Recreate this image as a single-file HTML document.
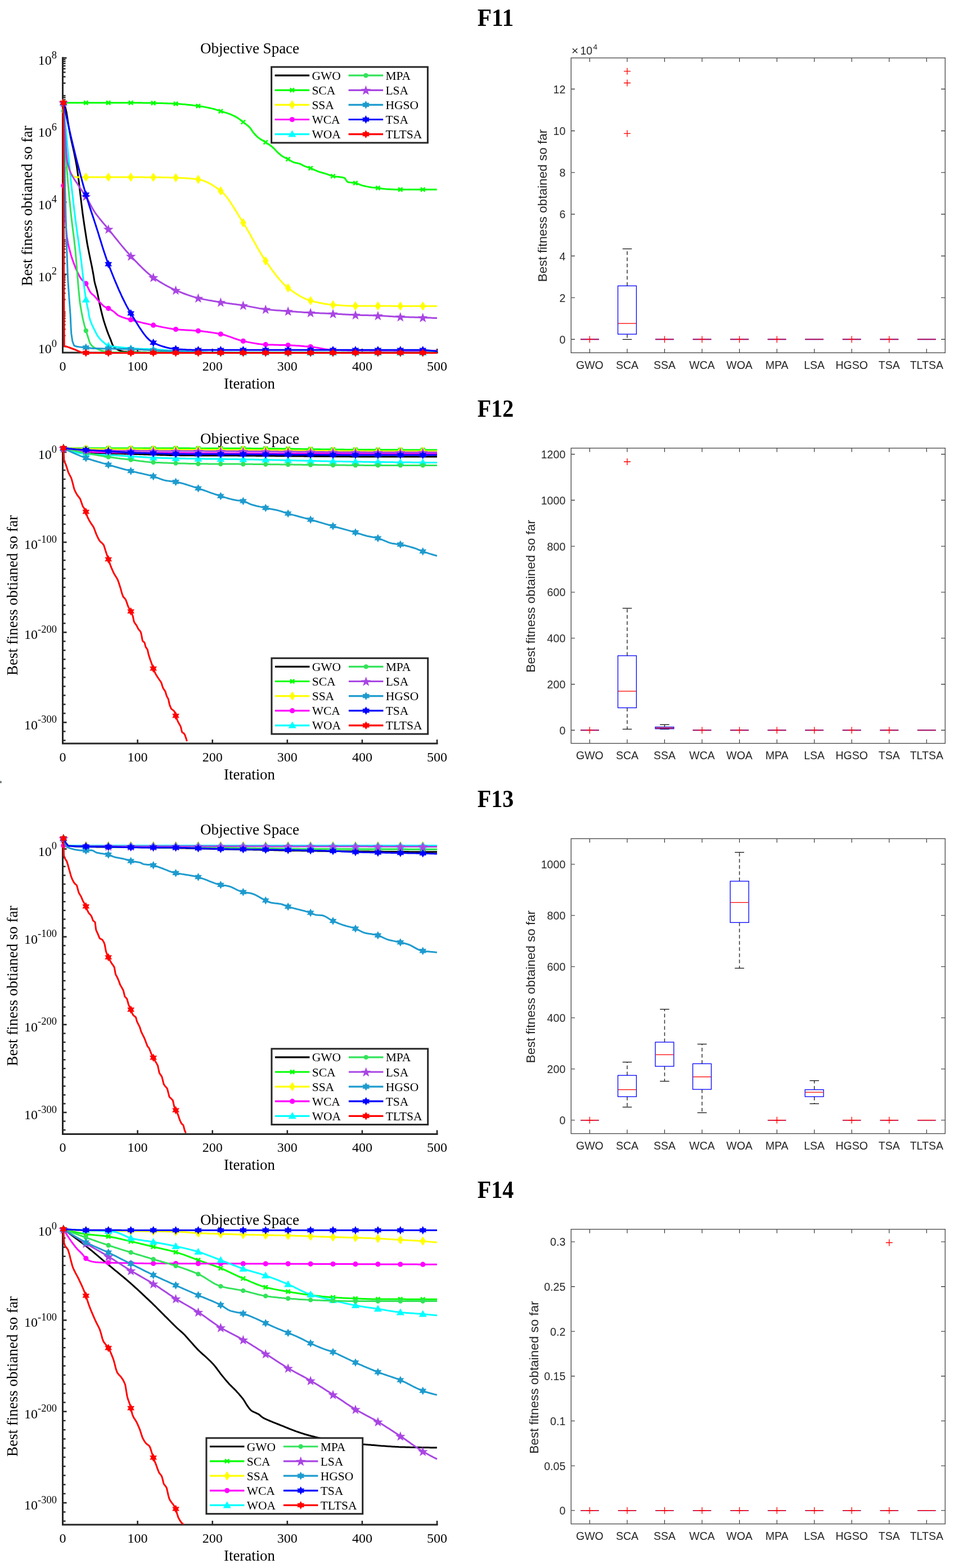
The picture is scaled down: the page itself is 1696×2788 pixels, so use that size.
<!DOCTYPE html>
<html><head><meta charset="utf-8"><title>Convergence curves and boxplots F11-F14</title>
<style>html,body{margin:0;padding:0;background:#fff;}svg{display:block;}</style></head>
<body>
<svg width="1696" height="2788" viewBox="0 0 1696 2788">
<rect width="1696" height="2788" fill="#fff"/>
<text x="881" y="46" font-family="'Liberation Serif', 'Times New Roman', serif" font-size="43.5" font-weight="bold" text-anchor="middle" fill="#000" textLength="64.5" lengthAdjust="spacingAndGlyphs">F11</text>
<path d="M111.5,101.5V627H778.5" fill="none" stroke="#262626" stroke-width="3"/>
<path d="M111.5,627v-7" stroke="#262626" stroke-width="2.6"/>
<text x="111.5" y="659" font-family="'Liberation Serif', 'Times New Roman', serif" font-size="24" text-anchor="middle" fill="#000">0</text>
<path d="M244.6,627v-7" stroke="#262626" stroke-width="2.6"/>
<text x="244.6" y="659" font-family="'Liberation Serif', 'Times New Roman', serif" font-size="24" text-anchor="middle" fill="#000">100</text>
<path d="M377.7,627v-7" stroke="#262626" stroke-width="2.6"/>
<text x="377.7" y="659" font-family="'Liberation Serif', 'Times New Roman', serif" font-size="24" text-anchor="middle" fill="#000">200</text>
<path d="M510.8,627v-7" stroke="#262626" stroke-width="2.6"/>
<text x="510.8" y="659" font-family="'Liberation Serif', 'Times New Roman', serif" font-size="24" text-anchor="middle" fill="#000">300</text>
<path d="M643.9,627v-7" stroke="#262626" stroke-width="2.6"/>
<text x="643.9" y="659" font-family="'Liberation Serif', 'Times New Roman', serif" font-size="24" text-anchor="middle" fill="#000">400</text>
<path d="M777,627v-7" stroke="#262626" stroke-width="2.6"/>
<text x="777" y="659" font-family="'Liberation Serif', 'Times New Roman', serif" font-size="24" text-anchor="middle" fill="#000">500</text>
<path d="M111.5,103h7" stroke="#262626" stroke-width="2.6"/>
<text x="101" y="115" font-family="'Liberation Serif', 'Times New Roman', serif" font-size="24" text-anchor="end" fill="#000">10<tspan dy="-11.5" font-size="18.5">8</tspan></text>
<path d="M111.5,231.2h7" stroke="#262626" stroke-width="2.6"/>
<text x="101" y="243.2" font-family="'Liberation Serif', 'Times New Roman', serif" font-size="24" text-anchor="end" fill="#000">10<tspan dy="-11.5" font-size="18.5">6</tspan></text>
<path d="M111.5,359.5h7" stroke="#262626" stroke-width="2.6"/>
<text x="101" y="371.5" font-family="'Liberation Serif', 'Times New Roman', serif" font-size="24" text-anchor="end" fill="#000">10<tspan dy="-11.5" font-size="18.5">4</tspan></text>
<path d="M111.5,487.8h7" stroke="#262626" stroke-width="2.6"/>
<text x="101" y="499.8" font-family="'Liberation Serif', 'Times New Roman', serif" font-size="24" text-anchor="end" fill="#000">10<tspan dy="-11.5" font-size="18.5">2</tspan></text>
<path d="M111.5,616h7" stroke="#262626" stroke-width="2.6"/>
<text x="101" y="628" font-family="'Liberation Serif', 'Times New Roman', serif" font-size="24" text-anchor="end" fill="#000">10<tspan dy="-11.5" font-size="18.5">0</tspan></text>
<path d="M111.5,596.7h5" stroke="#262626" stroke-width="2.4"/>
<path d="M111.5,585.4h5" stroke="#262626" stroke-width="2.4"/>
<path d="M111.5,577.4h5" stroke="#262626" stroke-width="2.4"/>
<path d="M111.5,571.2h5" stroke="#262626" stroke-width="2.4"/>
<path d="M111.5,566.1h5" stroke="#262626" stroke-width="2.4"/>
<path d="M111.5,561.8h5" stroke="#262626" stroke-width="2.4"/>
<path d="M111.5,558.1h5" stroke="#262626" stroke-width="2.4"/>
<path d="M111.5,554.8h5" stroke="#262626" stroke-width="2.4"/>
<path d="M111.5,532.6h5" stroke="#262626" stroke-width="2.4"/>
<path d="M111.5,521.3h5" stroke="#262626" stroke-width="2.4"/>
<path d="M111.5,513.3h5" stroke="#262626" stroke-width="2.4"/>
<path d="M111.5,507.1h5" stroke="#262626" stroke-width="2.4"/>
<path d="M111.5,502h5" stroke="#262626" stroke-width="2.4"/>
<path d="M111.5,497.7h5" stroke="#262626" stroke-width="2.4"/>
<path d="M111.5,494h5" stroke="#262626" stroke-width="2.4"/>
<path d="M111.5,490.7h5" stroke="#262626" stroke-width="2.4"/>
<path d="M111.5,468.4h5" stroke="#262626" stroke-width="2.4"/>
<path d="M111.5,457.2h5" stroke="#262626" stroke-width="2.4"/>
<path d="M111.5,449.1h5" stroke="#262626" stroke-width="2.4"/>
<path d="M111.5,442.9h5" stroke="#262626" stroke-width="2.4"/>
<path d="M111.5,437.9h5" stroke="#262626" stroke-width="2.4"/>
<path d="M111.5,433.6h5" stroke="#262626" stroke-width="2.4"/>
<path d="M111.5,429.8h5" stroke="#262626" stroke-width="2.4"/>
<path d="M111.5,426.6h5" stroke="#262626" stroke-width="2.4"/>
<path d="M111.5,404.3h5" stroke="#262626" stroke-width="2.4"/>
<path d="M111.5,393h5" stroke="#262626" stroke-width="2.4"/>
<path d="M111.5,385h5" stroke="#262626" stroke-width="2.4"/>
<path d="M111.5,378.8h5" stroke="#262626" stroke-width="2.4"/>
<path d="M111.5,373.7h5" stroke="#262626" stroke-width="2.4"/>
<path d="M111.5,369.4h5" stroke="#262626" stroke-width="2.4"/>
<path d="M111.5,365.7h5" stroke="#262626" stroke-width="2.4"/>
<path d="M111.5,362.4h5" stroke="#262626" stroke-width="2.4"/>
<path d="M111.5,340.2h5" stroke="#262626" stroke-width="2.4"/>
<path d="M111.5,328.9h5" stroke="#262626" stroke-width="2.4"/>
<path d="M111.5,320.9h5" stroke="#262626" stroke-width="2.4"/>
<path d="M111.5,314.7h5" stroke="#262626" stroke-width="2.4"/>
<path d="M111.5,309.6h5" stroke="#262626" stroke-width="2.4"/>
<path d="M111.5,305.3h5" stroke="#262626" stroke-width="2.4"/>
<path d="M111.5,301.6h5" stroke="#262626" stroke-width="2.4"/>
<path d="M111.5,298.3h5" stroke="#262626" stroke-width="2.4"/>
<path d="M111.5,276.1h5" stroke="#262626" stroke-width="2.4"/>
<path d="M111.5,264.8h5" stroke="#262626" stroke-width="2.4"/>
<path d="M111.5,256.8h5" stroke="#262626" stroke-width="2.4"/>
<path d="M111.5,250.6h5" stroke="#262626" stroke-width="2.4"/>
<path d="M111.5,245.5h5" stroke="#262626" stroke-width="2.4"/>
<path d="M111.5,241.2h5" stroke="#262626" stroke-width="2.4"/>
<path d="M111.5,237.5h5" stroke="#262626" stroke-width="2.4"/>
<path d="M111.5,234.2h5" stroke="#262626" stroke-width="2.4"/>
<path d="M111.5,211.9h5" stroke="#262626" stroke-width="2.4"/>
<path d="M111.5,200.7h5" stroke="#262626" stroke-width="2.4"/>
<path d="M111.5,192.6h5" stroke="#262626" stroke-width="2.4"/>
<path d="M111.5,186.4h5" stroke="#262626" stroke-width="2.4"/>
<path d="M111.5,181.4h5" stroke="#262626" stroke-width="2.4"/>
<path d="M111.5,177.1h5" stroke="#262626" stroke-width="2.4"/>
<path d="M111.5,173.3h5" stroke="#262626" stroke-width="2.4"/>
<path d="M111.5,170.1h5" stroke="#262626" stroke-width="2.4"/>
<path d="M111.5,147.8h5" stroke="#262626" stroke-width="2.4"/>
<path d="M111.5,136.5h5" stroke="#262626" stroke-width="2.4"/>
<path d="M111.5,128.5h5" stroke="#262626" stroke-width="2.4"/>
<path d="M111.5,122.3h5" stroke="#262626" stroke-width="2.4"/>
<path d="M111.5,117.2h5" stroke="#262626" stroke-width="2.4"/>
<path d="M111.5,112.9h5" stroke="#262626" stroke-width="2.4"/>
<path d="M111.5,109.2h5" stroke="#262626" stroke-width="2.4"/>
<path d="M111.5,105.9h5" stroke="#262626" stroke-width="2.4"/>
<polyline points="112.8,183 115.5,189.1 116.7,193 118.2,199.6 120.8,216.3 123.5,233 126.1,246.4 128.8,258.5 131.5,270.4 134.1,283.3 136.7,297.5 136.8,298.3 139.5,317.4 142.1,339.7 144.8,362.4 147,380 147.4,382.9 150.1,401.5 152.8,419 155,432.7 155.4,435 158.1,448.8 160.7,461.5 163.4,474.3 165.5,485.5 166.1,488.7 167.9,500 168.7,503.6 171.4,513.4 172.7,518.7 174.1,525.2 176.5,537.4 176.7,538.6 179.4,550.3 179.6,551.4 182,561.1 184.4,570 184.7,570.9 187.4,579.4 189,584.1 190,587.1 192.7,594.3 193.4,596 195.4,600.8 196.7,604 198,607.8 200,613 200.7,614.3 203.3,618 206,620 208.7,621.5 211.3,622.7 213.5,623.4 214,623.6 216.6,624.4 219.3,624.9 220,625 222,625.2 224.6,625.3 227.3,625.5 230,625.6 232.6,625.7 235.3,625.8 237.9,625.8 240.6,625.9 243.3,626 244.6,626 245.9,626 248.6,626.1 251.3,626.2 253.9,626.2 256.6,626.3 259.2,626.3 261.9,626.4 264.6,626.4 267.2,626.5 269.9,626.6 272.6,626.6 275.2,626.7 277.9,626.7 280.5,626.7 283.2,626.8 285.9,626.8 288.5,626.9 291.2,626.9 293.8,626.9 296.5,626.9 299.2,627 301.8,627 304.5,627 307.2,627 309.8,627 311.1,627 312.5,627 315.1,627 317.8,627 320.5,627 323.1,627 325.8,627 328.5,627 331.1,627 333.8,627 336.4,627 339.1,627 341.8,627 344.4,627 347.1,627 349.7,627 352.4,627 355.1,627 357.7,627 360.4,627 363.1,627 365.7,627 368.4,627 371,627 373.7,627 376.4,627 379,627 381.7,627 384.4,627 387,627 389.7,627 392.3,627 395,627 397.7,627 400.3,627 403,627 405.7,627 408.3,627 411,627 413.6,627 416.3,627 419,627 421.6,627 424.3,627 426.9,627 429.6,627 432.3,627 434.9,627 437.6,627 440.3,627 442.9,627 445.6,627 448.2,627 450.9,627 453.6,627 456.2,627 458.9,627 461.6,627 464.2,627 466.9,627 469.5,627 472.2,627 474.9,627 477.5,627 480.2,627 482.8,627 485.5,627 488.2,627 490.8,627 493.5,627 496.2,627 498.8,627 501.5,627 504.1,627 506.8,627 509.5,627 512.1,627 514.8,627 517.5,627 520.1,627 522.8,627 525.4,627 528.1,627 530.8,627 533.4,627 536.1,627 538.8,627 541.4,627 544.1,627 546.7,627 549.4,627 552.1,627 554.7,627 557.4,627 560,627 562.7,627 565.4,627 568,627 570.7,627 573.4,627 576,627 578.7,627 581.3,627 584,627 586.7,627 589.3,627 592,627 594.7,627 597.3,627 600,627 602.6,627 605.3,627 608,627 610.6,627 613.3,627 615.9,627 618.6,627 621.3,627 623.9,627 626.6,627 629.3,627 631.9,627 634.6,627 637.2,627 639.9,627 642.6,627 645.2,627 647.9,627 650.6,627 653.2,627 655.9,627 658.5,627 661.2,627 663.9,627 666.5,627 669.2,627 671.9,627 674.5,627 677.2,627 679.8,627 682.5,627 685.2,627 687.8,627 690.5,627 693.1,627 695.8,627 698.5,627 701.1,627 703.8,627 706.5,627 709.1,627 711.8,627 714.4,627 717.1,627 719.8,627 722.4,627 725.1,627 727.8,627 730.4,627 733.1,627 735.7,627 738.4,627 741.1,627 743.7,627 746.4,627 749,627 751.7,627 754.4,627 757,627 759.7,627 762.4,627 765,627 767.7,627 770.3,627 773,627 775.7,627 777,627" fill="none" stroke="#000000" stroke-width="3.0" stroke-linejoin="round"/>

















<polyline points="112.8,182.7 115.5,182.7 118.2,182.7 120.8,182.7 123.5,182.7 126.1,182.7 128.8,182.7 131.5,182.7 134.1,182.7 136.8,182.7 139.5,182.7 142.1,182.7 144.8,182.7 147.4,182.7 150.1,182.7 152.8,182.7 155.4,182.7 158.1,182.7 160.7,182.7 163.4,182.7 166.1,182.7 168.7,182.7 171.4,182.7 174.1,182.7 176.7,182.7 179.4,182.7 182,182.7 184.7,182.7 187.4,182.7 190,182.7 192.7,182.7 195.4,182.7 198,182.7 200.7,182.7 203.3,182.7 206,182.7 208.7,182.7 211.3,182.7 214,182.7 216.6,182.7 219.3,182.7 222,182.7 224.6,182.7 227.3,182.7 230,182.7 232.6,182.7 235.3,182.7 237.9,182.7 240.6,182.7 243.3,182.8 245.9,182.8 248.6,182.8 251.3,182.8 253.9,182.9 256.6,182.9 259.2,183 261.9,183 264.6,183.1 267.2,183.1 269.9,183.2 272.6,183.2 275.2,183.3 277.9,183.3 280.5,183.4 283.2,183.4 285.9,183.5 288.5,183.6 291.2,183.7 293.8,183.7 296.5,183.8 299.2,183.9 301.8,184 304.5,184.1 307.2,184.3 309.8,184.4 312.5,184.5 315.1,184.6 317.8,184.8 320.5,185 323.1,185.2 325.8,185.4 328.5,185.6 331.1,185.9 333.8,186.2 336.4,186.5 339.1,186.8 341.8,187.1 344.4,187.4 347.1,187.7 349.7,188.1 352.4,188.4 355.1,188.8 357.7,189.2 360.4,189.6 363.1,190.1 365.7,190.6 368.4,191.1 371,191.7 373.7,192.2 376.4,192.9 379,193.5 381.7,194.2 384.4,195.1 387,195.9 389.7,196.8 392.3,197.7 392.3,197.7 395,198.5 397.7,199.3 400.3,200.1 403,200.9 405.7,201.8 407.4,202.4 408.3,202.7 411,203.8 413.6,205 416.3,206.2 419,207.6 421,208.7 421.6,209.1 424.3,210.9 426.9,212.9 429.6,215 432,216.9 432.3,217.1 434.9,219.1 437.6,221.1 440.3,223.2 442.9,225.6 444.3,227 445.6,228.6 448.2,232.6 450.9,236.4 451.1,236.6 453.6,239.4 456.2,242.1 458.9,244.5 459.3,244.8 461.6,246.4 464.2,248.1 466.9,249.6 469.5,251.2 471.6,252.5 472.2,252.9 474.9,254.7 477.5,256.4 480.2,258.3 482.8,260.3 483.9,261.2 485.5,262.6 488.2,265.3 490.8,268.1 493.5,270.8 494.9,272.1 496.2,273.2 498.8,275.5 501.5,277.5 501.7,277.6 504.1,279 506.8,280.3 509.5,281.6 511.3,282.5 512.1,283 514.8,284.6 517.5,286.2 520.1,287.7 522.2,288.6 522.8,288.8 525.4,289.5 528.1,290 530.8,290.6 533.2,291.3 533.4,291.4 536.1,292.6 538.8,294.1 541.4,295.4 541.4,295.4 544.1,296.4 546.7,297.3 549.4,298.2 551.8,299 552.1,299.1 554.7,300.2 557.4,301.4 560,302.6 562.7,303.7 565.4,304.8 566,305 568,305.7 570.7,306.5 573.4,307.3 576,308 578.7,308.8 579.7,309.1 581.3,309.6 584,310.6 586.7,311.6 589.3,312.5 592,313.2 592,313.2 594.7,313.7 597.3,314.1 600,314.3 602.6,314.6 605.3,314.9 608,315.3 610.6,315.9 612.5,316.5 613.3,317.1 615.9,321.3 618,323.6 618.6,323.8 621.3,324.3 623.9,324.6 626.6,324.9 629.3,325.1 631.6,325.5 631.9,325.6 634.6,326.3 637.2,327.2 639.9,328.3 642.6,329.3 645.2,330.1 645.3,330.1 647.9,330.7 650.6,331.4 653.2,331.9 655.9,332.4 658.5,332.8 659,332.9 661.2,333.2 663.9,333.5 666.5,333.7 669.2,334 671.3,334.2 671.9,334.3 674.5,334.6 677.2,335 679.8,335.4 682.5,335.8 685.2,336.1 687.8,336.3 689.1,336.4 690.5,336.5 693.1,336.6 695.8,336.7 698.5,336.8 701.1,336.9 703.8,336.9 706.5,337 709.1,337 711,337 711.8,337 714.4,337 717.1,337 719.8,337 722.4,337 725.1,337 727.8,337 730.4,337 733.1,337 735.7,337 738.4,337 741.1,337 743.7,337 746.4,337 749,337 751.7,337 754.4,337 757,337 759.7,337 762.4,337 765,337 767.7,337 770.3,337 773,337 775.7,337 776.6,337" fill="none" stroke="#00ff00" stroke-width="3.0" stroke-linejoin="round"/>
<path d="M109.2,179.1L116.4,186.3M109.2,186.3L116.4,179.1" stroke="#00ff00" stroke-width="2.6" fill="none"/>
<path d="M149.2,179.1L156.4,186.3M149.2,186.3L156.4,179.1" stroke="#00ff00" stroke-width="2.6" fill="none"/>
<path d="M189.1,179.1L196.3,186.3M189.1,186.3L196.3,179.1" stroke="#00ff00" stroke-width="2.6" fill="none"/>
<path d="M229,179.1L236.2,186.3M229,186.3L236.2,179.1" stroke="#00ff00" stroke-width="2.6" fill="none"/>
<path d="M269,179.6L276.2,186.8M269,186.8L276.2,179.6" stroke="#00ff00" stroke-width="2.6" fill="none"/>
<path d="M308.9,180.9L316.1,188.1M308.9,188.1L316.1,180.9" stroke="#00ff00" stroke-width="2.6" fill="none"/>
<path d="M348.8,184.8L356,192M348.8,192L356,184.8" stroke="#00ff00" stroke-width="2.6" fill="none"/>
<path d="M388.7,194.1L395.9,201.3M388.7,201.3L395.9,194.1" stroke="#00ff00" stroke-width="2.6" fill="none"/>
<path d="M428.7,213.5L435.9,220.7M428.7,220.7L435.9,213.5" stroke="#00ff00" stroke-width="2.6" fill="none"/>
<path d="M468.6,249.3L475.8,256.5M468.6,256.5L475.8,249.3" stroke="#00ff00" stroke-width="2.6" fill="none"/>
<path d="M508.5,279.4L515.7,286.6M508.5,286.6L515.7,279.4" stroke="#00ff00" stroke-width="2.6" fill="none"/>
<path d="M548.5,295.5L555.7,302.7M548.5,302.7L555.7,295.5" stroke="#00ff00" stroke-width="2.6" fill="none"/>
<path d="M588.4,309.6L595.6,316.8M588.4,316.8L595.6,309.6" stroke="#00ff00" stroke-width="2.6" fill="none"/>
<path d="M628.3,322L635.5,329.2M628.3,329.2L635.5,322" stroke="#00ff00" stroke-width="2.6" fill="none"/>
<path d="M668.3,330.7L675.5,337.9M668.3,337.9L675.5,330.7" stroke="#00ff00" stroke-width="2.6" fill="none"/>
<path d="M708.2,333.4L715.4,340.6M708.2,340.6L715.4,333.4" stroke="#00ff00" stroke-width="2.6" fill="none"/>
<path d="M748.1,333.4L755.3,340.6M748.1,340.6L755.3,333.4" stroke="#00ff00" stroke-width="2.6" fill="none"/>
<polyline points="112.8,182.7 115.5,250 118.2,281.2 119.5,290 120.8,295.7 123.5,303.6 124.8,306 126.1,308 128.8,311.4 131.5,313.8 134.1,314.8 136.8,314.9 139.5,314.9 142.1,314.9 144.8,315 147.4,315 150.1,315 152.8,315 155.4,315 158.1,315 160.7,315 163.4,315 166.1,315 168.7,315 171.4,315.1 174.1,315.1 176.7,315.1 179.4,315.1 182,315.1 184.7,315.1 187.4,315.1 190,315.1 192.7,315.1 195.4,315.1 198,315.1 200.7,315.1 203.3,315.1 206,315.1 208.7,315.1 211.3,315.1 214,315.1 216.6,315.1 219.3,315.1 222,315.1 224.6,315.1 227.3,315.1 230,315.1 232.6,315.1 235.3,315.1 237.9,315.1 240.6,315.1 243.3,315.1 245.9,315.1 248.6,315.1 251.3,315.1 253.9,315.1 256.6,315.2 259.2,315.2 261.9,315.2 264.6,315.2 267.2,315.2 269.9,315.2 272.6,315.2 275.2,315.2 277.9,315.2 280.5,315.3 283.2,315.3 285.9,315.3 288.5,315.4 291.2,315.4 293.8,315.5 296.5,315.6 299.2,315.6 301.8,315.7 304.5,315.8 307.2,315.8 309.8,315.9 312.5,316 315.1,316.1 317.8,316.2 320.5,316.3 323.1,316.4 325.8,316.6 328.5,316.7 331.1,316.9 333.8,317.1 336.4,317.3 339.1,317.5 341.8,317.8 344.4,318.1 347.1,318.3 349.7,318.7 352.4,319 355.1,319.4 357.7,320.1 360.4,320.8 363.1,321.8 365.7,322.8 368.4,324.1 371,325.4 373.7,326.8 376.4,328.4 379,330.1 381.7,331.8 384.4,333.6 387,335.5 389.7,337.4 392.3,339.4 395,341.6 397.7,344.2 400.3,347.1 403,350.4 405.7,353.9 408.3,357.7 411,361.7 413.6,365.8 416.3,370.1 419,374.4 421.6,378.8 424.3,383.2 426.9,387.5 429.6,391.8 432.3,396 434.9,400.2 437.6,404.6 440.3,409.2 442.9,413.8 445.6,418.6 448.2,423.4 450.9,428.2 453.6,433 456.2,437.8 458.9,442.5 461.6,447.1 464.2,451.6 466.9,455.9 469.5,460 472.2,463.9 474.9,467.7 477.5,471.4 480.2,475.1 482.8,478.8 485.5,482.4 488.2,486 490.8,489.5 493.5,492.8 496.2,496 498.8,499.1 501.5,502.1 504.1,504.9 506.8,507.5 509.5,509.8 512.1,512 514.8,514 517.5,516 520.1,517.9 522.8,519.8 525.4,521.6 528.1,523.3 530.8,525 533.4,526.5 536.1,528 538.8,529.4 541.4,530.6 544.1,531.8 546.7,532.9 549.4,533.8 552.1,534.6 554.7,535.3 557.4,536 560,536.7 562.7,537.3 565.4,537.9 568,538.5 570.7,539 573.4,539.5 576,540 578.7,540.4 581.3,540.8 584,541.2 586.7,541.5 589.3,541.8 592,542 594.7,542.2 597.3,542.4 600,542.6 602.6,542.8 605.3,543 608,543.1 610.6,543.3 613.3,543.4 615.9,543.6 618.6,543.7 621.3,543.8 623.9,543.9 626.6,543.9 629.3,544 631.9,544 634.6,544 637.2,544 639.9,544 642.6,544 645.2,544 647.9,544 650.6,544.1 653.2,544.1 655.9,544.1 658.5,544.1 661.2,544.1 663.9,544.1 666.5,544.1 669.2,544.1 671.9,544.1 674.5,544.1 677.2,544.1 679.8,544.1 682.5,544.1 685.2,544.1 687.8,544.1 690.5,544.1 693.1,544.1 695.8,544.1 698.5,544.2 701.1,544.2 703.8,544.2 706.5,544.2 709.1,544.2 711.8,544.2 714.4,544.2 717.1,544.2 719.8,544.2 722.4,544.2 725.1,544.2 727.8,544.2 730.4,544.2 733.1,544.2 735.7,544.2 738.4,544.2 741.1,544.2 743.7,544.2 746.4,544.2 749,544.2 751.7,544.2 754.4,544.2 757,544.2 759.7,544.2 762.4,544.2 765,544.2 767.7,544.2 770.3,544.2 773,544.2 775.7,544.2 777,544.2" fill="none" stroke="#ffff00" stroke-width="3.0" stroke-linejoin="round"/>
<path d="M112.8,175.2L117.6,182.7L112.8,190.2L108,182.7Z" fill="#ffff00" stroke="#ffff00" stroke-width="1"/>
<path d="M152.8,307.5L157.6,315L152.8,322.5L148,315Z" fill="#ffff00" stroke="#ffff00" stroke-width="1"/>
<path d="M192.7,307.6L197.5,315.1L192.7,322.6L187.9,315.1Z" fill="#ffff00" stroke="#ffff00" stroke-width="1"/>
<path d="M232.6,307.6L237.4,315.1L232.6,322.6L227.8,315.1Z" fill="#ffff00" stroke="#ffff00" stroke-width="1"/>
<path d="M272.6,307.7L277.4,315.2L272.6,322.7L267.8,315.2Z" fill="#ffff00" stroke="#ffff00" stroke-width="1"/>
<path d="M312.5,308.5L317.3,316L312.5,323.5L307.7,316Z" fill="#ffff00" stroke="#ffff00" stroke-width="1"/>
<path d="M352.4,311.5L357.2,319L352.4,326.5L347.6,319Z" fill="#ffff00" stroke="#ffff00" stroke-width="1"/>
<path d="M392.3,331.9L397.1,339.4L392.3,346.9L387.5,339.4Z" fill="#ffff00" stroke="#ffff00" stroke-width="1"/>
<path d="M432.3,388.5L437.1,396L432.3,403.5L427.5,396Z" fill="#ffff00" stroke="#ffff00" stroke-width="1"/>
<path d="M472.2,456.4L477,463.9L472.2,471.4L467.4,463.9Z" fill="#ffff00" stroke="#ffff00" stroke-width="1"/>
<path d="M512.1,504.5L516.9,512L512.1,519.5L507.3,512Z" fill="#ffff00" stroke="#ffff00" stroke-width="1"/>
<path d="M552.1,527.1L556.9,534.6L552.1,542.1L547.3,534.6Z" fill="#ffff00" stroke="#ffff00" stroke-width="1"/>
<path d="M592,534.5L596.8,542L592,549.5L587.2,542Z" fill="#ffff00" stroke="#ffff00" stroke-width="1"/>
<path d="M631.9,536.5L636.7,544L631.9,551.5L627.1,544Z" fill="#ffff00" stroke="#ffff00" stroke-width="1"/>
<path d="M671.9,536.6L676.7,544.1L671.9,551.6L667.1,544.1Z" fill="#ffff00" stroke="#ffff00" stroke-width="1"/>
<path d="M711.8,536.7L716.6,544.2L711.8,551.7L707,544.2Z" fill="#ffff00" stroke="#ffff00" stroke-width="1"/>
<path d="M751.7,536.7L756.5,544.2L751.7,551.7L746.9,544.2Z" fill="#ffff00" stroke="#ffff00" stroke-width="1"/>
<polyline points="112.8,330 115.5,379.2 118.2,414.1 119.1,422 120.8,432.3 123.3,443 123.5,443.5 126.1,453.1 128.8,461.5 131.5,469 133.9,475 134.1,475.6 136.8,481.9 139.5,487.6 142.1,492.6 144.4,496 144.8,496.5 147.4,499.2 150.1,501.4 152.8,504.2 155.4,509.1 158.1,515.1 160.6,519.6 160.7,519.8 163.4,522.6 166.1,524.8 167.9,526.6 168.7,527.5 171.4,530.5 174.1,533.7 176.7,536.7 177.4,537.4 179.4,539.4 182,542.1 184.7,544.5 186.7,545.8 187.4,546.1 190,547.2 192.7,548.3 195.4,549.7 198,551.3 200.7,553 202.9,554.6 203.3,554.9 206,557.4 208.7,559.8 210,560.7 211.3,561.4 214,562.6 216.6,563.7 219.3,564.6 222,565.5 224.6,566.3 227.3,567 230,567.7 232.6,568.5 235.3,569.3 237.9,570 240.6,570.7 243.3,571.4 245.9,572.1 248.6,572.8 251.3,573.4 253.9,574.1 256.6,574.7 259.2,575.3 261.9,575.9 264.6,576.5 267.2,577.1 269.9,577.6 272.6,578.2 275.2,578.8 277.9,579.3 280.5,579.9 283.2,580.5 285.9,581 288.5,581.6 291.2,582.1 293.8,582.6 296.5,583.1 299.2,583.6 301.8,584.1 304.5,584.5 307.2,584.9 309.8,585.2 312.5,585.5 315.1,585.8 317.8,586 320.5,586.2 323.1,586.4 325.8,586.5 328.5,586.7 331.1,586.9 333.8,587 336.4,587.2 339.1,587.3 341.8,587.5 344.4,587.7 347.1,587.9 349.7,588.1 352.4,588.3 355.1,588.6 357.7,588.8 360.4,589.1 363.1,589.4 365.7,589.8 368.4,590.1 371,590.5 373.7,590.8 376.4,591.2 379,591.6 381.7,592.1 384.4,592.5 387,593 389.7,593.5 392.3,594 395,594.6 397.7,595.3 400.3,596 403,596.9 405.7,597.8 408.3,598.7 411,599.6 413.6,600.6 416.3,601.6 419,602.5 421.6,603.4 424.3,604.3 426.9,605.1 429.6,605.8 432.3,606.4 434.9,607 437.6,607.5 440.3,608.1 442.9,608.6 445.6,609.1 448.2,609.6 450.9,610.1 453.6,610.6 456.2,611 458.9,611.4 461.6,611.8 464.2,612.1 466.9,612.3 469.5,612.5 472.2,612.7 474.9,612.8 477.5,612.9 480.2,613 482.8,613.1 485.5,613.1 488.2,613.2 490.8,613.3 493.5,613.3 496.2,613.4 498.8,613.4 501.5,613.5 504.1,613.5 506.8,613.6 509.5,613.7 512.1,613.8 514.8,613.9 517.5,614 520.1,614.2 522.8,614.3 525.4,614.5 528.1,614.7 530.8,614.8 533.4,615 536.1,615.2 538.8,615.4 541.4,615.7 544.1,615.9 546.7,616.1 549.4,616.4 552.1,616.6 554.7,616.9 557.4,617.2 560,617.6 562.7,618.1 565.4,618.5 568,619 570.7,619.5 573.4,620 576,620.5 578.7,620.9 581.3,621.3 584,621.7 586.7,622 589.3,622.2 592,622.3 594.7,622.4 597.3,622.5 600,622.5 602.6,622.6 605.3,622.6 608,622.7 610.6,622.7 613.3,622.8 615.9,622.8 618.6,622.9 621.3,622.9 623.9,622.9 626.6,623 629.3,623 631.9,623 634.6,623 637.2,623 639.9,623.1 642.6,623.1 645.2,623.1 647.9,623.1 650.6,623.1 653.2,623.1 655.9,623.1 658.5,623.2 661.2,623.2 663.9,623.2 666.5,623.2 669.2,623.2 671.9,623.2 674.5,623.2 677.2,623.3 679.8,623.3 682.5,623.3 685.2,623.3 687.8,623.3 690.5,623.3 693.1,623.3 695.8,623.3 698.5,623.3 701.1,623.4 703.8,623.4 706.5,623.4 709.1,623.4 711.8,623.4 714.4,623.4 717.1,623.4 719.8,623.4 722.4,623.4 725.1,623.4 727.8,623.4 730.4,623.4 733.1,623.5 735.7,623.5 738.4,623.5 741.1,623.5 743.7,623.5 746.4,623.5 749,623.5 751.7,623.5 754.4,623.5 757,623.5 759.7,623.5 762.4,623.5 765,623.5 767.7,623.5 770.3,623.5 773,623.5 775.7,623.5 777,623.5" fill="none" stroke="#ff00ff" stroke-width="3.0" stroke-linejoin="round"/>
<circle cx="112.8" cy="330" r="4.6" fill="#ff00ff"/>
<circle cx="152.8" cy="504.2" r="4.6" fill="#ff00ff"/>
<circle cx="192.7" cy="548.3" r="4.6" fill="#ff00ff"/>
<circle cx="232.6" cy="568.5" r="4.6" fill="#ff00ff"/>
<circle cx="272.6" cy="578.2" r="4.6" fill="#ff00ff"/>
<circle cx="312.5" cy="585.5" r="4.6" fill="#ff00ff"/>
<circle cx="352.4" cy="588.3" r="4.6" fill="#ff00ff"/>
<circle cx="392.3" cy="594" r="4.6" fill="#ff00ff"/>
<circle cx="432.3" cy="606.4" r="4.6" fill="#ff00ff"/>
<circle cx="472.2" cy="612.7" r="4.6" fill="#ff00ff"/>
<circle cx="512.1" cy="613.8" r="4.6" fill="#ff00ff"/>
<circle cx="552.1" cy="616.6" r="4.6" fill="#ff00ff"/>
<circle cx="592" cy="622.3" r="4.6" fill="#ff00ff"/>
<circle cx="631.9" cy="623" r="4.6" fill="#ff00ff"/>
<circle cx="671.9" cy="623.2" r="4.6" fill="#ff00ff"/>
<circle cx="711.8" cy="623.4" r="4.6" fill="#ff00ff"/>
<circle cx="751.7" cy="623.5" r="4.6" fill="#ff00ff"/>
<polyline points="112.8,183 115.5,213.1 118.2,242 120.8,269.7 123.5,296.2 126.1,321.6 128.8,345.8 131.5,368.9 132.8,380 134.1,390.6 136.8,410.3 139.5,428.7 142.1,447.3 144.4,464 144.8,467.1 147.4,490.2 150.1,513.6 152.8,532.7 155.4,545 156.8,551.4 158.1,560.2 158.6,563.1 160.7,570.4 163.4,577.1 166.1,582.8 167.9,586.4 168.7,588 171.4,593.4 172.7,595.8 174.1,597.9 176.7,601.4 179.4,604.3 182,606.8 183.4,608 184.7,609.1 187.4,611.5 190,613.5 192.7,614.7 195.4,615.3 198,615.7 200,616 200.7,616.1 203.3,616.4 206,616.7 208.7,616.9 211.3,617.2 214,617.4 216.6,617.7 219.3,617.9 220,618 222,618.2 224.6,618.6 227.3,619 230,619.3 232.6,619.5 235.3,619.7 237.9,619.8 240.6,619.9 243.3,620 245.9,620.1 248.6,620.2 251.3,620.3 253.9,620.4 256.6,620.4 259.2,620.5 261.9,620.6 264.6,620.7 267.2,620.8 269.9,620.9 272.6,621 275.2,621.1 277.9,621.3 280.5,621.5 283.2,621.7 285.9,621.9 288.5,622.1 291.2,622.4 293.8,622.6 296.5,622.8 299.2,623.1 301.8,623.3 304.5,623.5 307.2,623.7 309.8,623.8 312.5,624 315.1,624.1 317.8,624.3 320.5,624.4 323.1,624.6 325.8,624.7 328.5,624.8 331.1,625 333.8,625.1 336.4,625.2 339.1,625.4 341.8,625.5 344.4,625.6 347.1,625.7 349.7,625.8 352.4,625.9 355.1,626 357.7,626.1 360.4,626.2 363.1,626.3 365.7,626.3 368.4,626.4 371,626.4 373.7,626.5 376.4,626.5 377.7,626.5 379,626.5 381.7,626.5 384.4,626.5 387,626.5 389.7,626.5 392.3,626.5 395,626.6 397.7,626.6 400.3,626.6 403,626.6 405.7,626.6 408.3,626.6 411,626.6 413.6,626.6 416.3,626.6 419,626.6 421.6,626.6 424.3,626.6 426.9,626.6 429.6,626.6 432.3,626.7 434.9,626.7 437.6,626.7 440.3,626.7 442.9,626.7 445.6,626.7 448.2,626.7 450.9,626.7 453.6,626.7 456.2,626.7 458.9,626.7 461.6,626.7 464.2,626.7 466.9,626.7 469.5,626.7 472.2,626.7 474.9,626.7 477.5,626.8 480.2,626.8 482.8,626.8 485.5,626.8 488.2,626.8 490.8,626.8 493.5,626.8 496.2,626.8 498.8,626.8 501.5,626.8 504.1,626.8 506.8,626.8 509.5,626.8 512.1,626.8 514.8,626.8 517.5,626.8 520.1,626.8 522.8,626.8 525.4,626.8 528.1,626.8 530.8,626.8 533.4,626.9 536.1,626.9 538.8,626.9 541.4,626.9 544.1,626.9 546.7,626.9 549.4,626.9 552.1,626.9 554.7,626.9 557.4,626.9 560,626.9 562.7,626.9 565.4,626.9 568,626.9 570.7,626.9 573.4,626.9 576,626.9 578.7,626.9 581.3,626.9 584,626.9 586.7,626.9 589.3,626.9 592,626.9 594.7,626.9 597.3,626.9 600,626.9 602.6,626.9 605.3,626.9 608,626.9 610.6,626.9 613.3,626.9 615.9,626.9 618.6,626.9 621.3,626.9 623.9,626.9 626.6,627 629.3,627 631.9,627 634.6,627 637.2,627 639.9,627 642.6,627 645.2,627 647.9,627 650.6,627 653.2,627 655.9,627 658.5,627 661.2,627 663.9,627 666.5,627 669.2,627 671.9,627 674.5,627 677.2,627 679.8,627 682.5,627 685.2,627 687.8,627 690.5,627 693.1,627 695.8,627 698.5,627 701.1,627 703.8,627 706.5,627 709.1,627 711.8,627 714.4,627 717.1,627 719.8,627 722.4,627 725.1,627 727.8,627 730.4,627 733.1,627 735.7,627 738.4,627 741.1,627 743.7,627 746.4,627 749,627 751.7,627 754.4,627 757,627 759.7,627 762.4,627 765,627 767.7,627 770.3,627 773,627 775.7,627 777,627" fill="none" stroke="#00ffff" stroke-width="3.0" stroke-linejoin="round"/>
<path d="M112.8,176L119.8,188L105.8,188Z" fill="#00ffff"/>
<path d="M152.8,525.7L159.8,537.7L145.8,537.7Z" fill="#00ffff"/>
<path d="M192.7,607.7L199.7,619.7L185.7,619.7Z" fill="#00ffff"/>
<path d="M232.6,612.5L239.6,624.5L225.6,624.5Z" fill="#00ffff"/>
<path d="M272.6,614L279.6,626L265.6,626Z" fill="#00ffff"/>
<path d="M312.5,617L319.5,629L305.5,629Z" fill="#00ffff"/>
<path d="M352.4,618.9L359.4,630.9L345.4,630.9Z" fill="#00ffff"/>
<path d="M392.3,619.5L399.3,631.5L385.3,631.5Z" fill="#00ffff"/>
<path d="M432.3,619.7L439.3,631.7L425.3,631.7Z" fill="#00ffff"/>
<path d="M472.2,619.7L479.2,631.7L465.2,631.7Z" fill="#00ffff"/>
<path d="M512.1,619.8L519.1,631.8L505.1,631.8Z" fill="#00ffff"/>
<path d="M552.1,619.9L559.1,631.9L545.1,631.9Z" fill="#00ffff"/>
<path d="M592,619.9L599,631.9L585,631.9Z" fill="#00ffff"/>
<path d="M631.9,620L638.9,632L624.9,632Z" fill="#00ffff"/>
<path d="M671.9,620L678.9,632L664.9,632Z" fill="#00ffff"/>
<path d="M711.8,620L718.8,632L704.8,632Z" fill="#00ffff"/>
<path d="M751.7,620L758.7,632L744.7,632Z" fill="#00ffff"/>
<polyline points="112.8,197.4 115.5,250.9 116.8,273 118.2,291.8 120.8,325 123.5,353.8 126.1,380 128.8,402.8 131.5,423.4 133.7,443 134.1,447 136.8,478.7 139.5,512.5 142.1,538 144.8,554.2 147.4,567.4 150.1,578.4 152.8,588 155,594.7 155.4,596 157.7,603.4 158.1,604.7 160.2,610.7 160.7,611.5 163.4,614.8 166.1,617 166.7,617.4 168.7,618.6 171.4,619.9 174.1,621 176.7,622 179.4,623 182,623.8 184.7,624.6 186.7,625 187.4,625.1 190,625.6 192.7,626.1 195.4,626.4 198,626.5 200.7,626.5 203.3,626.5 206,626.5 208.7,626.5 211.3,626.5 214,626.5 216.6,626.5 219.3,626.6 222,626.6 224.6,626.6 227.3,626.6 230,626.6 232.6,626.6 235.3,626.6 237.9,626.6 240.6,626.6 243.3,626.6 245.9,626.6 248.6,626.6 251.3,626.6 253.9,626.6 256.6,626.6 259.2,626.6 261.9,626.6 264.6,626.6 267.2,626.7 269.9,626.7 272.6,626.7 275.2,626.7 277.9,626.7 280.5,626.7 283.2,626.7 285.9,626.7 288.5,626.7 291.2,626.7 293.8,626.7 296.5,626.7 299.2,626.7 301.8,626.7 304.5,626.7 307.2,626.7 309.8,626.7 312.5,626.7 315.1,626.7 317.8,626.7 320.5,626.7 323.1,626.8 325.8,626.8 328.5,626.8 331.1,626.8 333.8,626.8 336.4,626.8 339.1,626.8 341.8,626.8 344.4,626.8 347.1,626.8 349.7,626.8 352.4,626.8 355.1,626.8 357.7,626.8 360.4,626.8 363.1,626.8 365.7,626.8 368.4,626.8 371,626.8 373.7,626.8 376.4,626.8 379,626.8 381.7,626.8 384.4,626.8 387,626.8 389.7,626.8 392.3,626.8 395,626.8 397.7,626.9 400.3,626.9 403,626.9 405.7,626.9 408.3,626.9 411,626.9 413.6,626.9 416.3,626.9 419,626.9 421.6,626.9 424.3,626.9 426.9,626.9 429.6,626.9 432.3,626.9 434.9,626.9 437.6,626.9 440.3,626.9 442.9,626.9 445.6,626.9 448.2,626.9 450.9,626.9 453.6,626.9 456.2,626.9 458.9,626.9 461.6,626.9 464.2,626.9 466.9,626.9 469.5,626.9 472.2,626.9 474.9,626.9 477.5,626.9 480.2,626.9 482.8,626.9 485.5,626.9 488.2,626.9 490.8,626.9 493.5,626.9 496.2,626.9 498.8,626.9 501.5,626.9 504.1,626.9 506.8,626.9 509.5,626.9 512.1,626.9 514.8,626.9 517.5,626.9 520.1,627 522.8,627 525.4,627 528.1,627 530.8,627 533.4,627 536.1,627 538.8,627 541.4,627 544.1,627 546.7,627 549.4,627 552.1,627 554.7,627 557.4,627 560,627 562.7,627 565.4,627 568,627 570.7,627 573.4,627 576,627 578.7,627 581.3,627 584,627 586.7,627 589.3,627 592,627 594.7,627 597.3,627 600,627 602.6,627 605.3,627 608,627 610.6,627 613.3,627 615.9,627 618.6,627 621.3,627 623.9,627 626.6,627 629.3,627 631.9,627 634.6,627 637.2,627 639.9,627 642.6,627 645.2,627 647.9,627 650.6,627 653.2,627 655.9,627 658.5,627 661.2,627 663.9,627 666.5,627 669.2,627 671.9,627 674.5,627 677.2,627 679.8,627 682.5,627 685.2,627 687.8,627 690.5,627 693.1,627 695.8,627 698.5,627 701.1,627 703.8,627 706.5,627 709.1,627 711.8,627 714.4,627 717.1,627 719.8,627 722.4,627 725.1,627 727.8,627 730.4,627 733.1,627 735.7,627 738.4,627 741.1,627 743.7,627 746.4,627 749,627 751.7,627 754.4,627 757,627 759.7,627 762.4,627 765,627 767.7,627 770.3,627 773,627 775.7,627 777,627" fill="none" stroke="#33e35a" stroke-width="3.0" stroke-linejoin="round"/>
<circle cx="112.8" cy="197.4" r="4.2" fill="#33e35a"/>
<circle cx="152.8" cy="588" r="4.2" fill="#33e35a"/>
<circle cx="192.7" cy="626.1" r="4.2" fill="#33e35a"/>
<circle cx="232.6" cy="626.6" r="4.2" fill="#33e35a"/>
<circle cx="272.6" cy="626.7" r="4.2" fill="#33e35a"/>
<circle cx="312.5" cy="626.7" r="4.2" fill="#33e35a"/>
<circle cx="352.4" cy="626.8" r="4.2" fill="#33e35a"/>
<circle cx="392.3" cy="626.8" r="4.2" fill="#33e35a"/>
<circle cx="432.3" cy="626.9" r="4.2" fill="#33e35a"/>
<circle cx="472.2" cy="626.9" r="4.2" fill="#33e35a"/>
<circle cx="512.1" cy="626.9" r="4.2" fill="#33e35a"/>
<circle cx="552.1" cy="627" r="4.2" fill="#33e35a"/>
<circle cx="592" cy="627" r="4.2" fill="#33e35a"/>
<circle cx="631.9" cy="627" r="4.2" fill="#33e35a"/>
<circle cx="671.9" cy="627" r="4.2" fill="#33e35a"/>
<circle cx="711.8" cy="627" r="4.2" fill="#33e35a"/>
<circle cx="751.7" cy="627" r="4.2" fill="#33e35a"/>
<polyline points="112.8,182.7 115.5,235 118.2,276.5 119.5,287 120.8,292.4 123.5,301.4 126.1,308.3 128.8,313.5 131.5,317.8 134.1,321.7 136.8,325.6 138.1,327.8 139.5,330 142.1,334 144.8,337.7 147.4,341.3 150.1,345 152.8,349 155.4,353.6 158.1,358.6 160.7,363.7 163.4,368.7 166.1,373.4 167.4,375.5 168.7,377.5 171.4,381.3 174.1,384.8 176.7,388.2 179.4,391.5 182,394.7 184.7,397.9 187.4,401 190,404.2 192.7,407.4 195.4,410.7 198,414 200.7,417.3 203.3,420.7 206,424 208.7,427.3 211.3,430.6 214,433.9 216.6,437.1 219.3,440.3 222,443.5 224.6,446.6 227.3,449.6 230,452.5 232.6,455.4 235.3,458.2 237.9,461 240.6,463.9 243.3,466.6 245.9,469.4 248.6,472.1 251.3,474.8 253.9,477.4 256.6,479.9 259.2,482.4 261.9,484.8 264.6,487.1 267.2,489.3 269.9,491.3 272.6,493.3 275.2,495.2 277.9,497 280.5,498.7 283.2,500.5 285.9,502.1 288.5,503.7 291.2,505.3 293.8,506.8 296.5,508.2 299.2,509.7 301.8,511 304.5,512.3 307.2,513.6 309.8,514.8 312.5,516 315.1,517.1 317.8,518.3 320.5,519.4 323.1,520.4 325.8,521.5 328.5,522.5 331.1,523.5 333.8,524.4 336.4,525.3 339.1,526.2 341.8,527.1 344.4,527.9 347.1,528.6 349.7,529.3 352.4,530 355.1,530.6 357.7,531.2 360.4,531.8 363.1,532.4 365.7,532.9 368.4,533.4 371,533.9 373.7,534.3 376.4,534.8 379,535.3 381.7,535.7 384.4,536.1 387,536.6 389.7,537 392.3,537.4 395,537.8 397.7,538.2 400.3,538.6 403,539 405.7,539.3 408.3,539.7 411,540 413.6,540.4 416.3,540.8 419,541.1 421.6,541.5 424.3,541.8 426.9,542.2 429.6,542.6 432.3,543 434.9,543.4 437.6,543.9 440.3,544.4 442.9,544.9 445.6,545.4 448.2,545.9 450.9,546.4 453.6,546.9 456.2,547.4 458.9,547.9 461.6,548.4 464.2,548.8 466.9,549.2 469.5,549.6 472.2,549.9 474.9,550.2 477.5,550.5 480.2,550.7 482.8,551 485.5,551.2 488.2,551.5 490.8,551.7 493.5,551.9 496.2,552.1 498.8,552.3 501.5,552.5 504.1,552.7 506.8,552.9 509.5,553.1 512.1,553.3 514.8,553.5 517.5,553.7 520.1,553.9 522.8,554.1 525.4,554.3 528.1,554.5 530.8,554.7 533.4,554.8 536.1,555 538.8,555.2 541.4,555.4 544.1,555.5 546.7,555.7 549.4,555.9 552.1,556 554.7,556.1 557.4,556.3 560,556.4 562.7,556.5 565.4,556.6 568,556.8 570.7,556.9 573.4,557 576,557.1 578.7,557.2 581.3,557.3 584,557.4 586.7,557.5 589.3,557.7 592,557.8 594.7,557.9 597.3,558.1 600,558.2 602.6,558.4 605.3,558.5 608,558.7 610.6,558.9 613.3,559 615.9,559.2 618.6,559.3 621.3,559.5 623.9,559.6 626.6,559.8 629.3,559.9 631.9,560 634.6,560.1 637.2,560.2 639.9,560.3 642.6,560.4 645.2,560.4 647.9,560.5 650.6,560.6 653.2,560.6 655.9,560.7 658.5,560.8 661.2,560.8 663.9,560.9 666.5,561 669.2,561.1 671.9,561.2 674.5,561.3 677.2,561.4 679.8,561.6 682.5,561.7 685.2,561.9 687.8,562 690.5,562.2 693.1,562.4 695.8,562.6 698.5,562.7 701.1,562.9 703.8,563 706.5,563.2 709.1,563.3 711.8,563.4 714.4,563.5 717.1,563.6 719.8,563.7 722.4,563.8 725.1,563.8 727.8,563.9 730.4,564 733.1,564 735.7,564.1 738.4,564.2 741.1,564.3 743.7,564.3 746.4,564.4 749,564.5 751.7,564.6 754.4,564.7 757,564.8 759.7,564.9 762.4,565 765,565.1 767.7,565.3 770.3,565.4 773,565.5 775.7,565.6 777,565.7" fill="none" stroke="#a946e3" stroke-width="3.0" stroke-linejoin="round"/>
<path d="M112.8,174.2L115.1,180.4L121.7,180.6L116.4,184.7L118.3,191L112.8,187.3L107.4,191L109.2,184.7L104,180.6L110.6,180.4Z" fill="#a946e3"/>
<path d="M152.8,340.5L155,346.7L161.6,346.9L156.4,351L158.2,357.3L152.8,353.6L147.3,357.3L149.1,351L143.9,346.9L150.5,346.7Z" fill="#a946e3"/>
<path d="M192.7,398.9L194.9,405.1L201.5,405.3L196.3,409.4L198.2,415.7L192.7,412L187.2,415.7L189.1,409.4L183.8,405.3L190.5,405.1Z" fill="#a946e3"/>
<path d="M232.6,446.9L234.9,453.1L241.5,453.3L236.2,457.4L238.1,463.7L232.6,460L227.2,463.7L229,457.4L223.8,453.3L230.4,453.1Z" fill="#a946e3"/>
<path d="M272.6,484.8L274.8,491L281.4,491.2L276.2,495.3L278,501.6L272.6,497.9L267.1,501.6L268.9,495.3L263.7,491.2L270.3,491Z" fill="#a946e3"/>
<path d="M312.5,507.5L314.7,513.7L321.3,513.9L316.1,518L317.9,524.3L312.5,520.6L307,524.3L308.9,518L303.6,513.9L310.2,513.7Z" fill="#a946e3"/>
<path d="M352.4,521.5L354.6,527.7L361.3,527.9L356,532L357.9,538.3L352.4,534.6L346.9,538.3L348.8,532L343.6,527.9L350.2,527.7Z" fill="#a946e3"/>
<path d="M392.3,528.9L394.6,535.1L401.2,535.3L396,539.4L397.8,545.7L392.3,542L386.9,545.7L388.7,539.4L383.5,535.3L390.1,535.1Z" fill="#a946e3"/>
<path d="M432.3,534.5L434.5,540.7L441.1,540.9L435.9,545L437.7,551.3L432.3,547.6L426.8,551.3L428.7,545L423.4,540.9L430,540.7Z" fill="#a946e3"/>
<path d="M472.2,541.4L474.4,547.6L481,547.8L475.8,551.9L477.7,558.2L472.2,554.5L466.7,558.2L468.6,551.9L463.4,547.8L470,547.6Z" fill="#a946e3"/>
<path d="M512.1,544.8L514.4,551L521,551.2L515.7,555.3L517.6,561.6L512.1,557.9L506.7,561.6L508.5,555.3L503.3,551.2L509.9,551Z" fill="#a946e3"/>
<path d="M552.1,547.5L554.3,553.7L560.9,553.9L555.7,558L557.5,564.3L552.1,560.6L546.6,564.3L548.4,558L543.2,553.9L549.8,553.7Z" fill="#a946e3"/>
<path d="M592,549.3L594.2,555.5L600.8,555.7L595.6,559.8L597.5,566.1L592,562.4L586.5,566.1L588.4,559.8L583.1,555.7L589.8,555.5Z" fill="#a946e3"/>
<path d="M631.9,551.5L634.2,557.7L640.8,557.9L635.5,562L637.4,568.3L631.9,564.6L626.5,568.3L628.3,562L623.1,557.9L629.7,557.7Z" fill="#a946e3"/>
<path d="M671.9,552.7L674.1,558.9L680.7,559.1L675.5,563.2L677.3,569.5L671.9,565.8L666.4,569.5L668.2,563.2L663,559.1L669.6,558.9Z" fill="#a946e3"/>
<path d="M711.8,554.9L714,561.1L720.6,561.3L715.4,565.4L717.2,571.7L711.8,568L706.3,571.7L708.2,565.4L702.9,561.3L709.5,561.1Z" fill="#a946e3"/>
<path d="M751.7,556.1L753.9,562.3L760.6,562.5L755.3,566.6L757.2,572.9L751.7,569.2L746.2,572.9L748.1,566.6L742.9,562.5L749.5,562.3Z" fill="#a946e3"/>
<polyline points="112.8,183 114.2,260 115.5,324.7 116.8,380 118.2,428.1 120.2,485 120.8,498 123.5,538 125.1,560 126.1,582.4 126.8,593.4 128.8,606.7 131.5,614 132.1,614.7 134.1,615.5 136.8,616.2 139.5,616.6 140,616.7 142.1,617 144.8,617.3 147.4,617.5 150.1,617.8 152.8,618 155.4,618.3 158.1,618.6 160.7,618.9 163.4,619.2 166.1,619.4 166.7,619.4 168.7,619.5 171.4,619.6 174.1,619.6 176.7,619.7 179.4,619.8 182,619.8 184.7,619.9 187.4,619.9 190,619.9 192.7,620 195.4,620.1 198,620.1 200.7,620.1 203.3,620.2 206,620.2 208.7,620.3 211.3,620.3 214,620.3 216.6,620.4 219.3,620.4 222,620.5 224.6,620.5 227.3,620.6 230,620.6 232.6,620.7 235.3,620.8 237.9,620.9 240.6,621 243.3,621.1 245.9,621.3 248.6,621.5 251.3,621.6 253.9,621.8 256.6,622 259.2,622.1 261.9,622.3 264.6,622.5 267.2,622.6 269.9,622.8 272.6,622.9 275.2,623 277.9,623.1 280.5,623.2 283.2,623.3 285.9,623.4 288.5,623.6 291.2,623.7 293.8,623.7 296.5,623.8 299.2,623.9 301.8,624 304.5,624.1 307.2,624.2 309.8,624.3 312.5,624.4 315.1,624.5 317.8,624.6 320.5,624.7 323.1,624.8 325.8,624.9 328.5,625 331.1,625.1 333.8,625.2 336.4,625.3 339.1,625.4 341.8,625.5 344.4,625.6 347.1,625.7 349.7,625.8 352.4,625.9 355.1,626 357.7,626.1 360.4,626.1 363.1,626.2 365.7,626.3 368.4,626.3 371,626.4 373.7,626.4 376.4,626.5 377.7,626.5 379,626.5 381.7,626.5 384.4,626.6 387,626.6 389.7,626.6 392.3,626.7 395,626.7 397.7,626.7 400.3,626.7 403,626.8 405.7,626.8 408.3,626.8 411,626.8 413.6,626.9 416.3,626.9 419,626.9 421.6,626.9 424.3,626.9 426.9,626.9 429.6,627 432.3,627 434.9,627 437.6,627 440.3,627 442.9,627 444.2,627 445.6,627 448.2,627 450.9,627 453.6,627 456.2,627 458.9,627 461.6,627 464.2,627 466.9,627 469.5,627 472.2,627 474.9,627 477.5,627 480.2,627 482.8,627 485.5,627.1 488.2,627.1 490.8,627.1 493.5,627.1 496.2,627.1 498.8,627.1 501.5,627.1 504.1,627.1 506.8,627.1 509.5,627.1 512.1,627.1 514.8,627.1 517.5,627.1 520.1,627.1 522.8,627.1 525.4,627.1 528.1,627.1 530.8,627.1 533.4,627.1 536.1,627.1 538.8,627.1 541.4,627.1 544.1,627.1 546.7,627.1 549.4,627.1 552.1,627.1 554.7,627.1 557.4,627.1 560,627.1 562.7,627.1 565.4,627.1 568,627.1 570.7,627.1 573.4,627.1 576,627.1 578.7,627.1 581.3,627.1 584,627.1 586.7,627.1 589.3,627.1 592,627.1 594.7,627.1 597.3,627.1 600,627.2 602.6,627.2 605.3,627.2 608,627.2 610.6,627.2 613.3,627.2 615.9,627.2 618.6,627.2 621.3,627.2 623.9,627.2 626.6,627.2 629.3,627.2 631.9,627.2 634.6,627.2 637.2,627.2 639.9,627.2 642.6,627.2 645.2,627.2 647.9,627.2 650.6,627.2 653.2,627.2 655.9,627.2 658.5,627.2 661.2,627.2 663.9,627.2 666.5,627.2 669.2,627.2 671.9,627.2 674.5,627.2 677.2,627.2 679.8,627.2 682.5,627.2 685.2,627.2 687.8,627.2 690.5,627.2 693.1,627.2 695.8,627.2 698.5,627.2 701.1,627.2 703.8,627.2 706.5,627.2 709.1,627.2 711.8,627.2 714.4,627.2 717.1,627.2 719.8,627.2 722.4,627.2 725.1,627.2 727.8,627.2 730.4,627.2 733.1,627.2 735.7,627.2 738.4,627.2 741.1,627.2 743.7,627.2 746.4,627.2 749,627.2 751.7,627.2 754.4,627.2 757,627.2 759.7,627.2 762.4,627.2 765,627.2 767.7,627.2 770.3,627.2 773,627.2 775.7,627.2 777,627.2" fill="none" stroke="#1e9bce" stroke-width="3.0" stroke-linejoin="round"/>
<path d="M112.8,175.6L114.9,179.4L119.2,179.3L116.9,183L119.2,186.7L114.9,186.6L112.8,190.4L110.8,186.6L106.4,186.7L108.7,183L106.4,179.3L110.8,179.4Z" fill="#1e9bce"/>
<path d="M152.8,610.6L154.8,614.4L159.2,614.3L156.9,618L159.2,621.7L154.8,621.6L152.8,625.4L150.7,621.6L146.4,621.7L148.7,618L146.4,614.3L150.7,614.4Z" fill="#1e9bce"/>
<path d="M192.7,612.6L194.7,616.4L199.1,616.3L196.8,620L199.1,623.7L194.7,623.6L192.7,627.4L190.6,623.6L186.3,623.7L188.6,620L186.3,616.3L190.6,616.4Z" fill="#1e9bce"/>
<path d="M232.6,613.3L234.7,617.1L239,617L236.7,620.7L239,624.4L234.7,624.3L232.6,628.1L230.6,624.3L226.2,624.4L228.5,620.7L226.2,617L230.6,617.1Z" fill="#1e9bce"/>
<path d="M272.6,615.5L274.6,619.3L279,619.2L276.7,622.9L279,626.6L274.6,626.5L272.6,630.3L270.5,626.5L266.1,626.6L268.5,622.9L266.1,619.2L270.5,619.3Z" fill="#1e9bce"/>
<path d="M312.5,617L314.5,620.8L318.9,620.7L316.6,624.4L318.9,628.1L314.5,628L312.5,631.8L310.4,628L306.1,628.1L308.4,624.4L306.1,620.7L310.4,620.8Z" fill="#1e9bce"/>
<path d="M352.4,618.5L354.5,622.3L358.8,622.2L356.5,625.9L358.8,629.6L354.5,629.4L352.4,633.3L350.4,629.4L346,629.6L348.3,625.9L346,622.2L350.4,622.3Z" fill="#1e9bce"/>
<path d="M392.3,619.3L394.4,623.1L398.7,623L396.4,626.7L398.7,630.4L394.4,630.2L392.3,634.1L390.3,630.2L385.9,630.4L388.2,626.7L385.9,623L390.3,623.1Z" fill="#1e9bce"/>
<path d="M432.3,619.6L434.3,623.4L438.7,623.3L436.4,627L438.7,630.7L434.3,630.5L432.3,634.4L430.2,630.5L425.9,630.7L428.2,627L425.9,623.3L430.2,623.4Z" fill="#1e9bce"/>
<path d="M472.2,619.6L474.3,623.5L478.6,623.3L476.3,627L478.6,630.7L474.3,630.6L472.2,634.4L470.2,630.6L465.8,630.7L468.1,627L465.8,623.3L470.2,623.5Z" fill="#1e9bce"/>
<path d="M512.1,619.7L514.2,623.5L518.5,623.4L516.2,627.1L518.5,630.8L514.2,630.6L512.1,634.5L510.1,630.6L505.7,630.8L508,627.1L505.7,623.4L510.1,623.5Z" fill="#1e9bce"/>
<path d="M552.1,619.7L554.1,623.6L558.5,623.4L556.2,627.1L558.5,630.8L554.1,630.7L552.1,634.5L550,630.7L545.7,630.8L548,627.1L545.7,623.4L550,623.6Z" fill="#1e9bce"/>
<path d="M592,619.7L594,623.6L598.4,623.4L596.1,627.1L598.4,630.8L594,630.7L592,634.5L589.9,630.7L585.6,630.8L587.9,627.1L585.6,623.4L589.9,623.6Z" fill="#1e9bce"/>
<path d="M631.9,619.8L634,623.6L638.3,623.5L636,627.2L638.3,630.9L634,630.7L631.9,634.6L629.9,630.7L625.5,630.9L627.8,627.2L625.5,623.5L629.9,623.6Z" fill="#1e9bce"/>
<path d="M671.9,619.8L673.9,623.6L678.3,623.5L676,627.2L678.3,630.9L673.9,630.7L671.9,634.6L669.8,630.7L665.4,630.9L667.8,627.2L665.4,623.5L669.8,623.6Z" fill="#1e9bce"/>
<path d="M711.8,619.8L713.8,623.6L718.2,623.5L715.9,627.2L718.2,630.9L713.8,630.7L711.8,634.6L709.7,630.7L705.4,630.9L707.7,627.2L705.4,623.5L709.7,623.6Z" fill="#1e9bce"/>
<path d="M751.7,619.8L753.8,623.6L758.1,623.5L755.8,627.2L758.1,630.9L753.8,630.7L751.7,634.6L749.7,630.7L745.3,630.9L747.6,627.2L745.3,623.5L749.7,623.6Z" fill="#1e9bce"/>
<polyline points="112.8,182.7 115.5,195.3 118.2,207.6 120.8,219.6 123.5,231.4 126.1,242.9 128.8,254.2 131.5,265.3 134.1,276.2 136.8,286.8 139.5,297.2 142.1,307.4 144.8,317.3 147.4,327.1 150.1,336.6 152.8,346 155.4,355 158.1,363.6 160.7,371.8 163.4,379.8 166.1,387.8 168.7,395.9 170.1,400 171.4,404.2 174.1,412.6 176.7,421.2 179.4,429.8 182,438.4 184.7,446.7 187.4,454.8 190,462.5 192.7,469.7 195.4,476.6 198,483.3 200.7,490 203.3,496.5 206,502.9 208.7,509.2 211.3,515.3 214,521.2 216.6,527 219.3,532.5 222,537.9 224.6,543.1 227.3,548 230,552.7 232.6,557.2 235.3,561.6 237.9,566 240.6,570.4 243.3,574.7 245.9,579 248.6,583.2 251.3,587.2 253.9,591 256.6,594.6 259.2,597.9 261.9,600.9 264.6,603.6 267.2,605.9 269.9,607.8 272.6,609.3 275.2,610.5 277.9,611.7 280.5,612.8 283.2,613.8 285.9,614.8 288.5,615.7 291.2,616.5 293.8,617.3 296.5,618 299.2,618.6 301.8,619.2 304.5,619.6 307.2,620 309.8,620.4 312.5,620.6 315.1,620.8 317.8,621 320.5,621.2 323.1,621.3 325.8,621.5 328.5,621.6 331.1,621.8 333.8,621.9 336.4,622 339.1,622.1 341.8,622.2 344.4,622.2 347.1,622.3 349.7,622.3 352.4,622.3 355.1,622.3 357.7,622.3 360.4,622.3 363.1,622.3 365.7,622.3 368.4,622.3 371,622.3 373.7,622.3 376.4,622.3 379,622.3 381.7,622.3 384.4,622.3 387,622.3 389.7,622.3 392.3,622.3 395,622.3 397.7,622.3 400.3,622.3 403,622.3 405.7,622.3 408.3,622.3 411,622.3 413.6,622.3 416.3,622.3 419,622.3 421.6,622.3 424.3,622.3 426.9,622.3 429.6,622.3 432.3,622.3 434.9,622.3 437.6,622.3 440.3,622.3 442.9,622.3 445.6,622.3 448.2,622.3 450.9,622.3 453.6,622.3 456.2,622.3 458.9,622.3 461.6,622.3 464.2,622.3 466.9,622.3 469.5,622.3 472.2,622.3 474.9,622.3 477.5,622.3 480.2,622.3 482.8,622.3 485.5,622.3 488.2,622.3 490.8,622.3 493.5,622.3 496.2,622.3 498.8,622.3 501.5,622.3 504.1,622.3 506.8,622.3 509.5,622.3 512.1,622.3 514.8,622.3 517.5,622.3 520.1,622.3 522.8,622.3 525.4,622.3 528.1,622.3 530.8,622.3 533.4,622.3 536.1,622.3 538.8,622.3 541.4,622.3 544.1,622.3 546.7,622.3 549.4,622.3 552.1,622.3 554.7,622.3 557.4,622.3 560,622.3 562.7,622.3 565.4,622.3 568,622.3 570.7,622.3 573.4,622.3 576,622.3 578.7,622.3 581.3,622.3 584,622.3 586.7,622.3 589.3,622.3 592,622.3 594.7,622.3 597.3,622.3 600,622.3 602.6,622.3 605.3,622.3 608,622.3 610.6,622.3 613.3,622.3 615.9,622.3 618.6,622.3 621.3,622.3 623.9,622.3 626.6,622.3 629.3,622.3 631.9,622.3 634.6,622.3 637.2,622.3 639.9,622.3 642.6,622.3 645.2,622.3 647.9,622.3 650.6,622.3 653.2,622.3 655.9,622.3 658.5,622.3 661.2,622.3 663.9,622.3 666.5,622.3 669.2,622.3 671.9,622.3 674.5,622.3 677.2,622.3 679.8,622.3 682.5,622.3 685.2,622.3 687.8,622.3 690.5,622.3 693.1,622.3 695.8,622.3 698.5,622.3 701.1,622.3 703.8,622.3 706.5,622.3 709.1,622.3 711.8,622.3 714.4,622.3 717.1,622.3 719.8,622.3 722.4,622.3 725.1,622.3 727.8,622.3 730.4,622.3 733.1,622.3 735.7,622.3 738.4,622.3 741.1,622.3 743.7,622.3 746.4,622.3 749,622.3 751.7,622.3 754.4,622.3 757,622.5 759.7,622.7 762.4,622.9 765,623.2 767.7,623.5 770.3,623.8 773,624.1 775.7,624.4 777,624.5" fill="none" stroke="#0000ff" stroke-width="3.0" stroke-linejoin="round"/>
<path d="M112.8,175.3L114.9,179.1L119.2,179L116.9,182.7L119.2,186.4L114.9,186.3L112.8,190.1L110.8,186.3L106.4,186.4L108.7,182.7L106.4,179L110.8,179.1Z" fill="#0000ff"/>
<path d="M152.8,338.6L154.8,342.4L159.2,342.3L156.9,346L159.2,349.7L154.8,349.6L152.8,353.4L150.7,349.6L146.4,349.7L148.7,346L146.4,342.3L150.7,342.4Z" fill="#0000ff"/>
<path d="M192.7,462.3L194.7,466.1L199.1,466L196.8,469.7L199.1,473.4L194.7,473.3L192.7,477.1L190.6,473.3L186.3,473.4L188.6,469.7L186.3,466L190.6,466.1Z" fill="#0000ff"/>
<path d="M232.6,549.8L234.7,553.6L239,553.5L236.7,557.2L239,560.9L234.7,560.8L232.6,564.6L230.6,560.8L226.2,560.9L228.5,557.2L226.2,553.5L230.6,553.6Z" fill="#0000ff"/>
<path d="M272.6,601.9L274.6,605.7L279,605.6L276.7,609.3L279,613L274.6,612.9L272.6,616.7L270.5,612.9L266.1,613L268.5,609.3L266.1,605.6L270.5,605.7Z" fill="#0000ff"/>
<path d="M312.5,613.2L314.5,617L318.9,616.9L316.6,620.6L318.9,624.3L314.5,624.2L312.5,628L310.4,624.2L306.1,624.3L308.4,620.6L306.1,616.9L310.4,617Z" fill="#0000ff"/>
<path d="M352.4,614.9L354.5,618.7L358.8,618.6L356.5,622.3L358.8,626L354.5,625.9L352.4,629.7L350.4,625.9L346,626L348.3,622.3L346,618.6L350.4,618.7Z" fill="#0000ff"/>
<path d="M392.3,614.9L394.4,618.7L398.7,618.6L396.4,622.3L398.7,626L394.4,625.9L392.3,629.7L390.3,625.9L385.9,626L388.2,622.3L385.9,618.6L390.3,618.7Z" fill="#0000ff"/>
<path d="M432.3,614.9L434.3,618.7L438.7,618.6L436.4,622.3L438.7,626L434.3,625.9L432.3,629.7L430.2,625.9L425.9,626L428.2,622.3L425.9,618.6L430.2,618.7Z" fill="#0000ff"/>
<path d="M472.2,614.9L474.3,618.7L478.6,618.6L476.3,622.3L478.6,626L474.3,625.9L472.2,629.7L470.2,625.9L465.8,626L468.1,622.3L465.8,618.6L470.2,618.7Z" fill="#0000ff"/>
<path d="M512.1,614.9L514.2,618.7L518.5,618.6L516.2,622.3L518.5,626L514.2,625.9L512.1,629.7L510.1,625.9L505.7,626L508,622.3L505.7,618.6L510.1,618.7Z" fill="#0000ff"/>
<path d="M552.1,614.9L554.1,618.7L558.5,618.6L556.2,622.3L558.5,626L554.1,625.9L552.1,629.7L550,625.9L545.7,626L548,622.3L545.7,618.6L550,618.7Z" fill="#0000ff"/>
<path d="M592,614.9L594,618.7L598.4,618.6L596.1,622.3L598.4,626L594,625.9L592,629.7L589.9,625.9L585.6,626L587.9,622.3L585.6,618.6L589.9,618.7Z" fill="#0000ff"/>
<path d="M631.9,614.9L634,618.7L638.3,618.6L636,622.3L638.3,626L634,625.9L631.9,629.7L629.9,625.9L625.5,626L627.8,622.3L625.5,618.6L629.9,618.7Z" fill="#0000ff"/>
<path d="M671.9,614.9L673.9,618.7L678.3,618.6L676,622.3L678.3,626L673.9,625.9L671.9,629.7L669.8,625.9L665.4,626L667.8,622.3L665.4,618.6L669.8,618.7Z" fill="#0000ff"/>
<path d="M711.8,614.9L713.8,618.7L718.2,618.6L715.9,622.3L718.2,626L713.8,625.9L711.8,629.7L709.7,625.9L705.4,626L707.7,622.3L705.4,618.6L709.7,618.7Z" fill="#0000ff"/>
<path d="M751.7,614.9L753.8,618.7L758.1,618.6L755.8,622.3L758.1,626L753.8,625.9L751.7,629.7L749.7,625.9L745.3,626L747.6,622.3L745.3,618.6L749.7,618.7Z" fill="#0000ff"/>
<polyline points="112.8,182.7 113.6,500 114.2,615.5 115.5,615.8 116.8,616 118.2,616.3 120.8,617.1 123.5,618 126.1,619 128.8,620 131.5,621 132.8,621.5 134.1,622 136.8,623.2 139.5,624.4 142.1,625.5 144.8,626.5 147.4,627 150.1,627.3 152.8,627.4 155.4,627.4 158.1,627.4 160.7,627.4 163.4,627.4 166.1,627.4 168.7,627.4 171.4,627.4 174.1,627.4 176.7,627.4 179.4,627.4 182,627.4 184.7,627.4 187.4,627.4 190,627.4 192.7,627.4 195.4,627.4 198,627.4 200.7,627.4 203.3,627.4 206,627.4 208.7,627.4 211.3,627.4 214,627.4 216.6,627.4 219.3,627.4 222,627.4 224.6,627.4 227.3,627.4 230,627.4 232.6,627.4 235.3,627.4 237.9,627.4 240.6,627.4 243.3,627.4 245.9,627.4 248.6,627.4 251.3,627.4 253.9,627.4 256.6,627.4 259.2,627.4 261.9,627.4 264.6,627.4 267.2,627.4 269.9,627.4 272.6,627.4 275.2,627.4 277.9,627.4 280.5,627.4 283.2,627.4 285.9,627.4 288.5,627.4 291.2,627.4 293.8,627.4 296.5,627.4 299.2,627.4 301.8,627.4 304.5,627.4 307.2,627.4 309.8,627.4 312.5,627.4 315.1,627.4 317.8,627.4 320.5,627.4 323.1,627.4 325.8,627.4 328.5,627.4 331.1,627.4 333.8,627.4 336.4,627.4 339.1,627.4 341.8,627.4 344.4,627.4 347.1,627.4 349.7,627.4 352.4,627.4 355.1,627.4 357.7,627.4 360.4,627.4 363.1,627.4 365.7,627.4 368.4,627.4 371,627.4 373.7,627.4 376.4,627.4 379,627.4 381.7,627.4 384.4,627.4 387,627.4 389.7,627.4 392.3,627.4 395,627.4 397.7,627.4 400.3,627.4 403,627.4 405.7,627.4 408.3,627.4 411,627.4 413.6,627.4 416.3,627.4 419,627.4 421.6,627.4 424.3,627.4 426.9,627.4 429.6,627.4 432.3,627.4 434.9,627.4 437.6,627.4 440.3,627.4 442.9,627.4 445.6,627.4 448.2,627.4 450.9,627.4 453.6,627.4 456.2,627.4 458.9,627.4 461.6,627.4 464.2,627.4 466.9,627.4 469.5,627.4 472.2,627.4 474.9,627.4 477.5,627.4 480.2,627.4 482.8,627.4 485.5,627.4 488.2,627.4 490.8,627.4 493.5,627.4 496.2,627.4 498.8,627.4 501.5,627.4 504.1,627.4 506.8,627.4 509.5,627.4 512.1,627.4 514.8,627.4 517.5,627.4 520.1,627.4 522.8,627.4 525.4,627.4 528.1,627.4 530.8,627.4 533.4,627.4 536.1,627.4 538.8,627.4 541.4,627.4 544.1,627.4 546.7,627.4 549.4,627.4 552.1,627.4 554.7,627.4 557.4,627.4 560,627.4 562.7,627.4 565.4,627.4 568,627.4 570.7,627.4 573.4,627.4 576,627.4 578.7,627.4 581.3,627.4 584,627.4 586.7,627.4 589.3,627.4 592,627.4 594.7,627.4 597.3,627.4 600,627.4 602.6,627.4 605.3,627.4 608,627.4 610.6,627.4 613.3,627.4 615.9,627.4 618.6,627.4 621.3,627.4 623.9,627.4 626.6,627.4 629.3,627.4 631.9,627.4 634.6,627.4 637.2,627.4 639.9,627.4 642.6,627.4 645.2,627.4 647.9,627.4 650.6,627.4 653.2,627.4 655.9,627.4 658.5,627.4 661.2,627.4 663.9,627.4 666.5,627.4 669.2,627.4 671.9,627.4 674.5,627.4 677.2,627.4 679.8,627.4 682.5,627.4 685.2,627.4 687.8,627.4 690.5,627.4 693.1,627.4 695.8,627.4 698.5,627.4 701.1,627.4 703.8,627.4 706.5,627.4 709.1,627.4 711.8,627.4 714.4,627.4 717.1,627.4 719.8,627.4 722.4,627.4 725.1,627.4 727.8,627.4 730.4,627.4 733.1,627.4 735.7,627.4 738.4,627.4 741.1,627.4 743.7,627.4 746.4,627.4 749,627.4 751.7,627.4 754.4,627.4 757,627.4 759.7,627.4 762.4,627.4 765,627.4 767.7,627.4 770.3,627.4 773,627.4 775.7,627.4 777,627.4" fill="none" stroke="#ff0000" stroke-width="3.0" stroke-linejoin="round"/>
<path d="M112.8,175.3L114.9,179.1L119.2,179L116.9,182.7L119.2,186.4L114.9,186.3L112.8,190.1L110.8,186.3L106.4,186.4L108.7,182.7L106.4,179L110.8,179.1Z" fill="#ff0000"/>
<path d="M152.8,620L154.8,623.8L159.2,623.7L156.9,627.4L159.2,631.1L154.8,631L152.8,634.8L150.7,631L146.4,631.1L148.7,627.4L146.4,623.7L150.7,623.8Z" fill="#ff0000"/>
<path d="M192.7,620L194.7,623.8L199.1,623.7L196.8,627.4L199.1,631.1L194.7,631L192.7,634.8L190.6,631L186.3,631.1L188.6,627.4L186.3,623.7L190.6,623.8Z" fill="#ff0000"/>
<path d="M232.6,620L234.7,623.8L239,623.7L236.7,627.4L239,631.1L234.7,631L232.6,634.8L230.6,631L226.2,631.1L228.5,627.4L226.2,623.7L230.6,623.8Z" fill="#ff0000"/>
<path d="M272.6,620L274.6,623.8L279,623.7L276.7,627.4L279,631.1L274.6,631L272.6,634.8L270.5,631L266.1,631.1L268.5,627.4L266.1,623.7L270.5,623.8Z" fill="#ff0000"/>
<path d="M312.5,620L314.5,623.8L318.9,623.7L316.6,627.4L318.9,631.1L314.5,631L312.5,634.8L310.4,631L306.1,631.1L308.4,627.4L306.1,623.7L310.4,623.8Z" fill="#ff0000"/>
<path d="M352.4,620L354.5,623.8L358.8,623.7L356.5,627.4L358.8,631.1L354.5,631L352.4,634.8L350.4,631L346,631.1L348.3,627.4L346,623.7L350.4,623.8Z" fill="#ff0000"/>
<path d="M392.3,620L394.4,623.8L398.7,623.7L396.4,627.4L398.7,631.1L394.4,631L392.3,634.8L390.3,631L385.9,631.1L388.2,627.4L385.9,623.7L390.3,623.8Z" fill="#ff0000"/>
<path d="M432.3,620L434.3,623.8L438.7,623.7L436.4,627.4L438.7,631.1L434.3,631L432.3,634.8L430.2,631L425.9,631.1L428.2,627.4L425.9,623.7L430.2,623.8Z" fill="#ff0000"/>
<path d="M472.2,620L474.3,623.8L478.6,623.7L476.3,627.4L478.6,631.1L474.3,631L472.2,634.8L470.2,631L465.8,631.1L468.1,627.4L465.8,623.7L470.2,623.8Z" fill="#ff0000"/>
<path d="M512.1,620L514.2,623.8L518.5,623.7L516.2,627.4L518.5,631.1L514.2,631L512.1,634.8L510.1,631L505.7,631.1L508,627.4L505.7,623.7L510.1,623.8Z" fill="#ff0000"/>
<path d="M552.1,620L554.1,623.8L558.5,623.7L556.2,627.4L558.5,631.1L554.1,631L552.1,634.8L550,631L545.7,631.1L548,627.4L545.7,623.7L550,623.8Z" fill="#ff0000"/>
<path d="M592,620L594,623.8L598.4,623.7L596.1,627.4L598.4,631.1L594,631L592,634.8L589.9,631L585.6,631.1L587.9,627.4L585.6,623.7L589.9,623.8Z" fill="#ff0000"/>
<path d="M631.9,620L634,623.8L638.3,623.7L636,627.4L638.3,631.1L634,631L631.9,634.8L629.9,631L625.5,631.1L627.8,627.4L625.5,623.7L629.9,623.8Z" fill="#ff0000"/>
<path d="M671.9,620L673.9,623.8L678.3,623.7L676,627.4L678.3,631.1L673.9,631L671.9,634.8L669.8,631L665.4,631.1L667.8,627.4L665.4,623.7L669.8,623.8Z" fill="#ff0000"/>
<path d="M711.8,620L713.8,623.8L718.2,623.7L715.9,627.4L718.2,631.1L713.8,631L711.8,634.8L709.7,631L705.4,631.1L707.7,627.4L705.4,623.7L709.7,623.8Z" fill="#ff0000"/>
<path d="M751.7,620L753.8,623.8L758.1,623.7L755.8,627.4L758.1,631.1L753.8,631L751.7,634.8L749.7,631L745.3,631.1L747.6,627.4L745.3,623.7L749.7,623.8Z" fill="#ff0000"/>
<text x="444" y="94.8" font-family="'Liberation Serif', 'Times New Roman', serif" font-size="27" text-anchor="middle" fill="#000">Objective Space</text>
<text x="443.5" y="691.3" font-family="'Liberation Serif', 'Times New Roman', serif" font-size="26.8" text-anchor="middle" fill="#000">Iteration</text>
<text transform="translate(56.6,366) rotate(-90)" font-family="'Liberation Serif', 'Times New Roman', serif" font-size="27" text-anchor="middle" fill="#000">Best finess obtianed so far</text>
<rect x="482.6" y="119.1" width="277.8" height="134.8" fill="#fff" stroke="#262626" stroke-width="3"/>
<path d="M488.6,134.2h61.5" stroke="#000000" stroke-width="3.2"/>

<text x="554.4" y="141.7" font-family="'Liberation Serif', 'Times New Roman', serif" font-size="21.5" fill="#000">GWO</text>
<path d="M488.6,160.3h61.5" stroke="#00ff00" stroke-width="3.2"/>
<path d="M515.8,156.7L523,163.9M515.8,163.9L523,156.7" stroke="#00ff00" stroke-width="2.6" fill="none"/>
<text x="554.4" y="167.8" font-family="'Liberation Serif', 'Times New Roman', serif" font-size="21.5" fill="#000">SCA</text>
<path d="M488.6,186.4h61.5" stroke="#ffff00" stroke-width="3.2"/>
<path d="M519.4,178.9L524.2,186.4L519.4,193.9L514.6,186.4Z" fill="#ffff00" stroke="#ffff00" stroke-width="1"/>
<text x="554.4" y="193.9" font-family="'Liberation Serif', 'Times New Roman', serif" font-size="21.5" fill="#000">SSA</text>
<path d="M488.6,212.5h61.5" stroke="#ff00ff" stroke-width="3.2"/>
<circle cx="519.4" cy="212.5" r="4.6" fill="#ff00ff"/>
<text x="554.4" y="220" font-family="'Liberation Serif', 'Times New Roman', serif" font-size="21.5" fill="#000">WCA</text>
<path d="M488.6,238.6h61.5" stroke="#00ffff" stroke-width="3.2"/>
<path d="M519.4,231.6L526.4,243.6L512.4,243.6Z" fill="#00ffff"/>
<text x="554.4" y="246.1" font-family="'Liberation Serif', 'Times New Roman', serif" font-size="21.5" fill="#000">WOA</text>
<path d="M619.6,134.2h61.5" stroke="#33e35a" stroke-width="3.2"/>
<circle cx="650.4" cy="134.2" r="4.2" fill="#33e35a"/>
<text x="685.4" y="141.7" font-family="'Liberation Serif', 'Times New Roman', serif" font-size="21.5" fill="#000">MPA</text>
<path d="M619.6,160.3h61.5" stroke="#a946e3" stroke-width="3.2"/>
<path d="M650.4,151.8L652.6,158L659.2,158.2L654,162.3L655.9,168.6L650.4,164.9L644.9,168.6L646.8,162.3L641.6,158.2L648.2,158Z" fill="#a946e3"/>
<text x="685.4" y="167.8" font-family="'Liberation Serif', 'Times New Roman', serif" font-size="21.5" fill="#000">LSA</text>
<path d="M619.6,186.4h61.5" stroke="#1e9bce" stroke-width="3.2"/>
<path d="M650.4,179L652.4,182.8L656.8,182.7L654.5,186.4L656.8,190.1L652.4,190L650.4,193.8L648.4,190L644,190.1L646.3,186.4L644,182.7L648.4,182.8Z" fill="#1e9bce"/>
<text x="685.4" y="193.9" font-family="'Liberation Serif', 'Times New Roman', serif" font-size="21.5" fill="#000">HGSO</text>
<path d="M619.6,212.5h61.5" stroke="#0000ff" stroke-width="3.2"/>
<path d="M650.4,205.1L652.4,208.9L656.8,208.8L654.5,212.5L656.8,216.2L652.4,216.1L650.4,219.9L648.4,216.1L644,216.2L646.3,212.5L644,208.8L648.4,208.9Z" fill="#0000ff"/>
<text x="685.4" y="220" font-family="'Liberation Serif', 'Times New Roman', serif" font-size="21.5" fill="#000">TSA</text>
<path d="M619.6,238.6h61.5" stroke="#ff0000" stroke-width="3.2"/>
<path d="M650.4,231.2L652.4,235L656.8,234.9L654.5,238.6L656.8,242.3L652.4,242.2L650.4,246L648.4,242.2L644,242.3L646.3,238.6L644,234.9L648.4,235Z" fill="#ff0000"/>
<text x="685.4" y="246.1" font-family="'Liberation Serif', 'Times New Roman', serif" font-size="21.5" fill="#000">TLTSA</text>
<path d="M1048.4,627.3v-7M1048.4,103v7" stroke="#262626" stroke-width="1.1"/>
<path d="M1115,627.3v-7M1115,103v7" stroke="#262626" stroke-width="1.1"/>
<path d="M1181.5,627.3v-7M1181.5,103v7" stroke="#262626" stroke-width="1.1"/>
<path d="M1248.1,627.3v-7M1248.1,103v7" stroke="#262626" stroke-width="1.1"/>
<path d="M1314.6,627.3v-7M1314.6,103v7" stroke="#262626" stroke-width="1.1"/>
<path d="M1381.2,627.3v-7M1381.2,103v7" stroke="#262626" stroke-width="1.1"/>
<path d="M1447.7,627.3v-7M1447.7,103v7" stroke="#262626" stroke-width="1.1"/>
<path d="M1514.2,627.3v-7M1514.2,103v7" stroke="#262626" stroke-width="1.1"/>
<path d="M1580.8,627.3v-7M1580.8,103v7" stroke="#262626" stroke-width="1.1"/>
<path d="M1647.3,627.3v-7M1647.3,103v7" stroke="#262626" stroke-width="1.1"/>
<path d="M1015,603.4h7M1680,603.4h-7" stroke="#262626" stroke-width="1.1"/>
<text x="1005.3" y="610.8" font-family="'Liberation Sans', Arial, Helvetica, sans-serif" font-size="19.6" text-anchor="end" fill="#262626">0</text>
<path d="M1015,529.2h7M1680,529.2h-7" stroke="#262626" stroke-width="1.1"/>
<text x="1005.3" y="536.6" font-family="'Liberation Sans', Arial, Helvetica, sans-serif" font-size="19.6" text-anchor="end" fill="#262626">2</text>
<path d="M1015,455.1h7M1680,455.1h-7" stroke="#262626" stroke-width="1.1"/>
<text x="1005.3" y="462.5" font-family="'Liberation Sans', Arial, Helvetica, sans-serif" font-size="19.6" text-anchor="end" fill="#262626">4</text>
<path d="M1015,380.9h7M1680,380.9h-7" stroke="#262626" stroke-width="1.1"/>
<text x="1005.3" y="388.3" font-family="'Liberation Sans', Arial, Helvetica, sans-serif" font-size="19.6" text-anchor="end" fill="#262626">6</text>
<path d="M1015,306.8h7M1680,306.8h-7" stroke="#262626" stroke-width="1.1"/>
<text x="1005.3" y="314.2" font-family="'Liberation Sans', Arial, Helvetica, sans-serif" font-size="19.6" text-anchor="end" fill="#262626">8</text>
<path d="M1015,232.6h7M1680,232.6h-7" stroke="#262626" stroke-width="1.1"/>
<text x="1005.3" y="240" font-family="'Liberation Sans', Arial, Helvetica, sans-serif" font-size="19.6" text-anchor="end" fill="#262626">10</text>
<path d="M1015,158.4h7M1680,158.4h-7" stroke="#262626" stroke-width="1.1"/>
<text x="1005.3" y="165.8" font-family="'Liberation Sans', Arial, Helvetica, sans-serif" font-size="19.6" text-anchor="end" fill="#262626">12</text>
<text x="1048.4" y="655.7" font-family="'Liberation Sans', Arial, Helvetica, sans-serif" font-size="19.5" text-anchor="middle" fill="#262626">GWO</text>
<text x="1115" y="655.7" font-family="'Liberation Sans', Arial, Helvetica, sans-serif" font-size="19.5" text-anchor="middle" fill="#262626">SCA</text>
<text x="1181.5" y="655.7" font-family="'Liberation Sans', Arial, Helvetica, sans-serif" font-size="19.5" text-anchor="middle" fill="#262626">SSA</text>
<text x="1248.1" y="655.7" font-family="'Liberation Sans', Arial, Helvetica, sans-serif" font-size="19.5" text-anchor="middle" fill="#262626">WCA</text>
<text x="1314.6" y="655.7" font-family="'Liberation Sans', Arial, Helvetica, sans-serif" font-size="19.5" text-anchor="middle" fill="#262626">WOA</text>
<text x="1381.2" y="655.7" font-family="'Liberation Sans', Arial, Helvetica, sans-serif" font-size="19.5" text-anchor="middle" fill="#262626">MPA</text>
<text x="1447.7" y="655.7" font-family="'Liberation Sans', Arial, Helvetica, sans-serif" font-size="19.5" text-anchor="middle" fill="#262626">LSA</text>
<text x="1514.2" y="655.7" font-family="'Liberation Sans', Arial, Helvetica, sans-serif" font-size="19.5" text-anchor="middle" fill="#262626">HGSO</text>
<text x="1580.8" y="655.7" font-family="'Liberation Sans', Arial, Helvetica, sans-serif" font-size="19.5" text-anchor="middle" fill="#262626">TSA</text>
<text x="1647.3" y="655.7" font-family="'Liberation Sans', Arial, Helvetica, sans-serif" font-size="19.5" text-anchor="middle" fill="#262626">TLTSA</text>
<text transform="translate(971.8,365.5) rotate(-90)" font-family="'Liberation Sans', Arial, Helvetica, sans-serif" font-size="22.5" text-anchor="middle" fill="#262626">Best fitness obtained so far</text>
<text x="1016" y="96.5" font-family="'Liberation Sans', Arial, Helvetica, sans-serif" font-size="21" fill="#262626">×</text><text x="1031.5" y="96.9" font-family="'Liberation Sans', Arial, Helvetica, sans-serif" font-size="19.5" fill="#262626">10</text><text x="1054.5" y="87.8" font-family="'Liberation Sans', Arial, Helvetica, sans-serif" font-size="13.5" fill="#262626">4</text>
<path d="M1032,603.4h32.9" stroke="#0000ff" stroke-width="1.8"/>
<path d="M1032,603.4h32.9" stroke="#ff0000" stroke-width="1.8" stroke-opacity="0.72"/>
<path d="M1115,508.3V442.6" stroke="#333" stroke-width="1.5" stroke-dasharray="6.5,4.5"/>
<path d="M1106.7,442.5h16.6" stroke="#000" stroke-width="1.2"/>
<path d="M1115,594.2V603" stroke="#333" stroke-width="1.5" stroke-dasharray="6.5,4.5"/>
<path d="M1106.7,603.5h16.6" stroke="#000" stroke-width="1.2"/>
<rect x="1098.5" y="508.3" width="32.9" height="85.9" fill="none" stroke="#0000ff" stroke-width="1.3"/>
<path d="M1099.1,575.1h31.7" stroke="#ff0000" stroke-width="1.3"/>
<path d="M1165,603.4h32.9" stroke="#0000ff" stroke-width="1.8"/>
<path d="M1165,603.4h32.9" stroke="#ff0000" stroke-width="1.8" stroke-opacity="0.72"/>
<path d="M1231.6,603.4h32.9" stroke="#0000ff" stroke-width="1.8"/>
<path d="M1231.6,603.4h32.9" stroke="#ff0000" stroke-width="1.8" stroke-opacity="0.72"/>
<path d="M1298.2,603.4h32.9" stroke="#0000ff" stroke-width="1.8"/>
<path d="M1298.2,603.4h32.9" stroke="#ff0000" stroke-width="1.8" stroke-opacity="0.72"/>
<path d="M1364.7,603.4h32.9" stroke="#0000ff" stroke-width="1.8"/>
<path d="M1364.7,603.4h32.9" stroke="#ff0000" stroke-width="1.8" stroke-opacity="0.72"/>
<path d="M1431.2,603.4h32.9" stroke="#0000ff" stroke-width="1.8"/>
<path d="M1431.2,603.4h32.9" stroke="#ff0000" stroke-width="1.8" stroke-opacity="0.72"/>
<path d="M1497.8,603.4h32.9" stroke="#0000ff" stroke-width="1.8"/>
<path d="M1497.8,603.4h32.9" stroke="#ff0000" stroke-width="1.8" stroke-opacity="0.72"/>
<path d="M1564.4,603.4h32.9" stroke="#0000ff" stroke-width="1.8"/>
<path d="M1564.4,603.4h32.9" stroke="#ff0000" stroke-width="1.8" stroke-opacity="0.72"/>
<path d="M1630.9,603.4h32.9" stroke="#0000ff" stroke-width="1.8"/>
<path d="M1630.9,603.4h32.9" stroke="#ff0000" stroke-width="1.8" stroke-opacity="0.72"/>
<path d="M1109,126.7h12M1115,120.7v12" stroke="#ff0000" stroke-width="1.3"/>
<path d="M1109,147.5h12M1115,141.5v12" stroke="#ff0000" stroke-width="1.3"/>
<path d="M1109,237.4h12M1115,231.4v12" stroke="#ff0000" stroke-width="1.3"/>
<path d="M1042.4,603.4h12M1048.4,597.4v12" stroke="#ff0000" stroke-width="1.3"/>
<path d="M1175.5,603.4h12M1181.5,597.4v12" stroke="#ff0000" stroke-width="1.3"/>
<path d="M1242.1,603.4h12M1248.1,597.4v12" stroke="#ff0000" stroke-width="1.3"/>
<path d="M1308.6,603.4h12M1314.6,597.4v12" stroke="#ff0000" stroke-width="1.3"/>
<path d="M1375.2,603.4h12M1381.2,597.4v12" stroke="#ff0000" stroke-width="1.3"/>
<path d="M1508.2,603.4h12M1514.2,597.4v12" stroke="#ff0000" stroke-width="1.3"/>
<path d="M1574.8,603.4h12M1580.8,597.4v12" stroke="#ff0000" stroke-width="1.3"/>
<rect x="1015.3" y="103" width="665" height="524.3" fill="none" stroke="#505050" stroke-width="1.4"/>
<text x="881" y="740.5" font-family="'Liberation Serif', 'Times New Roman', serif" font-size="43.5" font-weight="bold" text-anchor="middle" fill="#000" textLength="64.5" lengthAdjust="spacingAndGlyphs">F12</text>
<path d="M111.5,797V1322H778.5" fill="none" stroke="#262626" stroke-width="3"/>
<path d="M111.5,1322v-7" stroke="#262626" stroke-width="2.6"/>
<text x="111.5" y="1353.5" font-family="'Liberation Serif', 'Times New Roman', serif" font-size="24" text-anchor="middle" fill="#000">0</text>
<path d="M244.6,1322v-7" stroke="#262626" stroke-width="2.6"/>
<text x="244.6" y="1353.5" font-family="'Liberation Serif', 'Times New Roman', serif" font-size="24" text-anchor="middle" fill="#000">100</text>
<path d="M377.7,1322v-7" stroke="#262626" stroke-width="2.6"/>
<text x="377.7" y="1353.5" font-family="'Liberation Serif', 'Times New Roman', serif" font-size="24" text-anchor="middle" fill="#000">200</text>
<path d="M510.8,1322v-7" stroke="#262626" stroke-width="2.6"/>
<text x="510.8" y="1353.5" font-family="'Liberation Serif', 'Times New Roman', serif" font-size="24" text-anchor="middle" fill="#000">300</text>
<path d="M643.9,1322v-7" stroke="#262626" stroke-width="2.6"/>
<text x="643.9" y="1353.5" font-family="'Liberation Serif', 'Times New Roman', serif" font-size="24" text-anchor="middle" fill="#000">400</text>
<path d="M777,1322v-7" stroke="#262626" stroke-width="2.6"/>
<text x="777" y="1353.5" font-family="'Liberation Serif', 'Times New Roman', serif" font-size="24" text-anchor="middle" fill="#000">500</text>
<path d="M111.5,804h7" stroke="#262626" stroke-width="2.6"/>
<text x="101" y="816" font-family="'Liberation Serif', 'Times New Roman', serif" font-size="24" text-anchor="end" fill="#000">10<tspan dy="-11.5" font-size="18.5">0</tspan></text>
<path d="M111.5,964.1h7" stroke="#262626" stroke-width="2.6"/>
<text x="101" y="976.1" font-family="'Liberation Serif', 'Times New Roman', serif" font-size="24" text-anchor="end" fill="#000">10<tspan dy="-11.5" font-size="18.5">-100</tspan></text>
<path d="M111.5,1124.3h7" stroke="#262626" stroke-width="2.6"/>
<text x="101" y="1136.3" font-family="'Liberation Serif', 'Times New Roman', serif" font-size="24" text-anchor="end" fill="#000">10<tspan dy="-11.5" font-size="18.5">-200</tspan></text>
<path d="M111.5,1284.5h7" stroke="#262626" stroke-width="2.6"/>
<text x="101" y="1296.5" font-family="'Liberation Serif', 'Times New Roman', serif" font-size="24" text-anchor="end" fill="#000">10<tspan dy="-11.5" font-size="18.5">-300</tspan></text>
<path d="M111.5,820h5" stroke="#262626" stroke-width="2.4"/>
<path d="M111.5,836h5" stroke="#262626" stroke-width="2.4"/>
<path d="M111.5,852h5" stroke="#262626" stroke-width="2.4"/>
<path d="M111.5,868.1h5" stroke="#262626" stroke-width="2.4"/>
<path d="M111.5,884.1h5" stroke="#262626" stroke-width="2.4"/>
<path d="M111.5,900.1h5" stroke="#262626" stroke-width="2.4"/>
<path d="M111.5,916.1h5" stroke="#262626" stroke-width="2.4"/>
<path d="M111.5,932.1h5" stroke="#262626" stroke-width="2.4"/>
<path d="M111.5,948.1h5" stroke="#262626" stroke-width="2.4"/>
<path d="M111.5,980.2h5" stroke="#262626" stroke-width="2.4"/>
<path d="M111.5,996.2h5" stroke="#262626" stroke-width="2.4"/>
<path d="M111.5,1012.2h5" stroke="#262626" stroke-width="2.4"/>
<path d="M111.5,1028.2h5" stroke="#262626" stroke-width="2.4"/>
<path d="M111.5,1044.2h5" stroke="#262626" stroke-width="2.4"/>
<path d="M111.5,1060.2h5" stroke="#262626" stroke-width="2.4"/>
<path d="M111.5,1076.3h5" stroke="#262626" stroke-width="2.4"/>
<path d="M111.5,1092.3h5" stroke="#262626" stroke-width="2.4"/>
<path d="M111.5,1108.3h5" stroke="#262626" stroke-width="2.4"/>
<path d="M111.5,1140.3h5" stroke="#262626" stroke-width="2.4"/>
<path d="M111.5,1156.3h5" stroke="#262626" stroke-width="2.4"/>
<path d="M111.5,1172.3h5" stroke="#262626" stroke-width="2.4"/>
<path d="M111.5,1188.4h5" stroke="#262626" stroke-width="2.4"/>
<path d="M111.5,1204.4h5" stroke="#262626" stroke-width="2.4"/>
<path d="M111.5,1220.4h5" stroke="#262626" stroke-width="2.4"/>
<path d="M111.5,1236.4h5" stroke="#262626" stroke-width="2.4"/>
<path d="M111.5,1252.4h5" stroke="#262626" stroke-width="2.4"/>
<path d="M111.5,1268.4h5" stroke="#262626" stroke-width="2.4"/>
<path d="M111.5,1300.5h5" stroke="#262626" stroke-width="2.4"/>
<path d="M111.5,1316.5h5" stroke="#262626" stroke-width="2.4"/>
<polyline points="112.8,797 115.5,797.7 118.2,798.5 120.8,799.2 123.5,799.9 126.1,800.5 128.8,801.1 131.5,801.7 134.1,802.3 136.8,802.8 139.5,803.3 142.1,803.7 144.8,804.1 147.4,804.4 150.1,804.6 152.8,804.8 155.4,804.9 158.1,805 160.7,805.2 163.4,805.2 166.1,805.3 168.7,805.4 171.4,805.5 174.1,805.5 176.7,805.6 179.4,805.7 182,805.7 184.7,805.8 187.4,805.9 190,805.9 192.7,806 195.4,806.1 198,806.2 200.7,806.2 203.3,806.3 206,806.4 208.7,806.5 211.3,806.6 214,806.6 216.6,806.7 219.3,806.8 222,806.9 224.6,807 227.3,807 230,807.1 232.6,807.2 235.3,807.3 237.9,807.4 240.6,807.4 243.3,807.5 245.9,807.6 248.6,807.7 251.3,807.8 253.9,807.8 256.6,807.9 259.2,808 261.9,808.1 264.6,808.2 267.2,808.2 269.9,808.3 272.6,808.4 275.2,808.5 277.9,808.6 280.5,808.7 283.2,808.8 285.9,808.9 288.5,809 291.2,809.1 293.8,809.1 296.5,809.2 299.2,809.3 301.8,809.4 304.5,809.5 307.2,809.5 309.8,809.6 312.5,809.6 315.1,809.6 317.8,809.6 320.5,809.7 323.1,809.7 325.8,809.7 328.5,809.7 331.1,809.8 333.8,809.8 336.4,809.8 339.1,809.8 341.8,809.8 344.4,809.8 347.1,809.9 349.7,809.9 352.4,809.9 355.1,809.9 357.7,809.9 360.4,809.9 363.1,809.9 365.7,809.9 368.4,809.9 371,810 373.7,810 376.4,810 379,810 381.7,810 384.4,810 387,810 389.7,810 392.3,810 395,810 397.7,810 400.3,810.1 403,810.1 405.7,810.1 408.3,810.1 411,810.1 413.6,810.1 416.3,810.1 419,810.1 421.6,810.1 424.3,810.2 426.9,810.2 429.6,810.2 432.3,810.2 434.9,810.2 437.6,810.2 440.3,810.2 442.9,810.3 445.6,810.3 448.2,810.3 450.9,810.3 453.6,810.3 456.2,810.4 458.9,810.4 461.6,810.4 464.2,810.4 466.9,810.5 469.5,810.5 472.2,810.5 474.9,810.5 477.5,810.5 480.2,810.6 482.8,810.6 485.5,810.6 488.2,810.6 490.8,810.7 493.5,810.7 496.2,810.7 498.8,810.7 501.5,810.8 504.1,810.8 506.8,810.8 509.5,810.8 512.1,810.9 514.8,810.9 517.5,810.9 520.1,811 522.8,811 525.4,811 528.1,811 530.8,811.1 533.4,811.1 536.1,811.1 538.8,811.1 541.4,811.2 544.1,811.2 546.7,811.2 549.4,811.2 552.1,811.3 554.7,811.3 557.4,811.3 560,811.4 562.7,811.4 565.4,811.4 568,811.4 570.7,811.5 573.4,811.5 576,811.5 578.7,811.5 581.3,811.5 584,811.6 586.7,811.6 589.3,811.6 592,811.6 594.7,811.7 597.3,811.7 600,811.7 602.6,811.7 605.3,811.7 608,811.8 610.6,811.8 613.3,811.8 615.9,811.8 618.6,811.8 621.3,811.8 623.9,811.9 626.6,811.9 629.3,811.9 631.9,811.9 634.6,811.9 637.2,811.9 639.9,811.9 642.6,811.9 645.2,812 647.9,812 650.6,812 653.2,812 655.9,812 658.5,812 661.2,812 663.9,812 666.5,812 669.2,812 671.9,812 674.5,812 677.2,812 679.8,812 682.5,812 685.2,812 687.8,812 690.5,812 693.1,812 695.8,812 698.5,812 701.1,812 703.8,812 706.5,812 709.1,812 711.8,812 714.4,812 717.1,812 719.8,812 722.4,812 725.1,812 727.8,812 730.4,812 733.1,812 735.7,812 738.4,812 741.1,812 743.7,812 746.4,812 749,812 751.7,812 754.4,812 757,812 759.7,812 762.4,812 765,812 767.7,812 770.3,812 773,812 775.7,812 777,812" fill="none" stroke="#000000" stroke-width="3.0" stroke-linejoin="round"/>

















<polyline points="112.8,797 115.5,797 118.2,797 120.8,797 123.5,797 126.1,797 128.8,797 131.5,797 134.1,797 136.8,797 139.5,797 142.1,797 144.8,797 147.4,797 150.1,797 152.8,797 155.4,797 158.1,797 160.7,797 163.4,797 166.1,797 168.7,797 171.4,797 174.1,797 176.7,797 179.4,797 182,797 184.7,797 187.4,797 190,797 192.7,797 195.4,797 198,797 200.7,797 203.3,797 206,797 208.7,797 211.3,797 214,797 216.6,797 219.3,797 222,797 224.6,797 227.3,797 230,797 232.6,797 235.3,797 237.9,797 240.6,797 243.3,797.1 245.9,797.1 248.6,797.1 251.3,797.1 253.9,797.1 256.6,797.1 259.2,797.1 261.9,797.1 264.6,797.1 267.2,797.1 269.9,797.1 272.6,797.1 275.2,797.1 277.9,797.1 280.5,797.1 283.2,797.1 285.9,797.1 288.5,797.1 291.2,797.1 293.8,797.1 296.5,797.1 299.2,797.1 301.8,797.1 304.5,797.1 307.2,797.1 309.8,797.1 312.5,797.1 315.1,797.1 317.8,797.1 320.5,797.1 323.1,797.1 325.8,797.1 328.5,797.1 331.1,797.1 333.8,797.1 336.4,797.1 339.1,797.2 341.8,797.2 344.4,797.2 347.1,797.2 349.7,797.2 352.4,797.2 355.1,797.2 357.7,797.2 360.4,797.2 363.1,797.2 365.7,797.2 368.4,797.2 371,797.2 373.7,797.2 376.4,797.2 379,797.2 381.7,797.2 384.4,797.2 387,797.2 389.7,797.2 392.3,797.2 395,797.2 397.7,797.2 400.3,797.2 403,797.2 405.7,797.3 408.3,797.3 411,797.3 413.6,797.3 416.3,797.3 419,797.3 421.6,797.3 424.3,797.3 426.9,797.3 429.6,797.3 432.3,797.3 434.9,797.3 437.6,797.3 440.3,797.3 442.9,797.3 445.6,797.3 448.2,797.4 450.9,797.4 453.6,797.4 456.2,797.4 458.9,797.4 461.6,797.4 464.2,797.5 466.9,797.5 469.5,797.5 472.2,797.5 474.9,797.6 477.5,797.6 480.2,797.6 482.8,797.7 485.5,797.7 488.2,797.7 490.8,797.7 493.5,797.8 496.2,797.8 498.8,797.8 501.5,797.9 504.1,797.9 506.8,798 509.5,798 512.1,798 514.8,798.1 517.5,798.1 520.1,798.1 522.8,798.2 525.4,798.2 528.1,798.3 530.8,798.3 533.4,798.3 536.1,798.4 538.8,798.4 541.4,798.5 544.1,798.5 546.7,798.5 549.4,798.6 552.1,798.6 554.7,798.7 557.4,798.7 560,798.7 562.7,798.8 565.4,798.8 568,798.8 570.7,798.9 573.4,798.9 576,799 578.7,799 581.3,799 584,799.1 586.7,799.1 589.3,799.1 592,799.2 594.7,799.2 597.3,799.2 600,799.2 602.6,799.3 605.3,799.3 608,799.3 610.6,799.3 613.3,799.4 615.9,799.4 618.6,799.4 621.3,799.4 623.9,799.5 626.6,799.5 629.3,799.5 631.9,799.5 634.6,799.5 637.2,799.5 639.9,799.5 642.6,799.6 645.2,799.6 647.9,799.6 650.6,799.6 653.2,799.6 655.9,799.6 658.5,799.6 661.2,799.6 663.9,799.7 666.5,799.7 669.2,799.7 671.9,799.7 674.5,799.7 677.2,799.7 679.8,799.7 682.5,799.7 685.2,799.8 687.8,799.8 690.5,799.8 693.1,799.8 695.8,799.8 698.5,799.8 701.1,799.8 703.8,799.8 706.5,799.8 709.1,799.9 711.8,799.9 714.4,799.9 717.1,799.9 719.8,799.9 722.4,799.9 725.1,799.9 727.8,799.9 730.4,799.9 733.1,799.9 735.7,799.9 738.4,799.9 741.1,800 743.7,800 746.4,800 749,800 751.7,800 754.4,800 757,800 759.7,800 762.4,800 765,800 767.7,800 770.3,800 773,800 775.7,800 777,800" fill="none" stroke="#00ff00" stroke-width="3.0" stroke-linejoin="round"/>
<path d="M109.2,793.4L116.4,800.6M109.2,800.6L116.4,793.4" stroke="#00ff00" stroke-width="2.6" fill="none"/>
<path d="M149.2,793.4L156.4,800.6M149.2,800.6L156.4,793.4" stroke="#00ff00" stroke-width="2.6" fill="none"/>
<path d="M189.1,793.4L196.3,800.6M189.1,800.6L196.3,793.4" stroke="#00ff00" stroke-width="2.6" fill="none"/>
<path d="M229,793.4L236.2,800.6M229,800.6L236.2,793.4" stroke="#00ff00" stroke-width="2.6" fill="none"/>
<path d="M269,793.5L276.2,800.7M269,800.7L276.2,793.5" stroke="#00ff00" stroke-width="2.6" fill="none"/>
<path d="M308.9,793.5L316.1,800.7M308.9,800.7L316.1,793.5" stroke="#00ff00" stroke-width="2.6" fill="none"/>
<path d="M348.8,793.6L356,800.8M348.8,800.8L356,793.6" stroke="#00ff00" stroke-width="2.6" fill="none"/>
<path d="M388.7,793.6L395.9,800.8M388.7,800.8L395.9,793.6" stroke="#00ff00" stroke-width="2.6" fill="none"/>
<path d="M428.7,793.7L435.9,800.9M428.7,800.9L435.9,793.7" stroke="#00ff00" stroke-width="2.6" fill="none"/>
<path d="M468.6,793.9L475.8,801.1M468.6,801.1L475.8,793.9" stroke="#00ff00" stroke-width="2.6" fill="none"/>
<path d="M508.5,794.4L515.7,801.6M508.5,801.6L515.7,794.4" stroke="#00ff00" stroke-width="2.6" fill="none"/>
<path d="M548.5,795L555.7,802.2M548.5,802.2L555.7,795" stroke="#00ff00" stroke-width="2.6" fill="none"/>
<path d="M588.4,795.6L595.6,802.8M588.4,802.8L595.6,795.6" stroke="#00ff00" stroke-width="2.6" fill="none"/>
<path d="M628.3,795.9L635.5,803.1M628.3,803.1L635.5,795.9" stroke="#00ff00" stroke-width="2.6" fill="none"/>
<path d="M668.3,796.1L675.5,803.3M668.3,803.3L675.5,796.1" stroke="#00ff00" stroke-width="2.6" fill="none"/>
<path d="M708.2,796.3L715.4,803.5M708.2,803.5L715.4,796.3" stroke="#00ff00" stroke-width="2.6" fill="none"/>
<path d="M748.1,796.4L755.3,803.6M748.1,803.6L755.3,796.4" stroke="#00ff00" stroke-width="2.6" fill="none"/>
<polyline points="112.8,797 115.5,797.1 118.2,797.2 120.8,797.3 123.5,797.4 126.1,797.5 128.8,797.6 131.5,797.6 134.1,797.7 136.8,797.8 139.5,797.9 142.1,798 144.8,798 147.4,798.1 150.1,798.1 152.8,798.2 155.4,798.3 158.1,798.3 160.7,798.4 163.4,798.4 166.1,798.4 168.7,798.5 171.4,798.5 174.1,798.6 176.7,798.6 179.4,798.7 182,798.7 184.7,798.7 187.4,798.8 190,798.8 192.7,798.8 195.4,798.8 198,798.8 200.7,798.9 203.3,798.9 206,798.9 208.7,798.9 211.3,798.9 214,799 216.6,799 219.3,799 222,799 224.6,799 227.3,799 230,799 232.6,799.1 235.3,799.1 237.9,799.1 240.6,799.1 243.3,799.1 245.9,799.1 248.6,799.1 251.3,799.1 253.9,799.2 256.6,799.2 259.2,799.2 261.9,799.2 264.6,799.2 267.2,799.2 269.9,799.2 272.6,799.2 275.2,799.2 277.9,799.2 280.5,799.3 283.2,799.3 285.9,799.3 288.5,799.3 291.2,799.3 293.8,799.3 296.5,799.3 299.2,799.3 301.8,799.3 304.5,799.4 307.2,799.4 309.8,799.4 312.5,799.4 315.1,799.4 317.8,799.4 320.5,799.4 323.1,799.5 325.8,799.5 328.5,799.5 331.1,799.5 333.8,799.5 336.4,799.5 339.1,799.5 341.8,799.5 344.4,799.6 347.1,799.6 349.7,799.6 352.4,799.6 355.1,799.6 357.7,799.6 360.4,799.6 363.1,799.6 365.7,799.6 368.4,799.7 371,799.7 373.7,799.7 376.4,799.7 379,799.7 381.7,799.7 384.4,799.7 387,799.8 389.7,799.8 392.3,799.8 395,799.8 397.7,799.8 400.3,799.8 403,799.8 405.7,799.8 408.3,799.9 411,799.9 413.6,799.9 416.3,799.9 419,799.9 421.6,799.9 424.3,800 426.9,800 429.6,800 432.3,800 434.9,800 437.6,800 440.3,800.1 442.9,800.1 445.6,800.1 448.2,800.1 450.9,800.1 453.6,800.2 456.2,800.2 458.9,800.2 461.6,800.2 464.2,800.3 466.9,800.3 469.5,800.3 472.2,800.3 474.9,800.4 477.5,800.4 480.2,800.4 482.8,800.5 485.5,800.5 488.2,800.5 490.8,800.5 493.5,800.6 496.2,800.6 498.8,800.6 501.5,800.7 504.1,800.7 506.8,800.7 509.5,800.8 512.1,800.8 514.8,800.8 517.5,800.9 520.1,800.9 522.8,800.9 525.4,801 528.1,801 530.8,801 533.4,801.1 536.1,801.1 538.8,801.1 541.4,801.2 544.1,801.2 546.7,801.2 549.4,801.3 552.1,801.3 554.7,801.3 557.4,801.4 560,801.4 562.7,801.4 565.4,801.4 568,801.5 570.7,801.5 573.4,801.5 576,801.6 578.7,801.6 581.3,801.6 584,801.7 586.7,801.7 589.3,801.7 592,801.7 594.7,801.8 597.3,801.8 600,801.8 602.6,801.8 605.3,801.9 608,801.9 610.6,801.9 613.3,801.9 615.9,802 618.6,802 621.3,802 623.9,802 626.6,802 629.3,802.1 631.9,802.1 634.6,802.1 637.2,802.1 639.9,802.1 642.6,802.1 645.2,802.1 647.9,802.2 650.6,802.2 653.2,802.2 655.9,802.2 658.5,802.2 661.2,802.2 663.9,802.2 666.5,802.2 669.2,802.2 671.9,802.2 674.5,802.2 677.2,802.2 679.8,802.2 682.5,802.2 685.2,802.2 687.8,802.2 690.5,802.2 693.1,802.2 695.8,802.2 698.5,802.2 701.1,802.2 703.8,802.2 706.5,802.2 709.1,802.2 711.8,802.2 714.4,802.2 717.1,802.2 719.8,802.2 722.4,802.2 725.1,802.2 727.8,802.2 730.4,802.2 733.1,802.2 735.7,802.2 738.4,802.2 741.1,802.2 743.7,802.2 746.4,802.2 749,802.2 751.7,802.2 754.4,802.2 757,802.2 759.7,802.2 762.4,802.2 765,802.2 767.7,802.2 770.3,802.2 773,802.2 775.7,802.2 777,802.2" fill="none" stroke="#ffff00" stroke-width="3.0" stroke-linejoin="round"/>
<path d="M112.8,789.5L117.6,797L112.8,804.5L108,797Z" fill="#ffff00" stroke="#ffff00" stroke-width="1"/>
<path d="M152.8,790.7L157.6,798.2L152.8,805.7L148,798.2Z" fill="#ffff00" stroke="#ffff00" stroke-width="1"/>
<path d="M192.7,791.3L197.5,798.8L192.7,806.3L187.9,798.8Z" fill="#ffff00" stroke="#ffff00" stroke-width="1"/>
<path d="M232.6,791.6L237.4,799.1L232.6,806.6L227.8,799.1Z" fill="#ffff00" stroke="#ffff00" stroke-width="1"/>
<path d="M272.6,791.7L277.4,799.2L272.6,806.7L267.8,799.2Z" fill="#ffff00" stroke="#ffff00" stroke-width="1"/>
<path d="M312.5,791.9L317.3,799.4L312.5,806.9L307.7,799.4Z" fill="#ffff00" stroke="#ffff00" stroke-width="1"/>
<path d="M352.4,792.1L357.2,799.6L352.4,807.1L347.6,799.6Z" fill="#ffff00" stroke="#ffff00" stroke-width="1"/>
<path d="M392.3,792.3L397.1,799.8L392.3,807.3L387.5,799.8Z" fill="#ffff00" stroke="#ffff00" stroke-width="1"/>
<path d="M432.3,792.5L437.1,800L432.3,807.5L427.5,800Z" fill="#ffff00" stroke="#ffff00" stroke-width="1"/>
<path d="M472.2,792.8L477,800.3L472.2,807.8L467.4,800.3Z" fill="#ffff00" stroke="#ffff00" stroke-width="1"/>
<path d="M512.1,793.3L516.9,800.8L512.1,808.3L507.3,800.8Z" fill="#ffff00" stroke="#ffff00" stroke-width="1"/>
<path d="M552.1,793.8L556.9,801.3L552.1,808.8L547.3,801.3Z" fill="#ffff00" stroke="#ffff00" stroke-width="1"/>
<path d="M592,794.2L596.8,801.7L592,809.2L587.2,801.7Z" fill="#ffff00" stroke="#ffff00" stroke-width="1"/>
<path d="M631.9,794.6L636.7,802.1L631.9,809.6L627.1,802.1Z" fill="#ffff00" stroke="#ffff00" stroke-width="1"/>
<path d="M671.9,794.7L676.7,802.2L671.9,809.7L667.1,802.2Z" fill="#ffff00" stroke="#ffff00" stroke-width="1"/>
<path d="M711.8,794.7L716.6,802.2L711.8,809.7L707,802.2Z" fill="#ffff00" stroke="#ffff00" stroke-width="1"/>
<path d="M751.7,794.7L756.5,802.2L751.7,809.7L746.9,802.2Z" fill="#ffff00" stroke="#ffff00" stroke-width="1"/>
<polyline points="112.8,797 115.5,797.5 118.2,798.1 120.8,798.6 123.5,799.1 126.1,799.6 128.8,800.1 131.5,800.5 134.1,800.9 136.8,801.3 139.5,801.7 142.1,802 144.8,802.3 147.4,802.6 150.1,802.8 152.8,803 155.4,803.2 158.1,803.3 160.7,803.4 163.4,803.6 166.1,803.7 168.7,803.8 171.4,803.9 174.1,804 176.7,804.1 179.4,804.2 182,804.3 184.7,804.3 187.4,804.4 190,804.5 192.7,804.5 195.4,804.5 198,804.6 200.7,804.6 203.3,804.6 206,804.7 208.7,804.7 211.3,804.7 214,804.8 216.6,804.8 219.3,804.8 222,804.8 224.6,804.9 227.3,804.9 230,804.9 232.6,804.9 235.3,805 237.9,805 240.6,805 243.3,805 245.9,805 248.6,805 251.3,805.1 253.9,805.1 256.6,805.1 259.2,805.1 261.9,805.1 264.6,805.1 267.2,805.2 269.9,805.2 272.6,805.2 275.2,805.2 277.9,805.2 280.5,805.2 283.2,805.2 285.9,805.3 288.5,805.3 291.2,805.3 293.8,805.3 296.5,805.3 299.2,805.3 301.8,805.3 304.5,805.4 307.2,805.4 309.8,805.4 312.5,805.4 315.1,805.4 317.8,805.4 320.5,805.4 323.1,805.5 325.8,805.5 328.5,805.5 331.1,805.5 333.8,805.5 336.4,805.5 339.1,805.6 341.8,805.6 344.4,805.6 347.1,805.6 349.7,805.6 352.4,805.6 355.1,805.6 357.7,805.7 360.4,805.7 363.1,805.7 365.7,805.7 368.4,805.7 371,805.7 373.7,805.7 376.4,805.8 379,805.8 381.7,805.8 384.4,805.8 387,805.8 389.7,805.8 392.3,805.8 395,805.8 397.7,805.9 400.3,805.9 403,805.9 405.7,805.9 408.3,805.9 411,805.9 413.6,805.9 416.3,805.9 419,806 421.6,806 424.3,806 426.9,806 429.6,806 432.3,806 434.9,806 437.6,806 440.3,806 442.9,806 445.6,806 448.2,806.1 450.9,806.1 453.6,806.1 456.2,806.1 458.9,806.1 461.6,806.1 464.2,806.1 466.9,806.1 469.5,806.1 472.2,806.1 474.9,806.1 477.5,806.2 480.2,806.2 482.8,806.2 485.5,806.2 488.2,806.2 490.8,806.2 493.5,806.2 496.2,806.2 498.8,806.2 501.5,806.2 504.1,806.3 506.8,806.3 509.5,806.3 512.1,806.3 514.8,806.3 517.5,806.3 520.1,806.3 522.8,806.3 525.4,806.3 528.1,806.3 530.8,806.3 533.4,806.3 536.1,806.4 538.8,806.4 541.4,806.4 544.1,806.4 546.7,806.4 549.4,806.4 552.1,806.4 554.7,806.4 557.4,806.4 560,806.4 562.7,806.4 565.4,806.4 568,806.4 570.7,806.5 573.4,806.5 576,806.5 578.7,806.5 581.3,806.5 584,806.5 586.7,806.5 589.3,806.5 592,806.5 594.7,806.5 597.3,806.5 600,806.5 602.6,806.5 605.3,806.5 608,806.5 610.6,806.5 613.3,806.5 615.9,806.6 618.6,806.6 621.3,806.6 623.9,806.6 626.6,806.6 629.3,806.6 631.9,806.6 634.6,806.6 637.2,806.6 639.9,806.6 642.6,806.6 645.2,806.6 647.9,806.6 650.6,806.6 653.2,806.6 655.9,806.6 658.5,806.6 661.2,806.6 663.9,806.6 666.5,806.6 669.2,806.6 671.9,806.6 674.5,806.6 677.2,806.6 679.8,806.6 682.5,806.6 685.2,806.6 687.8,806.6 690.5,806.6 693.1,806.6 695.8,806.6 698.5,806.6 701.1,806.6 703.8,806.6 706.5,806.6 709.1,806.6 711.8,806.6 714.4,806.6 717.1,806.6 719.8,806.6 722.4,806.6 725.1,806.6 727.8,806.6 730.4,806.6 733.1,806.6 735.7,806.6 738.4,806.6 741.1,806.6 743.7,806.6 746.4,806.6 749,806.6 751.7,806.6 754.4,806.6 757,806.6 759.7,806.6 762.4,806.6 765,806.6 767.7,806.6 770.3,806.6 773,806.6 775.7,806.6 777,806.6" fill="none" stroke="#ff00ff" stroke-width="3.0" stroke-linejoin="round"/>
<circle cx="112.8" cy="797" r="4.6" fill="#ff00ff"/>
<circle cx="152.8" cy="803" r="4.6" fill="#ff00ff"/>
<circle cx="192.7" cy="804.5" r="4.6" fill="#ff00ff"/>
<circle cx="232.6" cy="804.9" r="4.6" fill="#ff00ff"/>
<circle cx="272.6" cy="805.2" r="4.6" fill="#ff00ff"/>
<circle cx="312.5" cy="805.4" r="4.6" fill="#ff00ff"/>
<circle cx="352.4" cy="805.6" r="4.6" fill="#ff00ff"/>
<circle cx="392.3" cy="805.8" r="4.6" fill="#ff00ff"/>
<circle cx="432.3" cy="806" r="4.6" fill="#ff00ff"/>
<circle cx="472.2" cy="806.1" r="4.6" fill="#ff00ff"/>
<circle cx="512.1" cy="806.3" r="4.6" fill="#ff00ff"/>
<circle cx="552.1" cy="806.4" r="4.6" fill="#ff00ff"/>
<circle cx="592" cy="806.5" r="4.6" fill="#ff00ff"/>
<circle cx="631.9" cy="806.6" r="4.6" fill="#ff00ff"/>
<circle cx="671.9" cy="806.6" r="4.6" fill="#ff00ff"/>
<circle cx="711.8" cy="806.6" r="4.6" fill="#ff00ff"/>
<circle cx="751.7" cy="806.6" r="4.6" fill="#ff00ff"/>
<polyline points="112.8,797 115.5,798 118.2,798.9 120.8,799.8 123.5,800.7 126.1,801.6 128.8,802.4 131.5,803.1 134.1,803.9 136.8,804.6 139.5,805.2 142.1,805.7 144.8,806.2 147.4,806.6 150.1,807 152.8,807.2 155.4,807.4 158.1,807.6 160.7,807.7 163.4,807.8 166.1,808 168.7,808.1 171.4,808.2 174.1,808.3 176.7,808.4 179.4,808.5 182,808.5 184.7,808.6 187.4,808.8 190,808.9 192.7,809 195.4,809.1 198,809.3 200.7,809.4 203.3,809.6 206,809.7 208.7,809.9 211.3,810.1 214,810.2 216.6,810.4 219.3,810.6 222,810.7 224.6,810.9 227.3,811.1 230,811.2 232.6,811.4 235.3,811.6 237.9,811.7 240.6,811.9 243.3,812.1 245.9,812.3 248.6,812.4 251.3,812.6 253.9,812.8 256.6,813 259.2,813.1 261.9,813.3 264.6,813.4 267.2,813.6 269.9,813.7 272.6,813.8 275.2,813.9 277.9,814 280.5,814.1 283.2,814.2 285.9,814.3 288.5,814.4 291.2,814.5 293.8,814.5 296.5,814.6 299.2,814.7 301.8,814.8 304.5,814.8 307.2,814.9 309.8,814.9 312.5,815 315.1,815.1 317.8,815.1 320.5,815.2 323.1,815.2 325.8,815.3 328.5,815.3 331.1,815.4 333.8,815.4 336.4,815.4 339.1,815.5 341.8,815.5 344.4,815.6 347.1,815.6 349.7,815.7 352.4,815.7 355.1,815.7 357.7,815.8 360.4,815.8 363.1,815.8 365.7,815.9 368.4,815.9 371,815.9 373.7,816 376.4,816 379,816 381.7,816.1 384.4,816.1 387,816.1 389.7,816.2 392.3,816.2 395,816.2 397.7,816.3 400.3,816.3 403,816.4 405.7,816.4 408.3,816.4 411,816.5 413.6,816.5 416.3,816.5 419,816.6 421.6,816.6 424.3,816.7 426.9,816.7 429.6,816.8 432.3,816.8 434.9,816.8 437.6,816.9 440.3,816.9 442.9,817 445.6,817 448.2,817.1 450.9,817.1 453.6,817.2 456.2,817.3 458.9,817.3 461.6,817.4 464.2,817.4 466.9,817.5 469.5,817.5 472.2,817.6 474.9,817.7 477.5,817.7 480.2,817.8 482.8,817.8 485.5,817.9 488.2,818 490.8,818 493.5,818.1 496.2,818.1 498.8,818.2 501.5,818.3 504.1,818.3 506.8,818.4 509.5,818.5 512.1,818.5 514.8,818.6 517.5,818.6 520.1,818.7 522.8,818.8 525.4,818.8 528.1,818.9 530.8,819 533.4,819 536.1,819.1 538.8,819.1 541.4,819.2 544.1,819.3 546.7,819.3 549.4,819.4 552.1,819.5 554.7,819.5 557.4,819.6 560,819.6 562.7,819.7 565.4,819.8 568,819.8 570.7,819.9 573.4,819.9 576,820 578.7,820.1 581.3,820.1 584,820.2 586.7,820.2 589.3,820.3 592,820.3 594.7,820.4 597.3,820.4 600,820.5 602.6,820.5 605.3,820.6 608,820.6 610.6,820.7 613.3,820.7 615.9,820.8 618.6,820.8 621.3,820.8 623.9,820.9 626.6,820.9 629.3,821 631.9,821 634.6,821 637.2,821.1 639.9,821.1 642.6,821.1 645.2,821.2 647.9,821.2 650.6,821.2 653.2,821.3 655.9,821.3 658.5,821.4 661.2,821.4 663.9,821.4 666.5,821.5 669.2,821.5 671.9,821.5 674.5,821.5 677.2,821.6 679.8,821.6 682.5,821.6 685.2,821.7 687.8,821.7 690.5,821.7 693.1,821.8 695.8,821.8 698.5,821.8 701.1,821.9 703.8,821.9 706.5,821.9 709.1,821.9 711.8,822 714.4,822 717.1,822 719.8,822 722.4,822.1 725.1,822.1 727.8,822.1 730.4,822.1 733.1,822.2 735.7,822.2 738.4,822.2 741.1,822.2 743.7,822.3 746.4,822.3 749,822.3 751.7,822.3 754.4,822.3 757,822.4 759.7,822.4 762.4,822.4 765,822.4 767.7,822.4 770.3,822.5 773,822.5 775.7,822.5 777,822.5" fill="none" stroke="#00ffff" stroke-width="3.0" stroke-linejoin="round"/>
<path d="M112.8,790L119.8,802L105.8,802Z" fill="#00ffff"/>
<path d="M152.8,800.2L159.8,812.2L145.8,812.2Z" fill="#00ffff"/>
<path d="M192.7,802L199.7,814L185.7,814Z" fill="#00ffff"/>
<path d="M232.6,804.4L239.6,816.4L225.6,816.4Z" fill="#00ffff"/>
<path d="M272.6,806.8L279.6,818.8L265.6,818.8Z" fill="#00ffff"/>
<path d="M312.5,808L319.5,820L305.5,820Z" fill="#00ffff"/>
<path d="M352.4,808.7L359.4,820.7L345.4,820.7Z" fill="#00ffff"/>
<path d="M392.3,809.2L399.3,821.2L385.3,821.2Z" fill="#00ffff"/>
<path d="M432.3,809.8L439.3,821.8L425.3,821.8Z" fill="#00ffff"/>
<path d="M472.2,810.6L479.2,822.6L465.2,822.6Z" fill="#00ffff"/>
<path d="M512.1,811.5L519.1,823.5L505.1,823.5Z" fill="#00ffff"/>
<path d="M552.1,812.5L559.1,824.5L545.1,824.5Z" fill="#00ffff"/>
<path d="M592,813.3L599,825.3L585,825.3Z" fill="#00ffff"/>
<path d="M631.9,814L638.9,826L624.9,826Z" fill="#00ffff"/>
<path d="M671.9,814.5L678.9,826.5L664.9,826.5Z" fill="#00ffff"/>
<path d="M711.8,815L718.8,827L704.8,827Z" fill="#00ffff"/>
<path d="M751.7,815.3L758.7,827.3L744.7,827.3Z" fill="#00ffff"/>
<polyline points="112.8,797 115.5,797.6 118.2,798.2 120.8,798.8 123.5,799.4 126.1,800 128.8,800.6 131.5,801.2 134.1,801.7 136.8,802.3 139.5,802.8 142.1,803.4 144.8,803.9 147.4,804.5 150.1,805 152.8,805.5 155.4,806 158.1,806.5 160.7,807 163.4,807.5 166.1,808 168.7,808.5 171.4,809 174.1,809.5 176.7,809.9 179.4,810.4 182,810.8 184.7,811.3 187.4,811.7 190,812.1 192.7,812.5 195.4,812.9 198,813.3 200.7,813.6 203.3,814 206,814.3 208.7,814.7 211.3,815 214,815.4 216.6,815.7 219.3,816 222,816.3 224.6,816.6 227.3,817 230,817.3 232.6,817.6 235.3,817.9 237.9,818.3 240.6,818.6 243.3,819 245.9,819.3 248.6,819.7 251.3,820 253.9,820.3 256.6,820.7 259.2,821 261.9,821.2 264.6,821.5 267.2,821.7 269.9,821.9 272.6,822.1 275.2,822.2 277.9,822.4 280.5,822.5 283.2,822.6 285.9,822.7 288.5,822.8 291.2,822.9 293.8,823 296.5,823.1 299.2,823.2 301.8,823.3 304.5,823.4 307.2,823.4 309.8,823.5 312.5,823.6 315.1,823.7 317.8,823.8 320.5,823.9 323.1,824 325.8,824 328.5,824.1 331.1,824.2 333.8,824.3 336.4,824.4 339.1,824.4 341.8,824.5 344.4,824.6 347.1,824.6 349.7,824.7 352.4,824.7 355.1,824.7 357.7,824.8 360.4,824.8 363.1,824.8 365.7,824.8 368.4,824.8 371,824.9 373.7,824.9 376.4,824.9 379,824.9 381.7,824.9 384.4,824.9 387,825 389.7,825 392.3,825 395,825 397.7,825 400.3,825 403,825 405.7,825 408.3,825.1 411,825.1 413.6,825.1 416.3,825.1 419,825.1 421.6,825.1 424.3,825.1 426.9,825.2 429.6,825.2 432.3,825.2 434.9,825.2 437.6,825.2 440.3,825.3 442.9,825.3 445.6,825.3 448.2,825.3 450.9,825.4 453.6,825.4 456.2,825.4 458.9,825.4 461.6,825.5 464.2,825.5 466.9,825.5 469.5,825.5 472.2,825.6 474.9,825.6 477.5,825.6 480.2,825.7 482.8,825.7 485.5,825.7 488.2,825.7 490.8,825.8 493.5,825.8 496.2,825.8 498.8,825.9 501.5,825.9 504.1,825.9 506.8,826 509.5,826 512.1,826 514.8,826.1 517.5,826.1 520.1,826.1 522.8,826.2 525.4,826.2 528.1,826.2 530.8,826.3 533.4,826.3 536.1,826.3 538.8,826.4 541.4,826.4 544.1,826.4 546.7,826.5 549.4,826.5 552.1,826.5 554.7,826.5 557.4,826.6 560,826.6 562.7,826.6 565.4,826.7 568,826.7 570.7,826.7 573.4,826.8 576,826.8 578.7,826.8 581.3,826.8 584,826.9 586.7,826.9 589.3,826.9 592,827 594.7,827 597.3,827 600,827 602.6,827.1 605.3,827.1 608,827.1 610.6,827.1 613.3,827.1 615.9,827.2 618.6,827.2 621.3,827.2 623.9,827.2 626.6,827.2 629.3,827.3 631.9,827.3 634.6,827.3 637.2,827.3 639.9,827.3 642.6,827.3 645.2,827.3 647.9,827.4 650.6,827.4 653.2,827.4 655.9,827.4 658.5,827.4 661.2,827.4 663.9,827.4 666.5,827.4 669.2,827.4 671.9,827.4 674.5,827.4 677.2,827.4 679.8,827.4 682.5,827.4 685.2,827.4 687.8,827.4 690.5,827.4 693.1,827.4 695.8,827.4 698.5,827.4 701.1,827.4 703.8,827.4 706.5,827.4 709.1,827.4 711.8,827.4 714.4,827.4 717.1,827.4 719.8,827.4 722.4,827.4 725.1,827.4 727.8,827.4 730.4,827.4 733.1,827.4 735.7,827.4 738.4,827.4 741.1,827.4 743.7,827.4 746.4,827.4 749,827.4 751.7,827.4 754.4,827.4 757,827.4 759.7,827.4 762.4,827.4 765,827.4 767.7,827.4 770.3,827.4 773,827.4 775.7,827.4 777,827.4" fill="none" stroke="#33e35a" stroke-width="3.0" stroke-linejoin="round"/>
<circle cx="112.8" cy="797" r="4.2" fill="#33e35a"/>
<circle cx="152.8" cy="805.5" r="4.2" fill="#33e35a"/>
<circle cx="192.7" cy="812.5" r="4.2" fill="#33e35a"/>
<circle cx="232.6" cy="817.6" r="4.2" fill="#33e35a"/>
<circle cx="272.6" cy="822.1" r="4.2" fill="#33e35a"/>
<circle cx="312.5" cy="823.6" r="4.2" fill="#33e35a"/>
<circle cx="352.4" cy="824.7" r="4.2" fill="#33e35a"/>
<circle cx="392.3" cy="825" r="4.2" fill="#33e35a"/>
<circle cx="432.3" cy="825.2" r="4.2" fill="#33e35a"/>
<circle cx="472.2" cy="825.6" r="4.2" fill="#33e35a"/>
<circle cx="512.1" cy="826" r="4.2" fill="#33e35a"/>
<circle cx="552.1" cy="826.5" r="4.2" fill="#33e35a"/>
<circle cx="592" cy="827" r="4.2" fill="#33e35a"/>
<circle cx="631.9" cy="827.3" r="4.2" fill="#33e35a"/>
<circle cx="671.9" cy="827.4" r="4.2" fill="#33e35a"/>
<circle cx="711.8" cy="827.4" r="4.2" fill="#33e35a"/>
<circle cx="751.7" cy="827.4" r="4.2" fill="#33e35a"/>
<polyline points="112.8,797 115.5,797.3 118.2,797.6 120.8,797.9 123.5,798.2 126.1,798.5 128.8,798.8 131.5,799 134.1,799.3 136.8,799.5 139.5,799.8 142.1,800 144.8,800.2 147.4,800.3 150.1,800.4 152.8,800.5 155.4,800.6 158.1,800.6 160.7,800.7 163.4,800.7 166.1,800.8 168.7,800.8 171.4,800.9 174.1,800.9 176.7,801 179.4,801 182,801 184.7,801.1 187.4,801.1 190,801.1 192.7,801.2 195.4,801.2 198,801.2 200.7,801.3 203.3,801.3 206,801.3 208.7,801.4 211.3,801.4 214,801.4 216.6,801.4 219.3,801.5 222,801.5 224.6,801.5 227.3,801.5 230,801.5 232.6,801.6 235.3,801.6 237.9,801.6 240.6,801.6 243.3,801.6 245.9,801.6 248.6,801.7 251.3,801.7 253.9,801.7 256.6,801.7 259.2,801.7 261.9,801.7 264.6,801.8 267.2,801.8 269.9,801.8 272.6,801.8 275.2,801.8 277.9,801.8 280.5,801.8 283.2,801.9 285.9,801.9 288.5,801.9 291.2,801.9 293.8,801.9 296.5,801.9 299.2,801.9 301.8,801.9 304.5,802 307.2,802 309.8,802 312.5,802 315.1,802 317.8,802 320.5,802 323.1,802 325.8,802 328.5,802 331.1,802.1 333.8,802.1 336.4,802.1 339.1,802.1 341.8,802.1 344.4,802.1 347.1,802.1 349.7,802.1 352.4,802.1 355.1,802.1 357.7,802.1 360.4,802.1 363.1,802.1 365.7,802.2 368.4,802.2 371,802.2 373.7,802.2 376.4,802.2 379,802.2 381.7,802.2 384.4,802.2 387,802.2 389.7,802.2 392.3,802.2 395,802.2 397.7,802.3 400.3,802.3 403,802.3 405.7,802.3 408.3,802.3 411,802.3 413.6,802.3 416.3,802.3 419,802.3 421.6,802.4 424.3,802.4 426.9,802.4 429.6,802.4 432.3,802.4 434.9,802.4 437.6,802.4 440.3,802.4 442.9,802.5 445.6,802.5 448.2,802.5 450.9,802.5 453.6,802.5 456.2,802.5 458.9,802.6 461.6,802.6 464.2,802.6 466.9,802.6 469.5,802.6 472.2,802.7 474.9,802.7 477.5,802.7 480.2,802.7 482.8,802.7 485.5,802.8 488.2,802.8 490.8,802.8 493.5,802.8 496.2,802.9 498.8,802.9 501.5,802.9 504.1,802.9 506.8,803 509.5,803 512.1,803 514.8,803 517.5,803.1 520.1,803.1 522.8,803.1 525.4,803.1 528.1,803.2 530.8,803.2 533.4,803.2 536.1,803.2 538.8,803.3 541.4,803.3 544.1,803.3 546.7,803.3 549.4,803.4 552.1,803.4 554.7,803.4 557.4,803.5 560,803.5 562.7,803.5 565.4,803.5 568,803.6 570.7,803.6 573.4,803.6 576,803.6 578.7,803.7 581.3,803.7 584,803.7 586.7,803.7 589.3,803.7 592,803.8 594.7,803.8 597.3,803.8 600,803.8 602.6,803.9 605.3,803.9 608,803.9 610.6,803.9 613.3,803.9 615.9,804 618.6,804 621.3,804 623.9,804 626.6,804 629.3,804 631.9,804.1 634.6,804.1 637.2,804.1 639.9,804.1 642.6,804.1 645.2,804.1 647.9,804.1 650.6,804.1 653.2,804.2 655.9,804.2 658.5,804.2 661.2,804.2 663.9,804.2 666.5,804.2 669.2,804.2 671.9,804.2 674.5,804.2 677.2,804.2 679.8,804.2 682.5,804.2 685.2,804.2 687.8,804.2 690.5,804.2 693.1,804.2 695.8,804.2 698.5,804.2 701.1,804.2 703.8,804.2 706.5,804.2 709.1,804.3 711.8,804.3 714.4,804.3 717.1,804.3 719.8,804.3 722.4,804.3 725.1,804.3 727.8,804.3 730.4,804.3 733.1,804.3 735.7,804.3 738.4,804.3 741.1,804.3 743.7,804.3 746.4,804.3 749,804.3 751.7,804.3 754.4,804.3 757,804.3 759.7,804.3 762.4,804.3 765,804.3 767.7,804.3 770.3,804.3 773,804.3 775.7,804.3 777,804.3" fill="none" stroke="#a946e3" stroke-width="3.0" stroke-linejoin="round"/>
<path d="M112.8,788.5L115.1,794.7L121.7,794.9L116.4,799L118.3,805.3L112.8,801.6L107.4,805.3L109.2,799L104,794.9L110.6,794.7Z" fill="#a946e3"/>
<path d="M152.8,792L155,798.2L161.6,798.4L156.4,802.5L158.2,808.8L152.8,805.1L147.3,808.8L149.1,802.5L143.9,798.4L150.5,798.2Z" fill="#a946e3"/>
<path d="M192.7,792.7L194.9,798.9L201.5,799.1L196.3,803.2L198.2,809.5L192.7,805.8L187.2,809.5L189.1,803.2L183.8,799.1L190.5,798.9Z" fill="#a946e3"/>
<path d="M232.6,793.1L234.9,799.3L241.5,799.5L236.2,803.5L238.1,809.9L232.6,806.2L227.2,809.9L229,803.5L223.8,799.5L230.4,799.3Z" fill="#a946e3"/>
<path d="M272.6,793.3L274.8,799.5L281.4,799.7L276.2,803.8L278,810.1L272.6,806.4L267.1,810.1L268.9,803.8L263.7,799.7L270.3,799.5Z" fill="#a946e3"/>
<path d="M312.5,793.5L314.7,799.7L321.3,799.9L316.1,804L317.9,810.3L312.5,806.6L307,810.3L308.9,804L303.6,799.9L310.2,799.7Z" fill="#a946e3"/>
<path d="M352.4,793.6L354.6,799.8L361.3,800L356,804.1L357.9,810.4L352.4,806.7L346.9,810.4L348.8,804.1L343.6,800L350.2,799.8Z" fill="#a946e3"/>
<path d="M392.3,793.7L394.6,800L401.2,800.2L396,804.2L397.8,810.6L392.3,806.8L386.9,810.6L388.7,804.2L383.5,800.2L390.1,800Z" fill="#a946e3"/>
<path d="M432.3,793.9L434.5,800.1L441.1,800.3L435.9,804.4L437.7,810.7L432.3,807L426.8,810.7L428.7,804.4L423.4,800.3L430,800.1Z" fill="#a946e3"/>
<path d="M472.2,794.2L474.4,800.4L481,800.6L475.8,804.6L477.7,811L472.2,807.3L466.7,811L468.6,804.6L463.4,800.6L470,800.4Z" fill="#a946e3"/>
<path d="M512.1,794.5L514.4,800.7L521,800.9L515.7,805L517.6,811.3L512.1,807.6L506.7,811.3L508.5,805L503.3,800.9L509.9,800.7Z" fill="#a946e3"/>
<path d="M552.1,794.9L554.3,801.1L560.9,801.3L555.7,805.4L557.5,811.7L552.1,808L546.6,811.7L548.4,805.4L543.2,801.3L549.8,801.1Z" fill="#a946e3"/>
<path d="M592,795.3L594.2,801.5L600.8,801.7L595.6,805.7L597.5,812.1L592,808.4L586.5,812.1L588.4,805.7L583.1,801.7L589.8,801.5Z" fill="#a946e3"/>
<path d="M631.9,795.6L634.2,801.8L640.8,802L635.5,806L637.4,812.4L631.9,808.7L626.5,812.4L628.3,806L623.1,802L629.7,801.8Z" fill="#a946e3"/>
<path d="M671.9,795.7L674.1,801.9L680.7,802.1L675.5,806.2L677.3,812.5L671.9,808.8L666.4,812.5L668.2,806.2L663,802.1L669.6,801.9Z" fill="#a946e3"/>
<path d="M711.8,795.8L714,802L720.6,802.2L715.4,806.2L717.2,812.6L711.8,808.9L706.3,812.6L708.2,806.2L702.9,802.2L709.5,802Z" fill="#a946e3"/>
<path d="M751.7,795.8L753.9,802L760.6,802.2L755.3,806.3L757.2,812.6L751.7,808.9L746.2,812.6L748.1,806.3L742.9,802.2L749.5,802Z" fill="#a946e3"/>
<polyline points="112.8,797 115.5,798.3 118.2,799.6 120.8,800.9 123.5,802.1 126.1,803.4 128.8,804.6 131.5,805.8 134.1,806.9 136.8,808.1 139.5,809.2 142.1,810.3 144.8,811.3 147.4,812.3 150.1,813.3 152.8,814.3 155.4,815.2 158.1,816.1 160.7,817 163.4,817.9 166.1,818.7 168.7,819.5 171.4,820.3 174.1,821.1 176.7,821.8 179.4,822.6 182,823.4 184.7,824.1 187.4,824.9 190,825.6 192.7,826.4 195.4,827.2 198,827.9 200.7,828.7 203.3,829.5 206,830.2 208.7,831 211.3,831.7 214,832.5 216.6,833.2 219.3,834 222,834.7 224.6,835.4 227.3,836.1 230,836.8 232.6,837.5 235.3,838.2 237.9,838.8 240.6,839.4 243.3,840 245.9,840.6 248.6,841.2 251.3,841.8 253.9,842.4 256.6,843 259.2,843.6 261.9,844.2 264.6,844.9 267.2,845.6 269.9,846.3 272.6,847 275.2,847.8 277.9,848.8 280.5,849.8 283.2,850.8 285.9,851.8 288.5,852.8 291.2,853.6 293.8,854.2 296.5,854.7 299.2,855.1 301.8,855.4 304.5,855.7 307.2,856 309.8,856.4 312.5,856.8 315.1,857.3 317.8,857.9 320.5,858.5 323.1,859.2 325.8,859.9 328.5,860.7 331.1,861.5 333.8,862.4 336.4,863.2 339.1,864.1 341.8,864.9 344.4,865.8 347.1,866.7 349.7,867.6 352.4,868.4 355.1,869.3 357.7,870.1 360.4,871 363.1,872 365.7,872.9 368.4,873.9 371,874.8 373.7,875.8 376.4,876.8 379,877.7 381.7,878.6 384.4,879.5 387,880.4 389.7,881.3 392.3,882.1 395,882.9 397.7,883.7 400.3,884.6 403,885.4 405.7,886.2 408.3,886.9 411,887.6 413.6,888.3 416.3,888.8 418.8,889.3 419,889.3 421.6,889.7 424.3,890 426.9,890.3 429.6,890.6 432.3,891 434.9,891.7 437.6,892.8 440.3,894.1 442.9,895.5 445.6,896.6 447.4,897.3 448.2,897.5 450.9,898.3 453.6,899 456.2,899.7 458.9,900.3 461.6,900.9 464.2,901.4 466.9,902 469.5,902.5 472.2,903.1 474.9,903.7 477.5,904.2 480.2,904.7 482.8,905.2 485.5,905.7 488.2,906.2 490.8,906.8 493.4,907.4 493.5,907.4 496.2,908.1 498.8,908.9 501.5,909.7 504.1,910.6 506.8,911.5 509.5,912.3 512.1,913.1 514.8,913.9 517.5,914.6 520.1,915.4 522.8,916.1 525.4,916.8 528.1,917.5 530.8,918.2 533.4,919 536.1,919.7 538.8,920.4 541.4,921.1 544.1,921.8 546.7,922.5 549.4,923.3 552.1,924 554.7,924.7 557.4,925.5 560,926.3 562.7,927 565.4,927.8 568,928.6 570.7,929.3 573.4,930.1 576,930.9 578.7,931.7 581.3,932.4 584,933.2 586.7,934 589.3,934.7 592,935.5 594.7,936.3 597.3,937 600,937.7 602.6,938.5 605.3,939.2 608,939.9 610.6,940.7 613.3,941.4 615.9,942.1 618.6,942.9 621.3,943.6 623.9,944.4 626.6,945.1 629.3,945.9 631.9,946.7 634.6,947.5 637.2,948.4 639.9,949.3 642.6,950.1 645.2,951 647.9,951.8 650.6,952.5 651.2,952.7 653.2,953.2 655.9,953.7 658.5,954.3 661.2,954.8 663.9,955.3 666.5,955.8 669.2,956.3 671.9,957 674.5,957.8 677.2,958.8 679.8,959.8 682.5,961 685.2,962.1 687.8,963.2 690.5,964.3 693.1,965.2 695.8,965.9 697.1,966.2 698.5,966.4 701.1,966.8 703.8,967.2 706.5,967.5 709.1,967.8 711.8,968.2 714.4,968.7 717.1,969.2 719.8,969.8 722.4,970.5 725.1,971.2 727.8,971.9 730.4,972.7 733.1,973.5 735.7,974.3 737.3,974.8 738.4,975.2 741.1,976.2 743.7,977.3 746.4,978.4 749,979.5 751.7,980.5 754.4,981.4 757,982.3 759.7,983.2 762.4,984.1 765,984.9 767.7,985.7 770.3,986.5 773,987.3 775.7,988 777,988.3" fill="none" stroke="#1e9bce" stroke-width="3.0" stroke-linejoin="round"/>
<path d="M112.8,789.6L114.9,793.4L119.2,793.3L116.9,797L119.2,800.7L114.9,800.6L112.8,804.4L110.8,800.6L106.4,800.7L108.7,797L106.4,793.3L110.8,793.4Z" fill="#1e9bce"/>
<path d="M152.8,806.9L154.8,810.7L159.2,810.6L156.9,814.3L159.2,818L154.8,817.9L152.8,821.7L150.7,817.9L146.4,818L148.7,814.3L146.4,810.6L150.7,810.7Z" fill="#1e9bce"/>
<path d="M192.7,819L194.7,822.8L199.1,822.7L196.8,826.4L199.1,830.1L194.7,830L192.7,833.8L190.6,830L186.3,830.1L188.6,826.4L186.3,822.7L190.6,822.8Z" fill="#1e9bce"/>
<path d="M232.6,830.1L234.7,833.9L239,833.8L236.7,837.5L239,841.2L234.7,841.1L232.6,844.9L230.6,841.1L226.2,841.2L228.5,837.5L226.2,833.8L230.6,833.9Z" fill="#1e9bce"/>
<path d="M272.6,839.6L274.6,843.4L279,843.3L276.7,847L279,850.7L274.6,850.6L272.6,854.4L270.5,850.6L266.1,850.7L268.5,847L266.1,843.3L270.5,843.4Z" fill="#1e9bce"/>
<path d="M312.5,849.4L314.5,853.2L318.9,853.1L316.6,856.8L318.9,860.5L314.5,860.4L312.5,864.2L310.4,860.4L306.1,860.5L308.4,856.8L306.1,853.1L310.4,853.2Z" fill="#1e9bce"/>
<path d="M352.4,861L354.5,864.8L358.8,864.7L356.5,868.4L358.8,872.1L354.5,872L352.4,875.8L350.4,872L346,872.1L348.3,868.4L346,864.7L350.4,864.8Z" fill="#1e9bce"/>
<path d="M392.3,874.7L394.4,878.5L398.7,878.4L396.4,882.1L398.7,885.8L394.4,885.7L392.3,889.5L390.3,885.7L385.9,885.8L388.2,882.1L385.9,878.4L390.3,878.5Z" fill="#1e9bce"/>
<path d="M432.3,883.6L434.3,887.4L438.7,887.3L436.4,891L438.7,894.7L434.3,894.6L432.3,898.4L430.2,894.6L425.9,894.7L428.2,891L425.9,887.3L430.2,887.4Z" fill="#1e9bce"/>
<path d="M472.2,895.7L474.3,899.5L478.6,899.4L476.3,903.1L478.6,906.8L474.3,906.7L472.2,910.5L470.2,906.7L465.8,906.8L468.1,903.1L465.8,899.4L470.2,899.5Z" fill="#1e9bce"/>
<path d="M512.1,905.7L514.2,909.5L518.5,909.4L516.2,913.1L518.5,916.8L514.2,916.7L512.1,920.5L510.1,916.7L505.7,916.8L508,913.1L505.7,909.4L510.1,909.5Z" fill="#1e9bce"/>
<path d="M552.1,916.6L554.1,920.4L558.5,920.3L556.2,924L558.5,927.7L554.1,927.6L552.1,931.4L550,927.6L545.7,927.7L548,924L545.7,920.3L550,920.4Z" fill="#1e9bce"/>
<path d="M592,928.1L594,931.9L598.4,931.8L596.1,935.5L598.4,939.2L594,939.1L592,942.9L589.9,939.1L585.6,939.2L587.9,935.5L585.6,931.8L589.9,931.9Z" fill="#1e9bce"/>
<path d="M631.9,939.3L634,943.1L638.3,943L636,946.7L638.3,950.4L634,950.3L631.9,954.1L629.9,950.3L625.5,950.4L627.8,946.7L625.5,943L629.9,943.1Z" fill="#1e9bce"/>
<path d="M671.9,949.6L673.9,953.4L678.3,953.3L676,957L678.3,960.7L673.9,960.6L671.9,964.4L669.8,960.6L665.4,960.7L667.8,957L665.4,953.3L669.8,953.4Z" fill="#1e9bce"/>
<path d="M711.8,960.8L713.8,964.6L718.2,964.5L715.9,968.2L718.2,971.9L713.8,971.8L711.8,975.6L709.7,971.8L705.4,971.9L707.7,968.2L705.4,964.5L709.7,964.6Z" fill="#1e9bce"/>
<path d="M751.7,973.1L753.8,976.9L758.1,976.8L755.8,980.5L758.1,984.2L753.8,984.1L751.7,987.9L749.7,984.1L745.3,984.2L747.6,980.5L745.3,976.8L749.7,976.9Z" fill="#1e9bce"/>
<polyline points="112.8,797 115.5,797.2 118.2,797.4 120.8,797.6 123.5,797.9 126.1,798.1 128.8,798.3 131.5,798.5 134.1,798.7 136.8,798.9 139.5,799.1 142.1,799.3 144.8,799.5 147.4,799.6 150.1,799.8 152.8,800 155.4,800.2 158.1,800.3 160.7,800.5 163.4,800.7 166.1,800.8 168.7,801 171.4,801.2 174.1,801.3 176.7,801.5 179.4,801.6 182,801.8 184.7,801.9 187.4,802.1 190,802.2 192.7,802.4 195.4,802.6 198,802.7 200.7,802.9 203.3,803.1 206,803.3 208.7,803.4 211.3,803.6 214,803.8 216.6,804 219.3,804.1 222,804.3 224.6,804.4 227.3,804.6 230,804.7 232.6,804.8 235.3,804.9 237.9,805 240.6,805.1 243.3,805.2 245.9,805.3 248.6,805.3 251.3,805.4 253.9,805.5 256.6,805.6 259.2,805.6 261.9,805.7 264.6,805.8 267.2,805.8 269.9,805.9 272.6,806 275.2,806.1 277.9,806.2 280.5,806.3 283.2,806.4 285.9,806.5 288.5,806.6 291.2,806.7 293.8,806.7 296.5,806.8 299.2,806.9 301.8,807 304.5,807.1 307.2,807.1 309.8,807.2 312.5,807.2 315.1,807.2 317.8,807.2 320.5,807.3 323.1,807.3 325.8,807.3 328.5,807.3 331.1,807.4 333.8,807.4 336.4,807.4 339.1,807.4 341.8,807.4 344.4,807.4 347.1,807.5 349.7,807.5 352.4,807.5 355.1,807.5 357.7,807.5 360.4,807.5 363.1,807.5 365.7,807.5 368.4,807.6 371,807.6 373.7,807.6 376.4,807.6 379,807.6 381.7,807.6 384.4,807.6 387,807.6 389.7,807.6 392.3,807.6 395,807.7 397.7,807.7 400.3,807.7 403,807.7 405.7,807.7 408.3,807.7 411,807.7 413.6,807.7 416.3,807.7 419,807.7 421.6,807.8 424.3,807.8 426.9,807.8 429.6,807.8 432.3,807.8 434.9,807.8 437.6,807.8 440.3,807.8 442.9,807.9 445.6,807.9 448.2,807.9 450.9,807.9 453.6,807.9 456.2,807.9 458.9,807.9 461.6,808 464.2,808 466.9,808 469.5,808 472.2,808 474.9,808 477.5,808.1 480.2,808.1 482.8,808.1 485.5,808.1 488.2,808.1 490.8,808.1 493.5,808.2 496.2,808.2 498.8,808.2 501.5,808.2 504.1,808.2 506.8,808.3 509.5,808.3 512.1,808.3 514.8,808.3 517.5,808.3 520.1,808.3 522.8,808.4 525.4,808.4 528.1,808.4 530.8,808.4 533.4,808.4 536.1,808.4 538.8,808.5 541.4,808.5 544.1,808.5 546.7,808.5 549.4,808.5 552.1,808.5 554.7,808.6 557.4,808.6 560,808.6 562.7,808.6 565.4,808.6 568,808.6 570.7,808.7 573.4,808.7 576,808.7 578.7,808.7 581.3,808.7 584,808.7 586.7,808.8 589.3,808.8 592,808.8 594.7,808.8 597.3,808.8 600,808.8 602.6,808.8 605.3,808.8 608,808.9 610.6,808.9 613.3,808.9 615.9,808.9 618.6,808.9 621.3,808.9 623.9,808.9 626.6,808.9 629.3,808.9 631.9,808.9 634.6,808.9 637.2,809 639.9,809 642.6,809 645.2,809 647.9,809 650.6,809 653.2,809 655.9,809 658.5,809 661.2,809 663.9,809 666.5,809 669.2,809 671.9,809 674.5,809 677.2,809 679.8,809 682.5,809 685.2,809 687.8,809 690.5,809 693.1,809 695.8,809 698.5,809 701.1,809 703.8,809 706.5,809 709.1,809 711.8,809 714.4,809 717.1,809 719.8,809 722.4,809 725.1,809 727.8,809 730.4,809 733.1,809 735.7,809 738.4,809 741.1,809 743.7,809 746.4,809 749,809 751.7,809 754.4,809 757,809 759.7,809 762.4,809 765,809 767.7,809 770.3,809 773,809 775.7,809 777,809" fill="none" stroke="#0000ff" stroke-width="3.0" stroke-linejoin="round"/>
<path d="M112.8,789.6L114.9,793.4L119.2,793.3L116.9,797L119.2,800.7L114.9,800.6L112.8,804.4L110.8,800.6L106.4,800.7L108.7,797L106.4,793.3L110.8,793.4Z" fill="#0000ff"/>
<path d="M152.8,792.6L154.8,796.4L159.2,796.3L156.9,800L159.2,803.7L154.8,803.6L152.8,807.4L150.7,803.6L146.4,803.7L148.7,800L146.4,796.3L150.7,796.4Z" fill="#0000ff"/>
<path d="M192.7,795L194.7,798.8L199.1,798.7L196.8,802.4L199.1,806.1L194.7,806L192.7,809.8L190.6,806L186.3,806.1L188.6,802.4L186.3,798.7L190.6,798.8Z" fill="#0000ff"/>
<path d="M232.6,797.4L234.7,801.2L239,801.1L236.7,804.8L239,808.5L234.7,808.4L232.6,812.2L230.6,808.4L226.2,808.5L228.5,804.8L226.2,801.1L230.6,801.2Z" fill="#0000ff"/>
<path d="M272.6,798.6L274.6,802.4L279,802.3L276.7,806L279,809.7L274.6,809.6L272.6,813.4L270.5,809.6L266.1,809.7L268.5,806L266.1,802.3L270.5,802.4Z" fill="#0000ff"/>
<path d="M312.5,799.8L314.5,803.6L318.9,803.5L316.6,807.2L318.9,810.9L314.5,810.8L312.5,814.6L310.4,810.8L306.1,810.9L308.4,807.2L306.1,803.5L310.4,803.6Z" fill="#0000ff"/>
<path d="M352.4,800.1L354.5,803.9L358.8,803.8L356.5,807.5L358.8,811.2L354.5,811L352.4,814.9L350.4,811L346,811.2L348.3,807.5L346,803.8L350.4,803.9Z" fill="#0000ff"/>
<path d="M392.3,800.2L394.4,804.1L398.7,803.9L396.4,807.6L398.7,811.3L394.4,811.2L392.3,815L390.3,811.2L385.9,811.3L388.2,807.6L385.9,803.9L390.3,804.1Z" fill="#0000ff"/>
<path d="M432.3,800.4L434.3,804.2L438.7,804.1L436.4,807.8L438.7,811.5L434.3,811.4L432.3,815.2L430.2,811.4L425.9,811.5L428.2,807.8L425.9,804.1L430.2,804.2Z" fill="#0000ff"/>
<path d="M472.2,800.6L474.3,804.5L478.6,804.3L476.3,808L478.6,811.7L474.3,811.6L472.2,815.4L470.2,811.6L465.8,811.7L468.1,808L465.8,804.3L470.2,804.5Z" fill="#0000ff"/>
<path d="M512.1,800.9L514.2,804.7L518.5,804.6L516.2,808.3L518.5,812L514.2,811.8L512.1,815.7L510.1,811.8L505.7,812L508,808.3L505.7,804.6L510.1,804.7Z" fill="#0000ff"/>
<path d="M552.1,801.1L554.1,805L558.5,804.8L556.2,808.5L558.5,812.2L554.1,812.1L552.1,815.9L550,812.1L545.7,812.2L548,808.5L545.7,804.8L550,805Z" fill="#0000ff"/>
<path d="M592,801.4L594,805.2L598.4,805.1L596.1,808.8L598.4,812.5L594,812.3L592,816.2L589.9,812.3L585.6,812.5L587.9,808.8L585.6,805.1L589.9,805.2Z" fill="#0000ff"/>
<path d="M631.9,801.5L634,805.4L638.3,805.2L636,808.9L638.3,812.6L634,812.5L631.9,816.3L629.9,812.5L625.5,812.6L627.8,808.9L625.5,805.2L629.9,805.4Z" fill="#0000ff"/>
<path d="M671.9,801.6L673.9,805.4L678.3,805.3L676,809L678.3,812.7L673.9,812.6L671.9,816.4L669.8,812.6L665.4,812.7L667.8,809L665.4,805.3L669.8,805.4Z" fill="#0000ff"/>
<path d="M711.8,801.6L713.8,805.4L718.2,805.3L715.9,809L718.2,812.7L713.8,812.6L711.8,816.4L709.7,812.6L705.4,812.7L707.7,809L705.4,805.3L709.7,805.4Z" fill="#0000ff"/>
<path d="M751.7,801.6L753.8,805.4L758.1,805.3L755.8,809L758.1,812.7L753.8,812.6L751.7,816.4L749.7,812.6L745.3,812.7L747.6,809L745.3,805.3L749.7,805.4Z" fill="#0000ff"/>
<polyline points="112.8,796.9 113.9,819.5 115.5,823.1 116.5,824.7 118.2,829.4 120.8,837.9 121.7,840.3 123.5,843.9 126.1,848.9 126.9,850.7 128.8,857.3 131.5,867.9 132.1,869.8 134.1,874.5 136.8,879.4 137.3,880.2 139.5,883 142.1,886.4 142.5,887.1 144.8,893.5 146.8,899.3 147.4,900.5 150.1,904.6 152,908 152.8,910.1 155.4,919 155.5,919.2 158.1,924.4 160.7,928.8 160.7,928.9 163.4,932.8 166.1,936.9 166.8,938.3 168.7,943.2 171.1,949.6 171.4,950.3 174.1,956.2 176.7,961 177.2,961.7 179.4,964 182,966.2 184.1,968.7 184.7,969.9 187.4,978.4 187.6,979.1 190,986.5 191.9,992.1 192.7,994.5 195.4,1002.5 196.3,1005.1 198,1009.4 200.7,1015.6 202.3,1019 203.3,1020.9 206,1025.2 208.7,1029.8 209.3,1031.1 211.3,1036.5 214,1045.1 214.5,1046.7 216.6,1054.4 218.8,1060.6 219.3,1061.4 222,1064.2 223.2,1065.8 224.6,1069 227.3,1077 228.4,1079.7 230,1082.5 232,1085.9 232.6,1087.1 235.3,1093 236.3,1096 237.9,1104 238.4,1105.6 240.6,1109.2 242.7,1112 243.3,1113.1 245.9,1118.4 245.9,1118.4 248.6,1121.4 250.2,1123.8 251.3,1127.9 252.3,1133.4 253.4,1139.2 253.9,1140 256.6,1142.2 257.1,1143 258.7,1149.4 259.2,1150.6 261.9,1154.6 262.4,1155.8 264,1163.3 264.6,1165.3 266.7,1171.8 267.2,1173.3 269.4,1179.3 269.9,1180.8 272,1187.3 272.6,1188.8 275.2,1195.2 276.8,1198.5 277.9,1200.4 280.5,1204.5 282.2,1207 283.2,1208.5 285.9,1212.3 287,1214.5 288.5,1219.4 289.7,1223 291.2,1225.4 293.8,1229.3 293.9,1229.4 296.1,1236.9 296.5,1237.9 299.2,1242.9 299.3,1243.3 301.4,1252.9 301.8,1254.2 304.5,1260.3 304.6,1260.4 307.2,1262.4 309.8,1264.6 309.9,1264.7 312.1,1271.6 312.5,1272.7 315.1,1280 316.3,1282.8 317.8,1285.8 320.5,1290.5 321.7,1293.5 323.1,1300 323.8,1302 325.8,1303.3 327,1304.1 328.5,1306.3 331.1,1313.7 332.3,1318" fill="none" stroke="#ff0000" stroke-width="3.0" stroke-linejoin="round"/>
<path d="M112.8,789.5L114.9,793.3L119.2,793.2L116.9,796.9L119.2,800.6L114.9,800.5L112.8,804.3L110.8,800.5L106.4,800.6L108.7,796.9L106.4,793.2L110.8,793.3Z" fill="#ff0000"/>
<path d="M152.8,902.7L154.8,906.5L159.2,906.4L156.9,910.1L159.2,913.8L154.8,913.6L152.8,917.5L150.7,913.6L146.4,913.8L148.7,910.1L146.4,906.4L150.7,906.5Z" fill="#ff0000"/>
<path d="M192.7,987.1L194.7,990.9L199.1,990.8L196.8,994.5L199.1,998.2L194.7,998L192.7,1001.9L190.6,998L186.3,998.2L188.6,994.5L186.3,990.8L190.6,990.9Z" fill="#ff0000"/>
<path d="M232.6,1079.7L234.7,1083.6L239,1083.4L236.7,1087.1L239,1090.8L234.7,1090.7L232.6,1094.5L230.6,1090.7L226.2,1090.8L228.5,1087.1L226.2,1083.4L230.6,1083.6Z" fill="#ff0000"/>
<path d="M272.6,1181.4L274.6,1185.2L279,1185.1L276.7,1188.8L279,1192.5L274.6,1192.3L272.6,1196.2L270.5,1192.3L266.1,1192.5L268.5,1188.8L266.1,1185.1L270.5,1185.2Z" fill="#ff0000"/>
<path d="M312.5,1265.3L314.5,1269.2L318.9,1269L316.6,1272.7L318.9,1276.4L314.5,1276.3L312.5,1280.1L310.4,1276.3L306.1,1276.4L308.4,1272.7L306.1,1269L310.4,1269.2Z" fill="#ff0000"/>
<text x="444" y="789.3" font-family="'Liberation Serif', 'Times New Roman', serif" font-size="27" text-anchor="middle" fill="#000">Objective Space</text>
<text x="443.5" y="1385.8" font-family="'Liberation Serif', 'Times New Roman', serif" font-size="26.8" text-anchor="middle" fill="#000">Iteration</text>
<text transform="translate(31,1058.5) rotate(-90)" font-family="'Liberation Serif', 'Times New Roman', serif" font-size="27" text-anchor="middle" fill="#000">Best finess obtianed so far</text>
<rect x="482.9" y="1170.3" width="277.8" height="134.8" fill="#fff" stroke="#262626" stroke-width="3"/>
<path d="M488.9,1185.4h61.5" stroke="#000000" stroke-width="3.2"/>

<text x="554.7" y="1192.9" font-family="'Liberation Serif', 'Times New Roman', serif" font-size="21.5" fill="#000">GWO</text>
<path d="M488.9,1211.5h61.5" stroke="#00ff00" stroke-width="3.2"/>
<path d="M516.1,1207.9L523.3,1215.1M516.1,1215.1L523.3,1207.9" stroke="#00ff00" stroke-width="2.6" fill="none"/>
<text x="554.7" y="1219" font-family="'Liberation Serif', 'Times New Roman', serif" font-size="21.5" fill="#000">SCA</text>
<path d="M488.9,1237.6h61.5" stroke="#ffff00" stroke-width="3.2"/>
<path d="M519.7,1230.1L524.5,1237.6L519.7,1245.1L514.9,1237.6Z" fill="#ffff00" stroke="#ffff00" stroke-width="1"/>
<text x="554.7" y="1245.1" font-family="'Liberation Serif', 'Times New Roman', serif" font-size="21.5" fill="#000">SSA</text>
<path d="M488.9,1263.7h61.5" stroke="#ff00ff" stroke-width="3.2"/>
<circle cx="519.7" cy="1263.7" r="4.6" fill="#ff00ff"/>
<text x="554.7" y="1271.2" font-family="'Liberation Serif', 'Times New Roman', serif" font-size="21.5" fill="#000">WCA</text>
<path d="M488.9,1289.8h61.5" stroke="#00ffff" stroke-width="3.2"/>
<path d="M519.7,1282.8L526.7,1294.8L512.7,1294.8Z" fill="#00ffff"/>
<text x="554.7" y="1297.3" font-family="'Liberation Serif', 'Times New Roman', serif" font-size="21.5" fill="#000">WOA</text>
<path d="M619.9,1185.4h61.5" stroke="#33e35a" stroke-width="3.2"/>
<circle cx="650.7" cy="1185.4" r="4.2" fill="#33e35a"/>
<text x="685.7" y="1192.9" font-family="'Liberation Serif', 'Times New Roman', serif" font-size="21.5" fill="#000">MPA</text>
<path d="M619.9,1211.5h61.5" stroke="#a946e3" stroke-width="3.2"/>
<path d="M650.7,1203L652.9,1209.2L659.5,1209.4L654.3,1213.5L656.2,1219.8L650.7,1216.1L645.2,1219.8L647.1,1213.5L641.9,1209.4L648.5,1209.2Z" fill="#a946e3"/>
<text x="685.7" y="1219" font-family="'Liberation Serif', 'Times New Roman', serif" font-size="21.5" fill="#000">LSA</text>
<path d="M619.9,1237.6h61.5" stroke="#1e9bce" stroke-width="3.2"/>
<path d="M650.7,1230.2L652.7,1234L657.1,1233.9L654.8,1237.6L657.1,1241.3L652.7,1241.2L650.7,1245L648.6,1241.2L644.3,1241.3L646.6,1237.6L644.3,1233.9L648.6,1234Z" fill="#1e9bce"/>
<text x="685.7" y="1245.1" font-family="'Liberation Serif', 'Times New Roman', serif" font-size="21.5" fill="#000">HGSO</text>
<path d="M619.9,1263.7h61.5" stroke="#0000ff" stroke-width="3.2"/>
<path d="M650.7,1256.3L652.7,1260.1L657.1,1260L654.8,1263.7L657.1,1267.4L652.7,1267.3L650.7,1271.1L648.6,1267.3L644.3,1267.4L646.6,1263.7L644.3,1260L648.6,1260.1Z" fill="#0000ff"/>
<text x="685.7" y="1271.2" font-family="'Liberation Serif', 'Times New Roman', serif" font-size="21.5" fill="#000">TSA</text>
<path d="M619.9,1289.8h61.5" stroke="#ff0000" stroke-width="3.2"/>
<path d="M650.7,1282.4L652.7,1286.2L657.1,1286.1L654.8,1289.8L657.1,1293.5L652.7,1293.4L650.7,1297.2L648.6,1293.4L644.3,1293.5L646.6,1289.8L644.3,1286.1L648.6,1286.2Z" fill="#ff0000"/>
<text x="685.7" y="1297.3" font-family="'Liberation Serif', 'Times New Roman', serif" font-size="21.5" fill="#000">TLTSA</text>
<path d="M1048.4,1321.7v-7M1048.4,796.8v7" stroke="#262626" stroke-width="1.1"/>
<path d="M1115,1321.7v-7M1115,796.8v7" stroke="#262626" stroke-width="1.1"/>
<path d="M1181.5,1321.7v-7M1181.5,796.8v7" stroke="#262626" stroke-width="1.1"/>
<path d="M1248.1,1321.7v-7M1248.1,796.8v7" stroke="#262626" stroke-width="1.1"/>
<path d="M1314.6,1321.7v-7M1314.6,796.8v7" stroke="#262626" stroke-width="1.1"/>
<path d="M1381.2,1321.7v-7M1381.2,796.8v7" stroke="#262626" stroke-width="1.1"/>
<path d="M1447.7,1321.7v-7M1447.7,796.8v7" stroke="#262626" stroke-width="1.1"/>
<path d="M1514.2,1321.7v-7M1514.2,796.8v7" stroke="#262626" stroke-width="1.1"/>
<path d="M1580.8,1321.7v-7M1580.8,796.8v7" stroke="#262626" stroke-width="1.1"/>
<path d="M1647.3,1321.7v-7M1647.3,796.8v7" stroke="#262626" stroke-width="1.1"/>
<path d="M1015,1298.4h7M1680,1298.4h-7" stroke="#262626" stroke-width="1.1"/>
<text x="1005.3" y="1305.8" font-family="'Liberation Sans', Arial, Helvetica, sans-serif" font-size="19.6" text-anchor="end" fill="#262626">0</text>
<path d="M1015,1216.6h7M1680,1216.6h-7" stroke="#262626" stroke-width="1.1"/>
<text x="1005.3" y="1224" font-family="'Liberation Sans', Arial, Helvetica, sans-serif" font-size="19.6" text-anchor="end" fill="#262626">200</text>
<path d="M1015,1134.8h7M1680,1134.8h-7" stroke="#262626" stroke-width="1.1"/>
<text x="1005.3" y="1142.2" font-family="'Liberation Sans', Arial, Helvetica, sans-serif" font-size="19.6" text-anchor="end" fill="#262626">400</text>
<path d="M1015,1053h7M1680,1053h-7" stroke="#262626" stroke-width="1.1"/>
<text x="1005.3" y="1060.4" font-family="'Liberation Sans', Arial, Helvetica, sans-serif" font-size="19.6" text-anchor="end" fill="#262626">600</text>
<path d="M1015,971.2h7M1680,971.2h-7" stroke="#262626" stroke-width="1.1"/>
<text x="1005.3" y="978.6" font-family="'Liberation Sans', Arial, Helvetica, sans-serif" font-size="19.6" text-anchor="end" fill="#262626">800</text>
<path d="M1015,889.4h7M1680,889.4h-7" stroke="#262626" stroke-width="1.1"/>
<text x="1005.3" y="896.8" font-family="'Liberation Sans', Arial, Helvetica, sans-serif" font-size="19.6" text-anchor="end" fill="#262626">1000</text>
<path d="M1015,807.6h7M1680,807.6h-7" stroke="#262626" stroke-width="1.1"/>
<text x="1005.3" y="815" font-family="'Liberation Sans', Arial, Helvetica, sans-serif" font-size="19.6" text-anchor="end" fill="#262626">1200</text>
<text x="1048.4" y="1350.1" font-family="'Liberation Sans', Arial, Helvetica, sans-serif" font-size="19.5" text-anchor="middle" fill="#262626">GWO</text>
<text x="1115" y="1350.1" font-family="'Liberation Sans', Arial, Helvetica, sans-serif" font-size="19.5" text-anchor="middle" fill="#262626">SCA</text>
<text x="1181.5" y="1350.1" font-family="'Liberation Sans', Arial, Helvetica, sans-serif" font-size="19.5" text-anchor="middle" fill="#262626">SSA</text>
<text x="1248.1" y="1350.1" font-family="'Liberation Sans', Arial, Helvetica, sans-serif" font-size="19.5" text-anchor="middle" fill="#262626">WCA</text>
<text x="1314.6" y="1350.1" font-family="'Liberation Sans', Arial, Helvetica, sans-serif" font-size="19.5" text-anchor="middle" fill="#262626">WOA</text>
<text x="1381.2" y="1350.1" font-family="'Liberation Sans', Arial, Helvetica, sans-serif" font-size="19.5" text-anchor="middle" fill="#262626">MPA</text>
<text x="1447.7" y="1350.1" font-family="'Liberation Sans', Arial, Helvetica, sans-serif" font-size="19.5" text-anchor="middle" fill="#262626">LSA</text>
<text x="1514.2" y="1350.1" font-family="'Liberation Sans', Arial, Helvetica, sans-serif" font-size="19.5" text-anchor="middle" fill="#262626">HGSO</text>
<text x="1580.8" y="1350.1" font-family="'Liberation Sans', Arial, Helvetica, sans-serif" font-size="19.5" text-anchor="middle" fill="#262626">TSA</text>
<text x="1647.3" y="1350.1" font-family="'Liberation Sans', Arial, Helvetica, sans-serif" font-size="19.5" text-anchor="middle" fill="#262626">TLTSA</text>
<text transform="translate(951,1060) rotate(-90)" font-family="'Liberation Sans', Arial, Helvetica, sans-serif" font-size="22.5" text-anchor="middle" fill="#262626">Best fitness obtained so far</text>
<path d="M1032,1298.4h32.9" stroke="#0000ff" stroke-width="1.8"/>
<path d="M1032,1298.4h32.9" stroke="#ff0000" stroke-width="1.8" stroke-opacity="0.72"/>
<path d="M1115,1165.9V1081" stroke="#333" stroke-width="1.5" stroke-dasharray="6.5,4.5"/>
<path d="M1106.7,1081.5h16.6" stroke="#000" stroke-width="1.2"/>
<path d="M1115,1258.5V1296.8" stroke="#333" stroke-width="1.5" stroke-dasharray="6.5,4.5"/>
<path d="M1106.7,1296.5h16.6" stroke="#000" stroke-width="1.2"/>
<rect x="1098.5" y="1165.9" width="32.9" height="92.6" fill="none" stroke="#0000ff" stroke-width="1.3"/>
<path d="M1099.1,1229h31.7" stroke="#ff0000" stroke-width="1.3"/>
<path d="M1181.5,1292.7V1288.5" stroke="#333" stroke-width="1.5" stroke-dasharray="6.5,4.5"/>
<path d="M1173.2,1288.5h16.6" stroke="#000" stroke-width="1.2"/>
<path d="M1181.5,1295.8V1296.5" stroke="#333" stroke-width="1.5" stroke-dasharray="6.5,4.5"/>
<path d="M1173.2,1296.5h16.6" stroke="#000" stroke-width="1.2"/>
<rect x="1165" y="1292.7" width="32.9" height="3.1" fill="none" stroke="#0000ff" stroke-width="1.3"/>
<path d="M1165.6,1294.5h31.7" stroke="#ff0000" stroke-width="1.3"/>
<path d="M1231.6,1298.4h32.9" stroke="#0000ff" stroke-width="1.8"/>
<path d="M1231.6,1298.4h32.9" stroke="#ff0000" stroke-width="1.8" stroke-opacity="0.72"/>
<path d="M1298.2,1298.4h32.9" stroke="#0000ff" stroke-width="1.8"/>
<path d="M1298.2,1298.4h32.9" stroke="#ff0000" stroke-width="1.8" stroke-opacity="0.72"/>
<path d="M1364.7,1298.4h32.9" stroke="#0000ff" stroke-width="1.8"/>
<path d="M1364.7,1298.4h32.9" stroke="#ff0000" stroke-width="1.8" stroke-opacity="0.72"/>
<path d="M1431.2,1298.4h32.9" stroke="#0000ff" stroke-width="1.8"/>
<path d="M1431.2,1298.4h32.9" stroke="#ff0000" stroke-width="1.8" stroke-opacity="0.72"/>
<path d="M1497.8,1298.4h32.9" stroke="#0000ff" stroke-width="1.8"/>
<path d="M1497.8,1298.4h32.9" stroke="#ff0000" stroke-width="1.8" stroke-opacity="0.72"/>
<path d="M1564.4,1298.4h32.9" stroke="#0000ff" stroke-width="1.8"/>
<path d="M1564.4,1298.4h32.9" stroke="#ff0000" stroke-width="1.8" stroke-opacity="0.72"/>
<path d="M1630.9,1298.4h32.9" stroke="#0000ff" stroke-width="1.8"/>
<path d="M1630.9,1298.4h32.9" stroke="#ff0000" stroke-width="1.8" stroke-opacity="0.72"/>
<path d="M1109,821h12M1115,815v12" stroke="#ff0000" stroke-width="1.3"/>
<path d="M1042.4,1298.4h12M1048.4,1292.4v12" stroke="#ff0000" stroke-width="1.3"/>
<path d="M1242.1,1298.4h12M1248.1,1292.4v12" stroke="#ff0000" stroke-width="1.3"/>
<path d="M1308.6,1298.4h12M1314.6,1292.4v12" stroke="#ff0000" stroke-width="1.3"/>
<path d="M1375.2,1298.4h12M1381.2,1292.4v12" stroke="#ff0000" stroke-width="1.3"/>
<path d="M1441.7,1298.4h12M1447.7,1292.4v12" stroke="#ff0000" stroke-width="1.3"/>
<path d="M1508.2,1298.4h12M1514.2,1292.4v12" stroke="#ff0000" stroke-width="1.3"/>
<path d="M1574.8,1298.4h12M1580.8,1292.4v12" stroke="#ff0000" stroke-width="1.3"/>
<rect x="1015.3" y="796.8" width="665" height="524.9" fill="none" stroke="#505050" stroke-width="1.4"/>
<text x="881" y="1435" font-family="'Liberation Serif', 'Times New Roman', serif" font-size="43.5" font-weight="bold" text-anchor="middle" fill="#000" textLength="64.5" lengthAdjust="spacingAndGlyphs">F13</text>
<path d="M111.5,1491.5V2016.5H778.5" fill="none" stroke="#262626" stroke-width="3"/>
<path d="M111.5,2016.5v-7" stroke="#262626" stroke-width="2.6"/>
<text x="111.5" y="2048" font-family="'Liberation Serif', 'Times New Roman', serif" font-size="24" text-anchor="middle" fill="#000">0</text>
<path d="M244.6,2016.5v-7" stroke="#262626" stroke-width="2.6"/>
<text x="244.6" y="2048" font-family="'Liberation Serif', 'Times New Roman', serif" font-size="24" text-anchor="middle" fill="#000">100</text>
<path d="M377.7,2016.5v-7" stroke="#262626" stroke-width="2.6"/>
<text x="377.7" y="2048" font-family="'Liberation Serif', 'Times New Roman', serif" font-size="24" text-anchor="middle" fill="#000">200</text>
<path d="M510.8,2016.5v-7" stroke="#262626" stroke-width="2.6"/>
<text x="510.8" y="2048" font-family="'Liberation Serif', 'Times New Roman', serif" font-size="24" text-anchor="middle" fill="#000">300</text>
<path d="M643.9,2016.5v-7" stroke="#262626" stroke-width="2.6"/>
<text x="643.9" y="2048" font-family="'Liberation Serif', 'Times New Roman', serif" font-size="24" text-anchor="middle" fill="#000">400</text>
<path d="M777,2016.5v-7" stroke="#262626" stroke-width="2.6"/>
<text x="777" y="2048" font-family="'Liberation Serif', 'Times New Roman', serif" font-size="24" text-anchor="middle" fill="#000">500</text>
<path d="M111.5,1509.5h7" stroke="#262626" stroke-width="2.6"/>
<text x="101" y="1521.5" font-family="'Liberation Serif', 'Times New Roman', serif" font-size="24" text-anchor="end" fill="#000">10<tspan dy="-11.5" font-size="18.5">0</tspan></text>
<path d="M111.5,1665.7h7" stroke="#262626" stroke-width="2.6"/>
<text x="101" y="1677.7" font-family="'Liberation Serif', 'Times New Roman', serif" font-size="24" text-anchor="end" fill="#000">10<tspan dy="-11.5" font-size="18.5">-100</tspan></text>
<path d="M111.5,1821.8h7" stroke="#262626" stroke-width="2.6"/>
<text x="101" y="1833.8" font-family="'Liberation Serif', 'Times New Roman', serif" font-size="24" text-anchor="end" fill="#000">10<tspan dy="-11.5" font-size="18.5">-200</tspan></text>
<path d="M111.5,1978h7" stroke="#262626" stroke-width="2.6"/>
<text x="101" y="1990" font-family="'Liberation Serif', 'Times New Roman', serif" font-size="24" text-anchor="end" fill="#000">10<tspan dy="-11.5" font-size="18.5">-300</tspan></text>
<path d="M111.5,1525.1h5" stroke="#262626" stroke-width="2.4"/>
<path d="M111.5,1540.7h5" stroke="#262626" stroke-width="2.4"/>
<path d="M111.5,1556.4h5" stroke="#262626" stroke-width="2.4"/>
<path d="M111.5,1572h5" stroke="#262626" stroke-width="2.4"/>
<path d="M111.5,1587.6h5" stroke="#262626" stroke-width="2.4"/>
<path d="M111.5,1603.2h5" stroke="#262626" stroke-width="2.4"/>
<path d="M111.5,1618.8h5" stroke="#262626" stroke-width="2.4"/>
<path d="M111.5,1634.4h5" stroke="#262626" stroke-width="2.4"/>
<path d="M111.5,1650.1h5" stroke="#262626" stroke-width="2.4"/>
<path d="M111.5,1681.3h5" stroke="#262626" stroke-width="2.4"/>
<path d="M111.5,1696.9h5" stroke="#262626" stroke-width="2.4"/>
<path d="M111.5,1712.5h5" stroke="#262626" stroke-width="2.4"/>
<path d="M111.5,1728.1h5" stroke="#262626" stroke-width="2.4"/>
<path d="M111.5,1743.8h5" stroke="#262626" stroke-width="2.4"/>
<path d="M111.5,1759.4h5" stroke="#262626" stroke-width="2.4"/>
<path d="M111.5,1775h5" stroke="#262626" stroke-width="2.4"/>
<path d="M111.5,1790.6h5" stroke="#262626" stroke-width="2.4"/>
<path d="M111.5,1806.2h5" stroke="#262626" stroke-width="2.4"/>
<path d="M111.5,1837.5h5" stroke="#262626" stroke-width="2.4"/>
<path d="M111.5,1853.1h5" stroke="#262626" stroke-width="2.4"/>
<path d="M111.5,1868.7h5" stroke="#262626" stroke-width="2.4"/>
<path d="M111.5,1884.3h5" stroke="#262626" stroke-width="2.4"/>
<path d="M111.5,1899.9h5" stroke="#262626" stroke-width="2.4"/>
<path d="M111.5,1915.5h5" stroke="#262626" stroke-width="2.4"/>
<path d="M111.5,1931.2h5" stroke="#262626" stroke-width="2.4"/>
<path d="M111.5,1946.8h5" stroke="#262626" stroke-width="2.4"/>
<path d="M111.5,1962.4h5" stroke="#262626" stroke-width="2.4"/>
<path d="M111.5,1993.6h5" stroke="#262626" stroke-width="2.4"/>
<path d="M111.5,2009.2h5" stroke="#262626" stroke-width="2.4"/>
<polyline points="112.8,1490.8 115.5,1498.5 118.2,1503 120.8,1503.4 123.5,1503.8 126.1,1504.2 128.8,1504.4 131.5,1504.7 134.1,1504.9 136.8,1505 139.5,1505.1 142.1,1505.2 144.8,1505.3 147.4,1505.4 150.1,1505.4 152.8,1505.5 155.4,1505.6 158.1,1505.6 160.7,1505.7 163.4,1505.7 166.1,1505.8 168.7,1505.8 171.4,1505.9 174.1,1505.9 176.7,1506 179.4,1506 182,1506 184.7,1506.1 187.4,1506.1 190,1506.2 192.7,1506.2 195.4,1506.2 198,1506.2 200.7,1506.3 203.3,1506.3 206,1506.3 208.7,1506.3 211.3,1506.4 214,1506.4 216.6,1506.4 219.3,1506.4 222,1506.5 224.6,1506.5 227.3,1506.5 230,1506.5 232.6,1506.5 235.3,1506.6 237.9,1506.6 240.6,1506.6 243.3,1506.6 245.9,1506.7 248.6,1506.7 251.3,1506.7 253.9,1506.8 256.6,1506.8 259.2,1506.8 261.9,1506.8 264.6,1506.9 267.2,1506.9 269.9,1507 272.6,1507 275.2,1507 277.9,1507.1 280.5,1507.1 283.2,1507.2 285.9,1507.2 288.5,1507.3 291.2,1507.3 293.8,1507.4 296.5,1507.4 299.2,1507.5 301.8,1507.5 304.5,1507.6 307.2,1507.6 309.8,1507.7 312.5,1507.7 315.1,1507.8 317.8,1507.9 320.5,1507.9 323.1,1508 325.8,1508 328.5,1508.1 331.1,1508.2 333.8,1508.2 336.4,1508.3 339.1,1508.3 341.8,1508.4 344.4,1508.5 347.1,1508.5 349.7,1508.6 352.4,1508.7 355.1,1508.7 357.7,1508.8 360.4,1508.9 363.1,1508.9 365.7,1509 368.4,1509 371,1509.1 373.7,1509.2 376.4,1509.2 379,1509.3 381.7,1509.4 384.4,1509.4 387,1509.5 389.7,1509.6 392.3,1509.6 395,1509.7 397.7,1509.7 400.3,1509.8 403,1509.9 405.7,1509.9 408.3,1510 411,1510 413.6,1510.1 416.3,1510.2 419,1510.2 421.6,1510.3 424.3,1510.3 426.9,1510.4 429.6,1510.4 432.3,1510.5 434.9,1510.6 437.6,1510.6 440.3,1510.7 442.9,1510.7 445.6,1510.8 448.2,1510.8 450.9,1510.9 453.6,1510.9 456.2,1511 458.9,1511.1 461.6,1511.1 464.2,1511.2 466.9,1511.2 469.5,1511.3 472.2,1511.3 474.9,1511.4 477.5,1511.5 480.2,1511.5 482.8,1511.6 485.5,1511.6 488.2,1511.7 490.8,1511.7 493.5,1511.8 496.2,1511.9 498.8,1511.9 501.5,1512 504.1,1512 506.8,1512.1 509.5,1512.1 512.1,1512.2 514.8,1512.3 517.5,1512.3 520.1,1512.4 522.8,1512.4 525.4,1512.5 528.1,1512.5 530.8,1512.6 533.4,1512.6 536.1,1512.7 538.8,1512.7 541.4,1512.8 544.1,1512.8 546.7,1512.9 549.4,1512.9 552.1,1513 554.7,1513 557.4,1513 560,1513.1 562.7,1513.1 565.4,1513.2 568,1513.2 570.7,1513.2 573.4,1513.3 576,1513.3 578.7,1513.3 581.3,1513.4 584,1513.4 586.7,1513.4 589.3,1513.5 592,1513.5 594.7,1513.5 597.3,1513.6 600,1513.6 602.6,1513.6 605.3,1513.6 608,1513.7 610.6,1513.7 613.3,1513.7 615.9,1513.7 618.6,1513.8 621.3,1513.8 623.9,1513.8 626.6,1513.9 629.3,1513.9 631.9,1513.9 634.6,1513.9 637.2,1514 639.9,1514 642.6,1514 645.2,1514 647.9,1514.1 650.6,1514.1 653.2,1514.1 655.9,1514.1 658.5,1514.2 661.2,1514.2 663.9,1514.2 666.5,1514.2 669.2,1514.2 671.9,1514.3 674.5,1514.3 677.2,1514.3 679.8,1514.3 682.5,1514.4 685.2,1514.4 687.8,1514.4 690.5,1514.4 693.1,1514.4 695.8,1514.5 698.5,1514.5 701.1,1514.5 703.8,1514.5 706.5,1514.5 709.1,1514.5 711.8,1514.6 714.4,1514.6 717.1,1514.6 719.8,1514.6 722.4,1514.6 725.1,1514.6 727.8,1514.7 730.4,1514.7 733.1,1514.7 735.7,1514.7 738.4,1514.7 741.1,1514.7 743.7,1514.7 746.4,1514.7 749,1514.7 751.7,1514.8 754.4,1514.8 757,1514.8 759.7,1514.8 762.4,1514.8 765,1514.8 767.7,1514.8 770.3,1514.8 773,1514.8 775.7,1514.8 777,1514.8" fill="none" stroke="#000000" stroke-width="3.0" stroke-linejoin="round"/>

















<polyline points="112.8,1490.8 115.5,1498.5 118.2,1503 120.8,1503.4 123.5,1503.7 126.1,1503.9 128.8,1504.2 131.5,1504.3 134.1,1504.5 136.8,1504.6 139.5,1504.7 142.1,1504.8 144.8,1504.8 147.4,1504.9 150.1,1504.9 152.8,1505 155.4,1505.1 158.1,1505.1 160.7,1505.2 163.4,1505.2 166.1,1505.3 168.7,1505.3 171.4,1505.4 174.1,1505.4 176.7,1505.5 179.4,1505.5 182,1505.5 184.7,1505.6 187.4,1505.6 190,1505.7 192.7,1505.7 195.4,1505.8 198,1505.8 200.7,1505.8 203.3,1505.9 206,1505.9 208.7,1505.9 211.3,1506 214,1506 216.6,1506 219.3,1506.1 222,1506.1 224.6,1506.1 227.3,1506.1 230,1506.2 232.6,1506.2 235.3,1506.2 237.9,1506.3 240.6,1506.3 243.3,1506.3 245.9,1506.3 248.6,1506.4 251.3,1506.4 253.9,1506.4 256.6,1506.4 259.2,1506.4 261.9,1506.5 264.6,1506.5 267.2,1506.5 269.9,1506.5 272.6,1506.5 275.2,1506.6 277.9,1506.6 280.5,1506.6 283.2,1506.6 285.9,1506.6 288.5,1506.7 291.2,1506.7 293.8,1506.7 296.5,1506.7 299.2,1506.7 301.8,1506.8 304.5,1506.8 307.2,1506.8 309.8,1506.8 312.5,1506.8 315.1,1506.8 317.8,1506.9 320.5,1506.9 323.1,1506.9 325.8,1506.9 328.5,1506.9 331.1,1507 333.8,1507 336.4,1507 339.1,1507 341.8,1507 344.4,1507.1 347.1,1507.1 349.7,1507.1 352.4,1507.1 355.1,1507.1 357.7,1507.2 360.4,1507.2 363.1,1507.2 365.7,1507.2 368.4,1507.3 371,1507.3 373.7,1507.3 376.4,1507.3 379,1507.4 381.7,1507.4 384.4,1507.4 387,1507.4 389.7,1507.5 392.3,1507.5 395,1507.5 397.7,1507.6 400.3,1507.6 403,1507.6 405.7,1507.7 408.3,1507.7 411,1507.7 413.6,1507.8 416.3,1507.8 419,1507.8 421.6,1507.9 424.3,1507.9 426.9,1508 429.6,1508 432.3,1508 434.9,1508.1 437.6,1508.1 440.3,1508.1 442.9,1508.2 445.6,1508.2 448.2,1508.3 450.9,1508.3 453.6,1508.3 456.2,1508.4 458.9,1508.4 461.6,1508.5 464.2,1508.5 466.9,1508.5 469.5,1508.6 472.2,1508.6 474.9,1508.7 477.5,1508.7 480.2,1508.7 482.8,1508.8 485.5,1508.8 488.2,1508.9 490.8,1508.9 493.5,1508.9 496.2,1509 498.8,1509 501.5,1509 504.1,1509.1 506.8,1509.1 509.5,1509.1 512.1,1509.2 514.8,1509.2 517.5,1509.2 520.1,1509.2 522.8,1509.3 525.4,1509.3 528.1,1509.3 530.8,1509.3 533.4,1509.4 536.1,1509.4 538.8,1509.4 541.4,1509.4 544.1,1509.5 546.7,1509.5 549.4,1509.5 552.1,1509.5 554.7,1509.5 557.4,1509.5 560,1509.5 562.7,1509.6 565.4,1509.6 568,1509.6 570.7,1509.6 573.4,1509.6 576,1509.6 578.7,1509.6 581.3,1509.6 584,1509.7 586.7,1509.7 589.3,1509.7 592,1509.7 594.7,1509.7 597.3,1509.7 600,1509.7 602.6,1509.7 605.3,1509.8 608,1509.8 610.6,1509.8 613.3,1509.8 615.9,1509.8 618.6,1509.8 621.3,1509.8 623.9,1509.8 626.6,1509.9 629.3,1509.9 631.9,1509.9 634.6,1509.9 637.2,1509.9 639.9,1509.9 642.6,1509.9 645.2,1509.9 647.9,1509.9 650.6,1509.9 653.2,1510 655.9,1510 658.5,1510 661.2,1510 663.9,1510 666.5,1510 669.2,1510 671.9,1510 674.5,1510 677.2,1510 679.8,1510 682.5,1510.1 685.2,1510.1 687.8,1510.1 690.5,1510.1 693.1,1510.1 695.8,1510.1 698.5,1510.1 701.1,1510.1 703.8,1510.1 706.5,1510.1 709.1,1510.1 711.8,1510.1 714.4,1510.1 717.1,1510.1 719.8,1510.1 722.4,1510.1 725.1,1510.2 727.8,1510.2 730.4,1510.2 733.1,1510.2 735.7,1510.2 738.4,1510.2 741.1,1510.2 743.7,1510.2 746.4,1510.2 749,1510.2 751.7,1510.2 754.4,1510.2 757,1510.2 759.7,1510.2 762.4,1510.2 765,1510.2 767.7,1510.2 770.3,1510.2 773,1510.2 775.7,1510.2 777,1510.2" fill="none" stroke="#00ff00" stroke-width="3.0" stroke-linejoin="round"/>
<path d="M109.2,1487.2L116.4,1494.4M109.2,1494.4L116.4,1487.2" stroke="#00ff00" stroke-width="2.6" fill="none"/>
<path d="M149.2,1501.4L156.4,1508.6M149.2,1508.6L156.4,1501.4" stroke="#00ff00" stroke-width="2.6" fill="none"/>
<path d="M189.1,1502.1L196.3,1509.3M189.1,1509.3L196.3,1502.1" stroke="#00ff00" stroke-width="2.6" fill="none"/>
<path d="M229,1502.6L236.2,1509.8M229,1509.8L236.2,1502.6" stroke="#00ff00" stroke-width="2.6" fill="none"/>
<path d="M269,1502.9L276.2,1510.1M269,1510.1L276.2,1502.9" stroke="#00ff00" stroke-width="2.6" fill="none"/>
<path d="M308.9,1503.2L316.1,1510.4M308.9,1510.4L316.1,1503.2" stroke="#00ff00" stroke-width="2.6" fill="none"/>
<path d="M348.8,1503.5L356,1510.7M348.8,1510.7L356,1503.5" stroke="#00ff00" stroke-width="2.6" fill="none"/>
<path d="M388.7,1503.9L395.9,1511.1M388.7,1511.1L395.9,1503.9" stroke="#00ff00" stroke-width="2.6" fill="none"/>
<path d="M428.7,1504.4L435.9,1511.6M428.7,1511.6L435.9,1504.4" stroke="#00ff00" stroke-width="2.6" fill="none"/>
<path d="M468.6,1505L475.8,1512.2M468.6,1512.2L475.8,1505" stroke="#00ff00" stroke-width="2.6" fill="none"/>
<path d="M508.5,1505.6L515.7,1512.8M508.5,1512.8L515.7,1505.6" stroke="#00ff00" stroke-width="2.6" fill="none"/>
<path d="M548.5,1505.9L555.7,1513.1M548.5,1513.1L555.7,1505.9" stroke="#00ff00" stroke-width="2.6" fill="none"/>
<path d="M588.4,1506.1L595.6,1513.3M588.4,1513.3L595.6,1506.1" stroke="#00ff00" stroke-width="2.6" fill="none"/>
<path d="M628.3,1506.3L635.5,1513.5M628.3,1513.5L635.5,1506.3" stroke="#00ff00" stroke-width="2.6" fill="none"/>
<path d="M668.3,1506.4L675.5,1513.6M668.3,1513.6L675.5,1506.4" stroke="#00ff00" stroke-width="2.6" fill="none"/>
<path d="M708.2,1506.5L715.4,1513.7M708.2,1513.7L715.4,1506.5" stroke="#00ff00" stroke-width="2.6" fill="none"/>
<path d="M748.1,1506.6L755.3,1513.8M748.1,1513.8L755.3,1506.6" stroke="#00ff00" stroke-width="2.6" fill="none"/>
<polyline points="112.8,1490.8 115.5,1498.1 118.2,1502 120.8,1502.9 123.5,1503.4 124.8,1503.5 126.1,1503.5 128.8,1503.5 131.5,1503.5 134.1,1503.5 136.8,1503.5 139.5,1503.5 142.1,1503.5 144.8,1503.5 147.4,1503.5 150.1,1503.5 152.8,1503.5 155.4,1503.5 158.1,1503.5 160.7,1503.5 163.4,1503.5 166.1,1503.6 168.7,1503.6 171.4,1503.6 174.1,1503.6 176.7,1503.6 179.4,1503.6 182,1503.6 184.7,1503.6 187.4,1503.6 190,1503.6 192.7,1503.6 195.4,1503.6 198,1503.6 200.7,1503.6 203.3,1503.6 206,1503.6 208.7,1503.6 211.3,1503.6 214,1503.6 216.6,1503.6 219.3,1503.6 222,1503.6 224.6,1503.6 227.3,1503.6 230,1503.6 232.6,1503.6 235.3,1503.6 237.9,1503.6 240.6,1503.6 243.3,1503.6 245.9,1503.6 248.6,1503.6 251.3,1503.6 253.9,1503.6 256.6,1503.6 259.2,1503.6 261.9,1503.7 264.6,1503.7 267.2,1503.7 269.9,1503.7 272.6,1503.7 275.2,1503.7 277.9,1503.7 280.5,1503.7 283.2,1503.7 285.9,1503.7 288.5,1503.7 291.2,1503.7 293.8,1503.7 296.5,1503.7 299.2,1503.7 301.8,1503.7 304.5,1503.7 307.2,1503.7 309.8,1503.7 312.5,1503.7 315.1,1503.7 317.8,1503.7 320.5,1503.7 323.1,1503.7 325.8,1503.7 328.5,1503.7 331.1,1503.7 333.8,1503.7 336.4,1503.7 339.1,1503.7 341.8,1503.7 344.4,1503.7 347.1,1503.7 349.7,1503.7 352.4,1503.7 355.1,1503.7 357.7,1503.7 360.4,1503.7 363.1,1503.7 365.7,1503.7 368.4,1503.7 371,1503.7 373.7,1503.7 376.4,1503.7 379,1503.7 381.7,1503.7 384.4,1503.7 387,1503.7 389.7,1503.7 392.3,1503.7 395,1503.7 397.7,1503.7 400.3,1503.7 403,1503.7 405.7,1503.7 408.3,1503.7 411,1503.7 413.6,1503.7 416.3,1503.7 419,1503.7 421.6,1503.7 424.3,1503.8 426.9,1503.8 429.6,1503.8 432.3,1503.8 434.9,1503.8 437.6,1503.8 440.3,1503.8 442.9,1503.8 445.6,1503.8 448.2,1503.8 450.9,1503.8 453.6,1503.8 456.2,1503.8 458.9,1503.8 461.6,1503.8 464.2,1503.8 466.9,1503.8 469.5,1503.8 472.2,1503.8 474.9,1503.8 477.5,1503.8 480.2,1503.8 482.8,1503.8 485.5,1503.8 488.2,1503.8 490.8,1503.8 493.5,1503.8 496.2,1503.8 498.8,1503.8 501.5,1503.8 504.1,1503.8 506.8,1503.8 509.5,1503.8 512.1,1503.8 514.8,1503.8 517.5,1503.8 520.1,1503.8 522.8,1503.8 525.4,1503.8 528.1,1503.8 530.8,1503.8 533.4,1503.8 536.1,1503.8 538.8,1503.8 541.4,1503.8 544.1,1503.8 546.7,1503.8 549.4,1503.8 552.1,1503.8 554.7,1503.8 557.4,1503.8 560,1503.8 562.7,1503.8 565.4,1503.8 568,1503.8 570.7,1503.8 573.4,1503.8 576,1503.8 578.7,1503.8 581.3,1503.8 584,1503.8 586.7,1503.8 589.3,1503.8 592,1503.8 594.7,1503.8 597.3,1503.8 600,1503.8 602.6,1503.8 605.3,1503.8 608,1503.8 610.6,1503.8 613.3,1503.8 615.9,1503.8 618.6,1503.8 621.3,1503.8 623.9,1503.8 626.6,1503.8 629.3,1503.8 631.9,1503.8 634.6,1503.8 637.2,1503.8 639.9,1503.8 642.6,1503.8 645.2,1503.8 647.9,1503.8 650.6,1503.8 653.2,1503.8 655.9,1503.8 658.5,1503.8 661.2,1503.8 663.9,1503.8 666.5,1503.8 669.2,1503.8 671.9,1503.8 674.5,1503.8 677.2,1503.8 679.8,1503.8 682.5,1503.8 685.2,1503.8 687.8,1503.8 690.5,1503.8 693.1,1503.8 695.8,1503.8 698.5,1503.8 701.1,1503.8 703.8,1503.8 706.5,1503.8 709.1,1503.8 711.8,1503.8 714.4,1503.8 717.1,1503.8 719.8,1503.8 722.4,1503.8 725.1,1503.8 727.8,1503.8 730.4,1503.8 733.1,1503.8 735.7,1503.8 738.4,1503.8 741.1,1503.8 743.7,1503.8 746.4,1503.8 749,1503.8 751.7,1503.8 754.4,1503.8 757,1503.8 759.7,1503.8 762.4,1503.8 765,1503.8 767.7,1503.8 770.3,1503.8 773,1503.8 775.7,1503.8 777,1503.8" fill="none" stroke="#ffff00" stroke-width="3.0" stroke-linejoin="round"/>
<path d="M112.8,1483.3L117.6,1490.8L112.8,1498.3L108,1490.8Z" fill="#ffff00" stroke="#ffff00" stroke-width="1"/>
<path d="M152.8,1496L157.6,1503.5L152.8,1511L148,1503.5Z" fill="#ffff00" stroke="#ffff00" stroke-width="1"/>
<path d="M192.7,1496.1L197.5,1503.6L192.7,1511.1L187.9,1503.6Z" fill="#ffff00" stroke="#ffff00" stroke-width="1"/>
<path d="M232.6,1496.1L237.4,1503.6L232.6,1511.1L227.8,1503.6Z" fill="#ffff00" stroke="#ffff00" stroke-width="1"/>
<path d="M272.6,1496.2L277.4,1503.7L272.6,1511.2L267.8,1503.7Z" fill="#ffff00" stroke="#ffff00" stroke-width="1"/>
<path d="M312.5,1496.2L317.3,1503.7L312.5,1511.2L307.7,1503.7Z" fill="#ffff00" stroke="#ffff00" stroke-width="1"/>
<path d="M352.4,1496.2L357.2,1503.7L352.4,1511.2L347.6,1503.7Z" fill="#ffff00" stroke="#ffff00" stroke-width="1"/>
<path d="M392.3,1496.2L397.1,1503.7L392.3,1511.2L387.5,1503.7Z" fill="#ffff00" stroke="#ffff00" stroke-width="1"/>
<path d="M432.3,1496.3L437.1,1503.8L432.3,1511.3L427.5,1503.8Z" fill="#ffff00" stroke="#ffff00" stroke-width="1"/>
<path d="M472.2,1496.3L477,1503.8L472.2,1511.3L467.4,1503.8Z" fill="#ffff00" stroke="#ffff00" stroke-width="1"/>
<path d="M512.1,1496.3L516.9,1503.8L512.1,1511.3L507.3,1503.8Z" fill="#ffff00" stroke="#ffff00" stroke-width="1"/>
<path d="M552.1,1496.3L556.9,1503.8L552.1,1511.3L547.3,1503.8Z" fill="#ffff00" stroke="#ffff00" stroke-width="1"/>
<path d="M592,1496.3L596.8,1503.8L592,1511.3L587.2,1503.8Z" fill="#ffff00" stroke="#ffff00" stroke-width="1"/>
<path d="M631.9,1496.3L636.7,1503.8L631.9,1511.3L627.1,1503.8Z" fill="#ffff00" stroke="#ffff00" stroke-width="1"/>
<path d="M671.9,1496.3L676.7,1503.8L671.9,1511.3L667.1,1503.8Z" fill="#ffff00" stroke="#ffff00" stroke-width="1"/>
<path d="M711.8,1496.3L716.6,1503.8L711.8,1511.3L707,1503.8Z" fill="#ffff00" stroke="#ffff00" stroke-width="1"/>
<path d="M751.7,1496.3L756.5,1503.8L751.7,1511.3L746.9,1503.8Z" fill="#ffff00" stroke="#ffff00" stroke-width="1"/>
<polyline points="112.8,1503.4 115.5,1503.4 118.2,1503.5 120.8,1503.5 123.5,1503.6 126.1,1503.6 128.8,1503.7 131.5,1503.7 134.1,1503.8 136.8,1503.8 139.5,1503.9 142.1,1503.9 144.8,1503.9 147.4,1504 150.1,1504 152.8,1504 155.4,1504 158.1,1504 160.7,1504 163.4,1504 166.1,1504 168.7,1504 171.4,1504 174.1,1504 176.7,1504 179.4,1504.1 182,1504.1 184.7,1504.1 187.4,1504.1 190,1504.1 192.7,1504.1 195.4,1504.1 198,1504.1 200.7,1504.1 203.3,1504.1 206,1504.1 208.7,1504.1 211.3,1504.1 214,1504.1 216.6,1504.1 219.3,1504.1 222,1504.1 224.6,1504.1 227.3,1504.1 230,1504.1 232.6,1504.1 235.3,1504.2 237.9,1504.2 240.6,1504.2 243.3,1504.2 245.9,1504.2 248.6,1504.2 251.3,1504.2 253.9,1504.2 256.6,1504.2 259.2,1504.2 261.9,1504.2 264.6,1504.2 267.2,1504.2 269.9,1504.2 272.6,1504.2 275.2,1504.2 277.9,1504.2 280.5,1504.2 283.2,1504.2 285.9,1504.2 288.5,1504.2 291.2,1504.2 293.8,1504.2 296.5,1504.2 299.2,1504.2 301.8,1504.3 304.5,1504.3 307.2,1504.3 309.8,1504.3 312.5,1504.3 315.1,1504.3 317.8,1504.3 320.5,1504.3 323.1,1504.3 325.8,1504.3 328.5,1504.3 331.1,1504.3 333.8,1504.3 336.4,1504.3 339.1,1504.3 341.8,1504.3 344.4,1504.3 347.1,1504.3 349.7,1504.3 352.4,1504.3 355.1,1504.3 357.7,1504.3 360.4,1504.3 363.1,1504.3 365.7,1504.3 368.4,1504.3 371,1504.3 373.7,1504.3 376.4,1504.3 379,1504.3 381.7,1504.3 384.4,1504.3 387,1504.3 389.7,1504.3 392.3,1504.4 395,1504.4 397.7,1504.4 400.3,1504.4 403,1504.4 405.7,1504.4 408.3,1504.4 411,1504.4 413.6,1504.4 416.3,1504.4 419,1504.4 421.6,1504.4 424.3,1504.4 426.9,1504.4 429.6,1504.4 432.3,1504.4 434.9,1504.4 437.6,1504.4 440.3,1504.4 442.9,1504.4 445.6,1504.4 448.2,1504.4 450.9,1504.4 453.6,1504.4 456.2,1504.4 458.9,1504.4 461.6,1504.4 464.2,1504.4 466.9,1504.4 469.5,1504.4 472.2,1504.4 474.9,1504.4 477.5,1504.4 480.2,1504.4 482.8,1504.4 485.5,1504.4 488.2,1504.4 490.8,1504.4 493.5,1504.4 496.2,1504.4 498.8,1504.4 501.5,1504.4 504.1,1504.4 506.8,1504.4 509.5,1504.4 512.1,1504.4 514.8,1504.4 517.5,1504.4 520.1,1504.4 522.8,1504.4 525.4,1504.4 528.1,1504.4 530.8,1504.4 533.4,1504.5 536.1,1504.5 538.8,1504.5 541.4,1504.5 544.1,1504.5 546.7,1504.5 549.4,1504.5 552.1,1504.5 554.7,1504.5 557.4,1504.5 560,1504.5 562.7,1504.5 565.4,1504.5 568,1504.5 570.7,1504.5 573.4,1504.5 576,1504.5 578.7,1504.5 581.3,1504.5 584,1504.5 586.7,1504.5 589.3,1504.5 592,1504.5 594.7,1504.5 597.3,1504.5 600,1504.5 602.6,1504.5 605.3,1504.5 608,1504.5 610.6,1504.5 613.3,1504.5 615.9,1504.5 618.6,1504.5 621.3,1504.5 623.9,1504.5 626.6,1504.5 629.3,1504.5 631.9,1504.5 634.6,1504.5 637.2,1504.5 639.9,1504.5 642.6,1504.5 645.2,1504.5 647.9,1504.5 650.6,1504.5 653.2,1504.5 655.9,1504.5 658.5,1504.5 661.2,1504.5 663.9,1504.5 666.5,1504.5 669.2,1504.5 671.9,1504.5 674.5,1504.5 677.2,1504.5 679.8,1504.5 682.5,1504.5 685.2,1504.5 687.8,1504.5 690.5,1504.5 693.1,1504.5 695.8,1504.5 698.5,1504.5 701.1,1504.5 703.8,1504.5 706.5,1504.5 709.1,1504.5 711.8,1504.5 714.4,1504.5 717.1,1504.5 719.8,1504.5 722.4,1504.5 725.1,1504.5 727.8,1504.5 730.4,1504.5 733.1,1504.5 735.7,1504.5 738.4,1504.5 741.1,1504.5 743.7,1504.5 746.4,1504.5 749,1504.5 751.7,1504.5 754.4,1504.5 757,1504.5 759.7,1504.5 762.4,1504.5 765,1504.5 767.7,1504.5 770.3,1504.5 773,1504.5 775.7,1504.5 777,1504.5" fill="none" stroke="#ff00ff" stroke-width="3.0" stroke-linejoin="round"/>
<circle cx="112.8" cy="1503.4" r="4.6" fill="#ff00ff"/>
<circle cx="152.8" cy="1504" r="4.6" fill="#ff00ff"/>
<circle cx="192.7" cy="1504.1" r="4.6" fill="#ff00ff"/>
<circle cx="232.6" cy="1504.1" r="4.6" fill="#ff00ff"/>
<circle cx="272.6" cy="1504.2" r="4.6" fill="#ff00ff"/>
<circle cx="312.5" cy="1504.3" r="4.6" fill="#ff00ff"/>
<circle cx="352.4" cy="1504.3" r="4.6" fill="#ff00ff"/>
<circle cx="392.3" cy="1504.4" r="4.6" fill="#ff00ff"/>
<circle cx="432.3" cy="1504.4" r="4.6" fill="#ff00ff"/>
<circle cx="472.2" cy="1504.4" r="4.6" fill="#ff00ff"/>
<circle cx="512.1" cy="1504.4" r="4.6" fill="#ff00ff"/>
<circle cx="552.1" cy="1504.5" r="4.6" fill="#ff00ff"/>
<circle cx="592" cy="1504.5" r="4.6" fill="#ff00ff"/>
<circle cx="631.9" cy="1504.5" r="4.6" fill="#ff00ff"/>
<circle cx="671.9" cy="1504.5" r="4.6" fill="#ff00ff"/>
<circle cx="711.8" cy="1504.5" r="4.6" fill="#ff00ff"/>
<circle cx="751.7" cy="1504.5" r="4.6" fill="#ff00ff"/>
<polyline points="112.8,1490.8 115.5,1500 118.2,1502.3 120.8,1503.4 122.1,1503.6 123.5,1503.6 126.1,1503.6 128.8,1503.6 131.5,1503.6 134.1,1503.6 136.8,1503.6 139.5,1503.6 142.1,1503.6 144.8,1503.6 147.4,1503.6 150.1,1503.6 152.8,1503.6 155.4,1503.6 158.1,1503.6 160.7,1503.6 163.4,1503.6 166.1,1503.6 168.7,1503.6 171.4,1503.6 174.1,1503.6 176.7,1503.6 179.4,1503.6 182,1503.6 184.7,1503.6 187.4,1503.6 190,1503.6 192.7,1503.6 195.4,1503.6 198,1503.6 200.7,1503.6 203.3,1503.6 206,1503.6 208.7,1503.6 211.3,1503.6 214,1503.6 216.6,1503.6 219.3,1503.6 222,1503.6 224.6,1503.6 227.3,1503.6 230,1503.6 232.6,1503.6 235.3,1503.6 237.9,1503.6 240.6,1503.6 243.3,1503.6 245.9,1503.6 248.6,1503.6 251.3,1503.6 253.9,1503.6 256.6,1503.6 259.2,1503.6 261.9,1503.6 264.6,1503.6 267.2,1503.6 269.9,1503.6 272.6,1503.6 275.2,1503.6 277.9,1503.6 280.5,1503.6 283.2,1503.6 285.9,1503.6 288.5,1503.6 291.2,1503.6 293.8,1503.6 296.5,1503.6 299.2,1503.6 301.8,1503.6 304.5,1503.6 307.2,1503.6 309.8,1503.6 312.5,1503.6 315.1,1503.6 317.8,1503.6 320.5,1503.6 323.1,1503.6 325.8,1503.6 328.5,1503.6 331.1,1503.6 333.8,1503.6 336.4,1503.6 339.1,1503.6 341.8,1503.6 344.4,1503.6 347.1,1503.6 349.7,1503.6 352.4,1503.6 355.1,1503.6 357.7,1503.6 360.4,1503.6 363.1,1503.6 365.7,1503.6 368.4,1503.6 371,1503.6 373.7,1503.6 376.4,1503.6 379,1503.6 381.7,1503.6 384.4,1503.6 387,1503.6 389.7,1503.6 392.3,1503.6 395,1503.6 397.7,1503.6 400.3,1503.6 403,1503.6 405.7,1503.6 408.3,1503.6 411,1503.6 413.6,1503.6 416.3,1503.6 419,1503.6 421.6,1503.6 424.3,1503.6 426.9,1503.6 429.6,1503.6 432.3,1503.6 434.9,1503.6 437.6,1503.6 440.3,1503.6 442.9,1503.6 445.6,1503.6 448.2,1503.6 450.9,1503.6 453.6,1503.6 456.2,1503.6 458.9,1503.6 461.6,1503.6 464.2,1503.6 466.9,1503.6 469.5,1503.6 472.2,1503.6 474.9,1503.6 477.5,1503.6 480.2,1503.6 482.8,1503.6 485.5,1503.6 488.2,1503.6 490.8,1503.6 493.5,1503.6 496.2,1503.6 498.8,1503.6 501.5,1503.6 504.1,1503.6 506.8,1503.6 509.5,1503.6 512.1,1503.6 514.8,1503.6 517.5,1503.6 520.1,1503.6 522.8,1503.6 525.4,1503.6 528.1,1503.6 530.8,1503.6 533.4,1503.6 536.1,1503.6 538.8,1503.6 541.4,1503.6 544.1,1503.6 546.7,1503.6 549.4,1503.6 552.1,1503.6 554.7,1503.6 557.4,1503.6 560,1503.6 562.7,1503.6 565.4,1503.6 568,1503.6 570.7,1503.6 573.4,1503.6 576,1503.6 578.7,1503.6 581.3,1503.6 584,1503.6 586.7,1503.6 589.3,1503.6 592,1503.6 594.7,1503.6 597.3,1503.6 600,1503.6 602.6,1503.6 605.3,1503.6 608,1503.6 610.6,1503.6 613.3,1503.6 615.9,1503.6 618.6,1503.6 621.3,1503.6 623.9,1503.6 626.6,1503.6 629.3,1503.6 631.9,1503.6 634.6,1503.6 637.2,1503.6 639.9,1503.6 642.6,1503.6 645.2,1503.6 647.9,1503.6 650.6,1503.6 653.2,1503.6 655.9,1503.6 658.5,1503.6 661.2,1503.6 663.9,1503.6 666.5,1503.6 669.2,1503.6 671.9,1503.6 674.5,1503.6 677.2,1503.6 679.8,1503.6 682.5,1503.6 685.2,1503.6 687.8,1503.6 690.5,1503.6 693.1,1503.6 695.8,1503.6 698.5,1503.6 701.1,1503.6 703.8,1503.6 706.5,1503.6 709.1,1503.6 711.8,1503.6 714.4,1503.6 717.1,1503.6 719.8,1503.6 722.4,1503.6 725.1,1503.6 727.8,1503.6 730.4,1503.6 733.1,1503.6 735.7,1503.6 738.4,1503.6 741.1,1503.6 743.7,1503.6 746.4,1503.6 749,1503.6 751.7,1503.6 754.4,1503.6 757,1503.6 759.7,1503.6 762.4,1503.6 765,1503.6 767.7,1503.6 770.3,1503.6 773,1503.6 775.7,1503.6 777,1503.6" fill="none" stroke="#00ffff" stroke-width="3.0" stroke-linejoin="round"/>
<path d="M112.8,1483.8L119.8,1495.8L105.8,1495.8Z" fill="#00ffff"/>
<path d="M152.8,1496.6L159.8,1508.6L145.8,1508.6Z" fill="#00ffff"/>
<path d="M192.7,1496.6L199.7,1508.6L185.7,1508.6Z" fill="#00ffff"/>
<path d="M232.6,1496.6L239.6,1508.6L225.6,1508.6Z" fill="#00ffff"/>
<path d="M272.6,1496.6L279.6,1508.6L265.6,1508.6Z" fill="#00ffff"/>
<path d="M312.5,1496.6L319.5,1508.6L305.5,1508.6Z" fill="#00ffff"/>
<path d="M352.4,1496.6L359.4,1508.6L345.4,1508.6Z" fill="#00ffff"/>
<path d="M392.3,1496.6L399.3,1508.6L385.3,1508.6Z" fill="#00ffff"/>
<path d="M432.3,1496.6L439.3,1508.6L425.3,1508.6Z" fill="#00ffff"/>
<path d="M472.2,1496.6L479.2,1508.6L465.2,1508.6Z" fill="#00ffff"/>
<path d="M512.1,1496.6L519.1,1508.6L505.1,1508.6Z" fill="#00ffff"/>
<path d="M552.1,1496.6L559.1,1508.6L545.1,1508.6Z" fill="#00ffff"/>
<path d="M592,1496.6L599,1508.6L585,1508.6Z" fill="#00ffff"/>
<path d="M631.9,1496.6L638.9,1508.6L624.9,1508.6Z" fill="#00ffff"/>
<path d="M671.9,1496.6L678.9,1508.6L664.9,1508.6Z" fill="#00ffff"/>
<path d="M711.8,1496.6L718.8,1508.6L704.8,1508.6Z" fill="#00ffff"/>
<path d="M751.7,1496.6L758.7,1508.6L744.7,1508.6Z" fill="#00ffff"/>
<polyline points="112.8,1490.8 115.5,1498.5 118.2,1503 120.8,1503.4 123.5,1503.7 126.1,1503.9 128.8,1504.1 131.5,1504.3 134.1,1504.5 136.8,1504.6 139.5,1504.7 142.1,1504.8 144.8,1504.8 147.4,1504.9 150.1,1504.9 152.8,1505 155.4,1505.1 158.1,1505.1 160.7,1505.2 163.4,1505.2 166.1,1505.3 168.7,1505.3 171.4,1505.4 174.1,1505.5 176.7,1505.5 179.4,1505.6 182,1505.6 184.7,1505.6 187.4,1505.7 190,1505.7 192.7,1505.8 195.4,1505.8 198,1505.9 200.7,1505.9 203.3,1505.9 206,1506 208.7,1506 211.3,1506.1 214,1506.1 216.6,1506.1 219.3,1506.2 222,1506.2 224.6,1506.2 227.3,1506.3 230,1506.3 232.6,1506.3 235.3,1506.3 237.9,1506.4 240.6,1506.4 243.3,1506.4 245.9,1506.5 248.6,1506.5 251.3,1506.5 253.9,1506.5 256.6,1506.6 259.2,1506.6 261.9,1506.6 264.6,1506.6 267.2,1506.6 269.9,1506.7 272.6,1506.7 275.2,1506.7 277.9,1506.7 280.5,1506.8 283.2,1506.8 285.9,1506.8 288.5,1506.8 291.2,1506.8 293.8,1506.9 296.5,1506.9 299.2,1506.9 301.8,1506.9 304.5,1506.9 307.2,1507 309.8,1507 312.5,1507 315.1,1507 317.8,1507 320.5,1507.1 323.1,1507.1 325.8,1507.1 328.5,1507.1 331.1,1507.2 333.8,1507.2 336.4,1507.2 339.1,1507.2 341.8,1507.2 344.4,1507.3 347.1,1507.3 349.7,1507.3 352.4,1507.3 355.1,1507.4 357.7,1507.4 360.4,1507.4 363.1,1507.5 365.7,1507.5 368.4,1507.5 371,1507.5 373.7,1507.6 376.4,1507.6 379,1507.6 381.7,1507.7 384.4,1507.7 387,1507.7 389.7,1507.8 392.3,1507.8 395,1507.8 397.7,1507.9 400.3,1507.9 403,1508 405.7,1508 408.3,1508 411,1508.1 413.6,1508.1 416.3,1508.2 419,1508.2 421.6,1508.2 424.3,1508.3 426.9,1508.3 429.6,1508.4 432.3,1508.4 434.9,1508.4 437.6,1508.5 440.3,1508.5 442.9,1508.5 445.6,1508.6 448.2,1508.6 450.9,1508.6 453.6,1508.7 456.2,1508.7 458.9,1508.8 461.6,1508.8 464.2,1508.8 466.9,1508.9 469.5,1508.9 472.2,1508.9 474.9,1509 477.5,1509 480.2,1509 482.8,1509.1 485.5,1509.1 488.2,1509.1 490.8,1509.2 493.5,1509.2 496.2,1509.2 498.8,1509.3 501.5,1509.3 504.1,1509.3 506.8,1509.4 509.5,1509.4 512.1,1509.4 514.8,1509.4 517.5,1509.5 520.1,1509.5 522.8,1509.5 525.4,1509.5 528.1,1509.6 530.8,1509.6 533.4,1509.6 536.1,1509.6 538.8,1509.6 541.4,1509.6 544.1,1509.7 546.7,1509.7 549.4,1509.7 552.1,1509.7 554.7,1509.7 557.4,1509.7 560,1509.7 562.7,1509.7 565.4,1509.8 568,1509.8 570.7,1509.8 573.4,1509.8 576,1509.8 578.7,1509.8 581.3,1509.8 584,1509.8 586.7,1509.8 589.3,1509.8 592,1509.8 594.7,1509.9 597.3,1509.9 600,1509.9 602.6,1509.9 605.3,1509.9 608,1509.9 610.6,1509.9 613.3,1509.9 615.9,1509.9 618.6,1509.9 621.3,1509.9 623.9,1510 626.6,1510 629.3,1510 631.9,1510 634.6,1510 637.2,1510 639.9,1510 642.6,1510 645.2,1510 647.9,1510 650.6,1510 653.2,1510 655.9,1510 658.5,1510 661.2,1510.1 663.9,1510.1 666.5,1510.1 669.2,1510.1 671.9,1510.1 674.5,1510.1 677.2,1510.1 679.8,1510.1 682.5,1510.1 685.2,1510.1 687.8,1510.1 690.5,1510.1 693.1,1510.1 695.8,1510.1 698.5,1510.1 701.1,1510.1 703.8,1510.1 706.5,1510.1 709.1,1510.1 711.8,1510.2 714.4,1510.2 717.1,1510.2 719.8,1510.2 722.4,1510.2 725.1,1510.2 727.8,1510.2 730.4,1510.2 733.1,1510.2 735.7,1510.2 738.4,1510.2 741.1,1510.2 743.7,1510.2 746.4,1510.2 749,1510.2 751.7,1510.2 754.4,1510.2 757,1510.2 759.7,1510.2 762.4,1510.2 765,1510.2 767.7,1510.2 770.3,1510.2 773,1510.2 775.7,1510.2 777,1510.2" fill="none" stroke="#33e35a" stroke-width="3.0" stroke-linejoin="round"/>
<circle cx="112.8" cy="1490.8" r="4.2" fill="#33e35a"/>
<circle cx="152.8" cy="1505" r="4.2" fill="#33e35a"/>
<circle cx="192.7" cy="1505.8" r="4.2" fill="#33e35a"/>
<circle cx="232.6" cy="1506.3" r="4.2" fill="#33e35a"/>
<circle cx="272.6" cy="1506.7" r="4.2" fill="#33e35a"/>
<circle cx="312.5" cy="1507" r="4.2" fill="#33e35a"/>
<circle cx="352.4" cy="1507.3" r="4.2" fill="#33e35a"/>
<circle cx="392.3" cy="1507.8" r="4.2" fill="#33e35a"/>
<circle cx="432.3" cy="1508.4" r="4.2" fill="#33e35a"/>
<circle cx="472.2" cy="1508.9" r="4.2" fill="#33e35a"/>
<circle cx="512.1" cy="1509.4" r="4.2" fill="#33e35a"/>
<circle cx="552.1" cy="1509.7" r="4.2" fill="#33e35a"/>
<circle cx="592" cy="1509.8" r="4.2" fill="#33e35a"/>
<circle cx="631.9" cy="1510" r="4.2" fill="#33e35a"/>
<circle cx="671.9" cy="1510.1" r="4.2" fill="#33e35a"/>
<circle cx="711.8" cy="1510.2" r="4.2" fill="#33e35a"/>
<circle cx="751.7" cy="1510.2" r="4.2" fill="#33e35a"/>
<polyline points="112.8,1490.8 115.5,1499.8 116.8,1502 118.2,1502.8 120.8,1503.9 123.5,1504.4 124.8,1504.5 126.1,1504.5 128.8,1504.5 131.5,1504.5 134.1,1504.5 136.8,1504.5 139.5,1504.5 142.1,1504.5 144.8,1504.6 147.4,1504.6 150.1,1504.6 152.8,1504.6 155.4,1504.6 158.1,1504.6 160.7,1504.6 163.4,1504.6 166.1,1504.6 168.7,1504.6 171.4,1504.6 174.1,1504.6 176.7,1504.6 179.4,1504.6 182,1504.6 184.7,1504.6 187.4,1504.6 190,1504.6 192.7,1504.6 195.4,1504.6 198,1504.6 200.7,1504.7 203.3,1504.7 206,1504.7 208.7,1504.7 211.3,1504.7 214,1504.7 216.6,1504.7 219.3,1504.7 222,1504.7 224.6,1504.7 227.3,1504.7 230,1504.7 232.6,1504.7 235.3,1504.7 237.9,1504.7 240.6,1504.7 243.3,1504.7 245.9,1504.7 248.6,1504.7 251.3,1504.7 253.9,1504.7 256.6,1504.7 259.2,1504.7 261.9,1504.7 264.6,1504.7 267.2,1504.7 269.9,1504.7 272.6,1504.7 275.2,1504.7 277.9,1504.7 280.5,1504.7 283.2,1504.7 285.9,1504.7 288.5,1504.7 291.2,1504.7 293.8,1504.7 296.5,1504.7 299.2,1504.7 301.8,1504.7 304.5,1504.7 307.2,1504.7 309.8,1504.7 312.5,1504.7 315.1,1504.7 317.8,1504.7 320.5,1504.7 323.1,1504.7 325.8,1504.7 328.5,1504.7 331.1,1504.7 333.8,1504.7 336.4,1504.7 339.1,1504.7 341.8,1504.7 344.4,1504.7 347.1,1504.7 349.7,1504.7 352.4,1504.7 355.1,1504.7 357.7,1504.7 360.4,1504.7 363.1,1504.7 365.7,1504.7 368.4,1504.7 371,1504.7 373.7,1504.7 376.4,1504.8 379,1504.8 381.7,1504.8 384.4,1504.8 387,1504.8 389.7,1504.8 392.3,1504.8 395,1504.8 397.7,1504.8 400.3,1504.8 403,1504.8 405.7,1504.8 408.3,1504.8 411,1504.8 413.6,1504.8 416.3,1504.8 419,1504.8 421.6,1504.8 424.3,1504.8 426.9,1504.8 429.6,1504.8 432.3,1504.8 434.9,1504.8 437.6,1504.8 440.3,1504.8 442.9,1504.8 445.6,1504.8 448.2,1504.8 450.9,1504.8 453.6,1504.8 456.2,1504.8 458.9,1504.8 461.6,1504.8 464.2,1504.8 466.9,1504.8 469.5,1504.8 472.2,1504.9 474.9,1504.9 477.5,1504.9 480.2,1504.9 482.8,1504.9 485.5,1504.9 488.2,1504.9 490.8,1504.9 493.5,1504.9 496.2,1504.9 498.8,1504.9 501.5,1504.9 504.1,1504.9 506.8,1504.9 509.5,1504.9 512.1,1504.9 514.8,1504.9 517.5,1504.9 520.1,1504.9 522.8,1504.9 525.4,1504.9 528.1,1504.9 530.8,1504.9 533.4,1504.9 536.1,1504.9 538.8,1505 541.4,1505 544.1,1505 546.7,1505 549.4,1505 552.1,1505 554.7,1505 557.4,1505 560,1505 562.7,1505 565.4,1505 568,1505 570.7,1505 573.4,1505 576,1505 578.7,1505 581.3,1505 584,1505 586.7,1505 589.3,1505 592,1505 594.7,1505 597.3,1505 600,1505.1 602.6,1505.1 605.3,1505.1 608,1505.1 610.6,1505.1 613.3,1505.1 615.9,1505.1 618.6,1505.1 621.3,1505.1 623.9,1505.1 626.6,1505.1 629.3,1505.1 631.9,1505.1 634.6,1505.1 637.2,1505.1 639.9,1505.1 642.6,1505.1 645.2,1505.1 647.9,1505.1 650.6,1505.1 653.2,1505.1 655.9,1505.2 658.5,1505.2 661.2,1505.2 663.9,1505.2 666.5,1505.2 669.2,1505.2 671.9,1505.2 674.5,1505.2 677.2,1505.2 679.8,1505.2 682.5,1505.2 685.2,1505.2 687.8,1505.2 690.5,1505.2 693.1,1505.2 695.8,1505.2 698.5,1505.2 701.1,1505.2 703.8,1505.2 706.5,1505.3 709.1,1505.3 711.8,1505.3 714.4,1505.3 717.1,1505.3 719.8,1505.3 722.4,1505.3 725.1,1505.3 727.8,1505.3 730.4,1505.3 733.1,1505.3 735.7,1505.3 738.4,1505.3 741.1,1505.3 743.7,1505.3 746.4,1505.3 749,1505.3 751.7,1505.3 754.4,1505.4 757,1505.4 759.7,1505.4 762.4,1505.4 765,1505.4 767.7,1505.4 770.3,1505.4 773,1505.4 775.7,1505.4 777,1505.4" fill="none" stroke="#a946e3" stroke-width="3.0" stroke-linejoin="round"/>
<path d="M112.8,1482.3L115.1,1488.5L121.7,1488.7L116.4,1492.8L118.3,1499.1L112.8,1495.4L107.4,1499.1L109.2,1492.8L104,1488.7L110.6,1488.5Z" fill="#a946e3"/>
<path d="M152.8,1496.1L155,1502.3L161.6,1502.5L156.4,1506.5L158.2,1512.9L152.8,1509.2L147.3,1512.9L149.1,1506.5L143.9,1502.5L150.5,1502.3Z" fill="#a946e3"/>
<path d="M192.7,1496.1L194.9,1502.4L201.5,1502.6L196.3,1506.6L198.2,1513L192.7,1509.2L187.2,1513L189.1,1506.6L183.8,1502.6L190.5,1502.4Z" fill="#a946e3"/>
<path d="M232.6,1496.2L234.9,1502.4L241.5,1502.6L236.2,1506.7L238.1,1513L232.6,1509.3L227.2,1513L229,1506.7L223.8,1502.6L230.4,1502.4Z" fill="#a946e3"/>
<path d="M272.6,1496.2L274.8,1502.4L281.4,1502.6L276.2,1506.7L278,1513L272.6,1509.3L267.1,1513L268.9,1506.7L263.7,1502.6L270.3,1502.4Z" fill="#a946e3"/>
<path d="M312.5,1496.2L314.7,1502.4L321.3,1502.7L316.1,1506.7L317.9,1513L312.5,1509.3L307,1513L308.9,1506.7L303.6,1502.7L310.2,1502.4Z" fill="#a946e3"/>
<path d="M352.4,1496.2L354.6,1502.5L361.3,1502.7L356,1506.7L357.9,1513.1L352.4,1509.3L346.9,1513.1L348.8,1506.7L343.6,1502.7L350.2,1502.5Z" fill="#a946e3"/>
<path d="M392.3,1496.3L394.6,1502.5L401.2,1502.7L396,1506.7L397.8,1513.1L392.3,1509.4L386.9,1513.1L388.7,1506.7L383.5,1502.7L390.1,1502.5Z" fill="#a946e3"/>
<path d="M432.3,1496.3L434.5,1502.5L441.1,1502.7L435.9,1506.8L437.7,1513.1L432.3,1509.4L426.8,1513.1L428.7,1506.8L423.4,1502.7L430,1502.5Z" fill="#a946e3"/>
<path d="M472.2,1496.4L474.4,1502.6L481,1502.8L475.8,1506.8L477.7,1513.2L472.2,1509.5L466.7,1513.2L468.6,1506.8L463.4,1502.8L470,1502.6Z" fill="#a946e3"/>
<path d="M512.1,1496.4L514.4,1502.6L521,1502.8L515.7,1506.9L517.6,1513.2L512.1,1509.5L506.7,1513.2L508.5,1506.9L503.3,1502.8L509.9,1502.6Z" fill="#a946e3"/>
<path d="M552.1,1496.5L554.3,1502.7L560.9,1502.9L555.7,1506.9L557.5,1513.3L552.1,1509.6L546.6,1513.3L548.4,1506.9L543.2,1502.9L549.8,1502.7Z" fill="#a946e3"/>
<path d="M592,1496.5L594.2,1502.8L600.8,1503L595.6,1507L597.5,1513.4L592,1509.6L586.5,1513.4L588.4,1507L583.1,1503L589.8,1502.8Z" fill="#a946e3"/>
<path d="M631.9,1496.6L634.2,1502.8L640.8,1503L635.5,1507.1L637.4,1513.4L631.9,1509.7L626.5,1513.4L628.3,1507.1L623.1,1503L629.7,1502.8Z" fill="#a946e3"/>
<path d="M671.9,1496.7L674.1,1502.9L680.7,1503.1L675.5,1507.2L677.3,1513.5L671.9,1509.8L666.4,1513.5L668.2,1507.2L663,1503.1L669.6,1502.9Z" fill="#a946e3"/>
<path d="M711.8,1496.8L714,1503L720.6,1503.2L715.4,1507.2L717.2,1513.6L711.8,1509.9L706.3,1513.6L708.2,1507.2L702.9,1503.2L709.5,1503Z" fill="#a946e3"/>
<path d="M751.7,1496.8L753.9,1503.1L760.6,1503.3L755.3,1507.3L757.2,1513.7L751.7,1509.9L746.2,1513.7L748.1,1507.3L742.9,1503.3L749.5,1503.1Z" fill="#a946e3"/>
<polyline points="112.8,1490.8 115.5,1498.6 118.2,1505 119.5,1506.4 120.8,1506.9 123.5,1507.9 126.1,1508.8 128.8,1509.5 131.5,1510.2 134.1,1510.8 136.8,1511.2 139.5,1511.6 142.1,1511.9 144.8,1512.1 147.4,1512.3 150.1,1512.4 152.8,1512.4 155.4,1512.3 158.1,1512.1 160.7,1511.9 162.6,1511.8 163.4,1511.9 166.1,1512.9 168.7,1514.5 171.4,1515.9 171.8,1516 174.1,1516.5 176.7,1517 179.4,1517.5 182,1517.8 184.7,1518.2 187.4,1518.5 190,1519 192.7,1519.6 195.4,1520.5 198,1521.7 200.7,1522.9 203.3,1523.8 206,1524.5 208.7,1525 211.3,1525.5 214,1526 216.6,1526.5 219.3,1527 221,1527.4 222,1527.6 224.6,1528.5 227.3,1529.4 230,1530.3 232.6,1531 235.3,1531.5 237.9,1531.9 240.6,1532.3 243.3,1532.7 245.9,1533.1 248.6,1533.6 249.9,1534 251.3,1534.6 253.9,1536.1 254.7,1536.4 256.6,1536.8 259.2,1537.1 261.9,1537.4 264.6,1537.6 267.2,1537.8 269.9,1538.1 272.6,1538.5 275.2,1539.1 277.9,1540.1 280.5,1541.1 283.2,1542.1 284.3,1542.5 285.9,1543.1 288.5,1544 291.2,1545.1 293.8,1546.2 296.5,1547.2 299.2,1548.3 301.8,1549.3 304.5,1550.2 307.2,1551 309.8,1551.8 312,1552.3 312.5,1552.4 315.1,1552.9 317.8,1553.3 320.5,1553.7 322.4,1554 323.1,1554.1 325.8,1554.6 328.5,1555 331.1,1555.4 333.8,1555.8 336.4,1556.3 339.1,1556.7 341.8,1557.2 344.4,1557.7 347.1,1558.3 349.7,1558.9 351.2,1559.2 352.4,1559.5 355.1,1560.4 357.7,1561.3 360.4,1562.2 360.6,1562.3 363.1,1563.2 365.7,1564.2 368.4,1565.2 371,1566.3 373.7,1567.3 376.4,1568.4 379,1569.4 381.7,1570.4 384.4,1571.3 387,1572.1 389.7,1572.8 391.1,1573.1 392.3,1573.4 395,1573.8 397.7,1574.2 400.3,1574.5 403,1575 405.7,1575.5 405.7,1575.5 408.3,1576.2 411,1577.2 413.6,1578.4 416.3,1579.6 419,1581 421.6,1582.3 424.3,1583.5 426.9,1584.6 429.6,1585.5 431,1585.9 432.3,1586.2 434.9,1586.7 437.6,1587.1 440.3,1587.4 442.9,1587.8 445.6,1588.3 447.3,1588.7 448.2,1589 450.9,1589.9 453.6,1591 456.2,1592.4 458.9,1593.8 461.6,1595.4 464.2,1596.9 466.9,1598.4 469.5,1599.8 471.6,1600.8 472.2,1601.1 474.9,1602.3 477.5,1603.5 480.2,1604.5 482,1605 482.8,1605.2 485.5,1605.6 488.2,1606 490.8,1606.2 493.5,1606.5 496.2,1606.9 498.8,1607.3 499.3,1607.4 501.5,1608 504.1,1609 506.8,1610.1 509.5,1611.2 511.5,1611.9 512.1,1612.1 514.8,1612.9 517.5,1613.7 520.1,1614.4 522.8,1615.1 525.4,1615.8 528.1,1616.5 530.8,1617.1 533.4,1617.8 536.1,1618.5 538.8,1619.1 541.4,1619.8 544.1,1620.6 546.7,1621.3 549.4,1622.1 552.1,1623 552.1,1623 554.7,1624.1 557.4,1625.4 560,1626.4 561.8,1626.8 562.7,1626.9 565.4,1627.1 568,1627.2 570.7,1627.4 572.2,1627.5 573.4,1627.7 576,1628.5 578.7,1629.8 581.3,1631.3 584,1633 586.7,1634.7 589.3,1636.3 591.2,1637.2 592,1637.6 594.7,1638.7 597.3,1639.9 600,1641 602.6,1642.1 605.3,1643.1 608,1644.1 610.3,1644.9 610.6,1645 613.3,1645.8 615.9,1646.6 618.6,1647.3 621.3,1647.9 623.9,1648.6 626.6,1649.4 629.3,1650.2 631.1,1650.8 631.9,1651.1 634.6,1652.3 637.2,1653.6 639.9,1655 642.6,1656.3 645.2,1657.6 647.9,1658.5 648.5,1658.7 650.6,1659.2 653.2,1659.8 655.9,1660.2 658.5,1660.6 661.2,1661 663.9,1661.4 666.5,1661.9 669.2,1662.5 671,1662.9 671.9,1663.1 674.5,1664.1 677.2,1665.2 679.8,1666.5 682.5,1667.8 685.2,1669 687.8,1670.1 690.1,1670.9 690.5,1671 693.1,1671.7 695.8,1672.3 698.5,1672.9 701.1,1673.4 703.8,1673.9 706.5,1674.4 709.1,1675 710.9,1675.4 711.8,1675.6 714.4,1676.2 717.1,1676.8 719.8,1677.5 722.4,1678.2 724.8,1678.9 725.1,1679 727.8,1680 730.4,1681.2 733.1,1682.6 735.7,1684.1 738.4,1685.6 741.1,1687.1 743.7,1688.4 746.4,1689.5 749,1690.3 750.8,1690.7 751.7,1690.8 754.4,1691.2 757,1691.5 759.5,1691.7 759.7,1691.7 762.4,1692 765,1692.3 767.7,1692.5 770.3,1692.8 773,1693.1 775.7,1693.3 776.8,1693.4" fill="none" stroke="#1e9bce" stroke-width="3.0" stroke-linejoin="round"/>
<path d="M112.8,1483.4L114.9,1487.2L119.2,1487.1L116.9,1490.8L119.2,1494.5L114.9,1494.4L112.8,1498.2L110.8,1494.4L106.4,1494.5L108.7,1490.8L106.4,1487.1L110.8,1487.2Z" fill="#1e9bce"/>
<path d="M152.8,1505L154.8,1508.8L159.2,1508.7L156.9,1512.4L159.2,1516.1L154.8,1516L152.8,1519.8L150.7,1516L146.4,1516.1L148.7,1512.4L146.4,1508.7L150.7,1508.8Z" fill="#1e9bce"/>
<path d="M192.7,1512.2L194.7,1516L199.1,1515.9L196.8,1519.6L199.1,1523.3L194.7,1523.2L192.7,1527L190.6,1523.2L186.3,1523.3L188.6,1519.6L186.3,1515.9L190.6,1516Z" fill="#1e9bce"/>
<path d="M232.6,1523.6L234.7,1527.4L239,1527.3L236.7,1531L239,1534.7L234.7,1534.6L232.6,1538.4L230.6,1534.6L226.2,1534.7L228.5,1531L226.2,1527.3L230.6,1527.4Z" fill="#1e9bce"/>
<path d="M272.6,1531.1L274.6,1534.9L279,1534.8L276.7,1538.5L279,1542.2L274.6,1542.1L272.6,1545.9L270.5,1542.1L266.1,1542.2L268.5,1538.5L266.1,1534.8L270.5,1534.9Z" fill="#1e9bce"/>
<path d="M312.5,1545L314.5,1548.8L318.9,1548.7L316.6,1552.4L318.9,1556.1L314.5,1556L312.5,1559.8L310.4,1556L306.1,1556.1L308.4,1552.4L306.1,1548.7L310.4,1548.8Z" fill="#1e9bce"/>
<path d="M352.4,1552.1L354.5,1556L358.8,1555.8L356.5,1559.5L358.8,1563.2L354.5,1563.1L352.4,1566.9L350.4,1563.1L346,1563.2L348.3,1559.5L346,1555.8L350.4,1556Z" fill="#1e9bce"/>
<path d="M392.3,1566L394.4,1569.8L398.7,1569.7L396.4,1573.4L398.7,1577.1L394.4,1576.9L392.3,1580.8L390.3,1576.9L385.9,1577.1L388.2,1573.4L385.9,1569.7L390.3,1569.8Z" fill="#1e9bce"/>
<path d="M432.3,1578.8L434.3,1582.6L438.7,1582.5L436.4,1586.2L438.7,1589.9L434.3,1589.7L432.3,1593.6L430.2,1589.7L425.9,1589.9L428.2,1586.2L425.9,1582.5L430.2,1582.6Z" fill="#1e9bce"/>
<path d="M472.2,1593.7L474.3,1597.5L478.6,1597.4L476.3,1601.1L478.6,1604.8L474.3,1604.6L472.2,1608.5L470.2,1604.6L465.8,1604.8L468.1,1601.1L465.8,1597.4L470.2,1597.5Z" fill="#1e9bce"/>
<path d="M512.1,1604.7L514.2,1608.6L518.5,1608.4L516.2,1612.1L518.5,1615.8L514.2,1615.7L512.1,1619.5L510.1,1615.7L505.7,1615.8L508,1612.1L505.7,1608.4L510.1,1608.6Z" fill="#1e9bce"/>
<path d="M552.1,1615.6L554.1,1619.4L558.5,1619.3L556.2,1623L558.5,1626.7L554.1,1626.5L552.1,1630.4L550,1626.5L545.7,1626.7L548,1623L545.7,1619.3L550,1619.4Z" fill="#1e9bce"/>
<path d="M592,1630.2L594,1634L598.4,1633.9L596.1,1637.6L598.4,1641.3L594,1641.1L592,1645L589.9,1641.1L585.6,1641.3L587.9,1637.6L585.6,1633.9L589.9,1634Z" fill="#1e9bce"/>
<path d="M631.9,1643.7L634,1647.6L638.3,1647.4L636,1651.1L638.3,1654.8L634,1654.7L631.9,1658.5L629.9,1654.7L625.5,1654.8L627.8,1651.1L625.5,1647.4L629.9,1647.6Z" fill="#1e9bce"/>
<path d="M671.9,1655.7L673.9,1659.6L678.3,1659.4L676,1663.1L678.3,1666.8L673.9,1666.7L671.9,1670.5L669.8,1666.7L665.4,1666.8L667.8,1663.1L665.4,1659.4L669.8,1659.6Z" fill="#1e9bce"/>
<path d="M711.8,1668.2L713.8,1672.1L718.2,1671.9L715.9,1675.6L718.2,1679.3L713.8,1679.2L711.8,1683L709.7,1679.2L705.4,1679.3L707.7,1675.6L705.4,1671.9L709.7,1672.1Z" fill="#1e9bce"/>
<path d="M751.7,1683.4L753.8,1687.3L758.1,1687.1L755.8,1690.8L758.1,1694.5L753.8,1694.4L751.7,1698.2L749.7,1694.4L745.3,1694.5L747.6,1690.8L745.3,1687.1L749.7,1687.3Z" fill="#1e9bce"/>
<polyline points="112.8,1490.8 115.5,1495.9 116.8,1498 118.2,1500 120.8,1503.3 122.1,1504 123.5,1504.1 126.1,1504.3 128.8,1504.5 131.5,1504.7 134.1,1504.8 136.8,1504.9 139.5,1504.9 142.1,1505 144.8,1505.1 147.4,1505.1 150.1,1505.1 152.8,1505.2 155.4,1505.3 158.1,1505.3 160.7,1505.4 163.4,1505.4 166.1,1505.4 168.7,1505.5 171.4,1505.5 174.1,1505.5 176.7,1505.6 179.4,1505.6 182,1505.6 184.7,1505.7 187.4,1505.7 190,1505.8 192.7,1505.8 195.4,1505.9 198,1505.9 200.7,1506 203.3,1506 206,1506.1 208.7,1506.2 211.3,1506.2 214,1506.3 216.6,1506.4 219.3,1506.5 222,1506.5 224.6,1506.6 227.3,1506.6 230,1506.7 232.6,1506.7 235.3,1506.7 237.9,1506.8 240.6,1506.8 243.3,1506.8 245.9,1506.8 248.6,1506.8 251.3,1506.9 253.9,1506.9 256.6,1506.9 259.2,1506.9 261.9,1506.9 264.6,1507 267.2,1507 269.9,1507 272.6,1507 275.2,1507 277.9,1507 280.5,1507 283.2,1507.1 285.9,1507.1 288.5,1507.1 291.2,1507.1 293.8,1507.1 296.5,1507.1 299.2,1507.1 301.8,1507.1 304.5,1507.1 307.2,1507.2 309.8,1507.2 312.5,1507.2 315.1,1507.2 317.8,1507.3 320.5,1507.3 323.1,1507.4 325.8,1507.5 328.5,1507.6 331.1,1507.6 333.8,1507.7 336.4,1507.8 339.1,1507.9 341.8,1508 344.4,1508.1 347.1,1508.2 349.7,1508.3 352.4,1508.4 355.1,1508.5 357.7,1508.6 360.4,1508.7 363.1,1508.7 365.7,1508.8 368.4,1508.9 371,1509 373.7,1509.1 376.4,1509.2 379,1509.3 381.7,1509.3 384.4,1509.4 387,1509.5 389.7,1509.5 392.3,1509.6 395,1509.7 397.7,1509.7 400.3,1509.7 403,1509.8 405.7,1509.8 408.3,1509.9 411,1509.9 413.6,1509.9 416.3,1510 419,1510 421.6,1510.1 424.3,1510.1 426.9,1510.1 429.6,1510.2 432.3,1510.2 434.9,1510.2 437.6,1510.3 440.3,1510.3 442.9,1510.4 445.6,1510.4 448.2,1510.4 450.9,1510.5 453.6,1510.5 456.2,1510.5 458.9,1510.6 461.6,1510.6 464.2,1510.7 466.9,1510.7 469.5,1510.8 472.2,1510.8 474.9,1510.8 477.5,1510.9 480.2,1510.9 482.8,1511 485.5,1511 488.2,1511.1 490.8,1511.1 493.5,1511.1 496.2,1511.2 498.8,1511.2 501.5,1511.3 504.1,1511.3 506.8,1511.4 509.5,1511.4 512.1,1511.5 514.8,1511.5 517.5,1511.5 520.1,1511.6 522.8,1511.6 525.4,1511.7 528.1,1511.7 530.8,1511.8 533.4,1511.8 536.1,1511.9 538.8,1511.9 541.4,1512 544.1,1512 546.7,1512.1 549.4,1512.1 552.1,1512.2 554.7,1512.3 557.4,1512.3 560,1512.4 562.7,1512.4 565.4,1512.5 568,1512.6 570.7,1512.6 573.4,1512.7 576,1512.8 578.7,1512.8 581.3,1512.9 584,1513 586.7,1513 589.3,1513.1 592,1513.2 594.7,1513.3 597.3,1513.4 600,1513.5 602.6,1513.6 605.3,1513.8 608,1513.9 610.6,1514 613.3,1514.2 615.9,1514.3 618.6,1514.4 621.3,1514.6 623.9,1514.7 626.6,1514.8 629.3,1514.9 631.9,1515 634.6,1515.1 637.2,1515.2 639.9,1515.2 642.6,1515.3 645.2,1515.4 647.9,1515.4 650.6,1515.5 653.2,1515.6 655.9,1515.6 658.5,1515.7 661.2,1515.7 663.9,1515.8 666.5,1515.8 669.2,1515.9 671.9,1516 674.5,1516 677.2,1516.1 679.8,1516.1 682.5,1516.1 685.2,1516.2 687.8,1516.2 690.5,1516.3 693.1,1516.3 695.8,1516.4 698.5,1516.4 701.1,1516.5 703.8,1516.5 706.5,1516.6 709.1,1516.6 711.8,1516.6 714.4,1516.7 717.1,1516.7 719.8,1516.8 722.4,1516.8 725.1,1516.9 727.8,1516.9 730.4,1517 733.1,1517 735.7,1517.1 738.4,1517.1 741.1,1517.2 743.7,1517.2 746.4,1517.3 749,1517.3 751.7,1517.4 754.4,1517.5 757,1517.5 759.7,1517.6 762.4,1517.6 765,1517.7 767.7,1517.8 770.3,1517.8 773,1517.9 775.7,1518 777,1518" fill="none" stroke="#0000ff" stroke-width="3.0" stroke-linejoin="round"/>
<path d="M112.8,1483.4L114.9,1487.2L119.2,1487.1L116.9,1490.8L119.2,1494.5L114.9,1494.4L112.8,1498.2L110.8,1494.4L106.4,1494.5L108.7,1490.8L106.4,1487.1L110.8,1487.2Z" fill="#0000ff"/>
<path d="M152.8,1497.8L154.8,1501.6L159.2,1501.5L156.9,1505.2L159.2,1508.9L154.8,1508.8L152.8,1512.6L150.7,1508.8L146.4,1508.9L148.7,1505.2L146.4,1501.5L150.7,1501.6Z" fill="#0000ff"/>
<path d="M192.7,1498.4L194.7,1502.2L199.1,1502.1L196.8,1505.8L199.1,1509.5L194.7,1509.4L192.7,1513.2L190.6,1509.4L186.3,1509.5L188.6,1505.8L186.3,1502.1L190.6,1502.2Z" fill="#0000ff"/>
<path d="M232.6,1499.3L234.7,1503.1L239,1503L236.7,1506.7L239,1510.4L234.7,1510.3L232.6,1514.1L230.6,1510.3L226.2,1510.4L228.5,1506.7L226.2,1503L230.6,1503.1Z" fill="#0000ff"/>
<path d="M272.6,1499.6L274.6,1503.4L279,1503.3L276.7,1507L279,1510.7L274.6,1510.6L272.6,1514.4L270.5,1510.6L266.1,1510.7L268.5,1507L266.1,1503.3L270.5,1503.4Z" fill="#0000ff"/>
<path d="M312.5,1499.8L314.5,1503.6L318.9,1503.5L316.6,1507.2L318.9,1510.9L314.5,1510.8L312.5,1514.6L310.4,1510.8L306.1,1510.9L308.4,1507.2L306.1,1503.5L310.4,1503.6Z" fill="#0000ff"/>
<path d="M352.4,1501L354.5,1504.8L358.8,1504.7L356.5,1508.4L358.8,1512.1L354.5,1512L352.4,1515.8L350.4,1512L346,1512.1L348.3,1508.4L346,1504.7L350.4,1504.8Z" fill="#0000ff"/>
<path d="M392.3,1502.2L394.4,1506L398.7,1505.9L396.4,1509.6L398.7,1513.3L394.4,1513.2L392.3,1517L390.3,1513.2L385.9,1513.3L388.2,1509.6L385.9,1505.9L390.3,1506Z" fill="#0000ff"/>
<path d="M432.3,1502.8L434.3,1506.6L438.7,1506.5L436.4,1510.2L438.7,1513.9L434.3,1513.8L432.3,1517.6L430.2,1513.8L425.9,1513.9L428.2,1510.2L425.9,1506.5L430.2,1506.6Z" fill="#0000ff"/>
<path d="M472.2,1503.4L474.3,1507.2L478.6,1507.1L476.3,1510.8L478.6,1514.5L474.3,1514.4L472.2,1518.2L470.2,1514.4L465.8,1514.5L468.1,1510.8L465.8,1507.1L470.2,1507.2Z" fill="#0000ff"/>
<path d="M512.1,1504.1L514.2,1507.9L518.5,1507.8L516.2,1511.5L518.5,1515.2L514.2,1515L512.1,1518.9L510.1,1515L505.7,1515.2L508,1511.5L505.7,1507.8L510.1,1507.9Z" fill="#0000ff"/>
<path d="M552.1,1504.8L554.1,1508.6L558.5,1508.5L556.2,1512.2L558.5,1515.9L554.1,1515.8L552.1,1519.6L550,1515.8L545.7,1515.9L548,1512.2L545.7,1508.5L550,1508.6Z" fill="#0000ff"/>
<path d="M592,1505.8L594,1509.6L598.4,1509.5L596.1,1513.2L598.4,1516.9L594,1516.8L592,1520.6L589.9,1516.8L585.6,1516.9L587.9,1513.2L585.6,1509.5L589.9,1509.6Z" fill="#0000ff"/>
<path d="M631.9,1507.6L634,1511.4L638.3,1511.3L636,1515L638.3,1518.7L634,1518.6L631.9,1522.4L629.9,1518.6L625.5,1518.7L627.8,1515L625.5,1511.3L629.9,1511.4Z" fill="#0000ff"/>
<path d="M671.9,1508.6L673.9,1512.4L678.3,1512.3L676,1516L678.3,1519.7L673.9,1519.5L671.9,1523.4L669.8,1519.5L665.4,1519.7L667.8,1516L665.4,1512.3L669.8,1512.4Z" fill="#0000ff"/>
<path d="M711.8,1509.2L713.8,1513.1L718.2,1512.9L715.9,1516.6L718.2,1520.3L713.8,1520.2L711.8,1524L709.7,1520.2L705.4,1520.3L707.7,1516.6L705.4,1512.9L709.7,1513.1Z" fill="#0000ff"/>
<path d="M751.7,1510L753.8,1513.8L758.1,1513.7L755.8,1517.4L758.1,1521.1L753.8,1521L751.7,1524.8L749.7,1521L745.3,1521.1L747.6,1517.4L745.3,1513.7L749.7,1513.8Z" fill="#0000ff"/>
<polyline points="112.8,1490.8 113.5,1521.3 115.5,1526.3 115.7,1526.7 118.2,1530.6 118.9,1532 120.8,1538.1 122.6,1544.8 123.5,1547.9 126.1,1557.2 127.4,1560.8 128.8,1564.1 131.5,1569.2 132.8,1571 134.1,1572.1 136,1573.6 136.8,1575.3 139.5,1585.3 140.2,1587.5 142.1,1590.8 144,1593.9 144.8,1595.6 147.4,1602 147.7,1602.5 150.1,1606.6 152,1610 152.8,1611.7 155.4,1618.7 157.3,1622.7 158.1,1623.8 160.7,1626.6 162.6,1629.1 163.4,1631.2 165.3,1636.6 166.1,1637.4 168.7,1639.4 169,1639.8 170.6,1652.6 171.4,1655.1 173.3,1659 174.1,1660.9 176.7,1667.4 177.6,1668.6 179.4,1669.6 181.8,1670.8 182,1671 184.7,1675.5 186.1,1679.3 187.4,1686.1 188.3,1691.1 190,1696.2 192.5,1701.7 192.7,1702.1 195.4,1707.4 198,1712 198.9,1713.5 200.7,1715.8 203.2,1719.9 203.3,1720.3 205.3,1731.6 206,1733.4 208.5,1738 208.7,1738.4 211.3,1744.5 211.7,1745.5 213.2,1750 214,1751.7 216.6,1756 219.2,1761 219.3,1761.3 221.9,1771.9 222,1772 224.6,1774.8 225.8,1776.3 227.3,1781.6 228.5,1786.2 230,1789.6 232.3,1794.4 232.6,1795.2 235.3,1802.1 236.7,1804.8 237.9,1806 240.6,1807.9 241.6,1809.2 243.3,1815.7 243.3,1815.8 245.9,1821.2 248.2,1825.6 248.6,1826.7 251,1834.4 251.3,1835 253.9,1840.3 255.9,1844.2 256.6,1845.8 258.6,1850.8 259.2,1852.5 261.9,1859.6 262.5,1860.7 264.6,1863.1 265.2,1864 267.2,1869 269,1873.8 269.9,1875.7 271.8,1879.3 272.6,1880.7 275.2,1885.5 276.7,1888.1 277.9,1889.9 280.5,1894.7 280.5,1894.8 283.2,1907.5 283.3,1907.8 285.9,1911.6 287.7,1914.4 288.5,1917.1 291,1927.5 291.2,1927.9 293.2,1930.8 293.8,1931.6 296.5,1934.6 297.5,1936.3 299.2,1943 300.8,1949.5 301.8,1951.1 304.5,1953.5 307.2,1956.6 307.4,1957.1 309.6,1967 309.8,1967.7 312.3,1973.6 312.5,1974 315.1,1978.9 316.2,1981.2 317.8,1986 319.5,1991.1 320.5,1993.4 322.7,1997.7 323.1,1998.2 325.8,2000.7 326,2001 328.2,2009.7 328.5,2010.4 330.4,2014.7" fill="none" stroke="#ff0000" stroke-width="3.0" stroke-linejoin="round"/>
<path d="M112.8,1483.4L114.9,1487.2L119.2,1487.1L116.9,1490.8L119.2,1494.5L114.9,1494.4L112.8,1498.2L110.8,1494.4L106.4,1494.5L108.7,1490.8L106.4,1487.1L110.8,1487.2Z" fill="#ff0000"/>
<path d="M152.8,1604.3L154.8,1608.1L159.2,1608L156.9,1611.7L159.2,1615.4L154.8,1615.2L152.8,1619.1L150.7,1615.2L146.4,1615.4L148.7,1611.7L146.4,1608L150.7,1608.1Z" fill="#ff0000"/>
<path d="M192.7,1694.7L194.7,1698.6L199.1,1698.4L196.8,1702.1L199.1,1705.8L194.7,1705.7L192.7,1709.5L190.6,1705.7L186.3,1705.8L188.6,1702.1L186.3,1698.4L190.6,1698.6Z" fill="#ff0000"/>
<path d="M232.6,1787.8L234.7,1791.6L239,1791.5L236.7,1795.2L239,1798.9L234.7,1798.7L232.6,1802.6L230.6,1798.7L226.2,1798.9L228.5,1795.2L226.2,1791.5L230.6,1791.6Z" fill="#ff0000"/>
<path d="M272.6,1873.3L274.6,1877.1L279,1877L276.7,1880.7L279,1884.4L274.6,1884.2L272.6,1888.1L270.5,1884.2L266.1,1884.4L268.5,1880.7L266.1,1877L270.5,1877.1Z" fill="#ff0000"/>
<path d="M312.5,1966.6L314.5,1970.4L318.9,1970.3L316.6,1974L318.9,1977.7L314.5,1977.5L312.5,1981.4L310.4,1977.5L306.1,1977.7L308.4,1974L306.1,1970.3L310.4,1970.4Z" fill="#ff0000"/>
<text x="444" y="1483.8" font-family="'Liberation Serif', 'Times New Roman', serif" font-size="27" text-anchor="middle" fill="#000">Objective Space</text>
<text x="443.5" y="2080.3" font-family="'Liberation Serif', 'Times New Roman', serif" font-size="26.8" text-anchor="middle" fill="#000">Iteration</text>
<text transform="translate(31,1753) rotate(-90)" font-family="'Liberation Serif', 'Times New Roman', serif" font-size="27" text-anchor="middle" fill="#000">Best finess obtianed so far</text>
<rect x="482.9" y="1864.8" width="277.8" height="134.8" fill="#fff" stroke="#262626" stroke-width="3"/>
<path d="M488.9,1879.9h61.5" stroke="#000000" stroke-width="3.2"/>

<text x="554.7" y="1887.4" font-family="'Liberation Serif', 'Times New Roman', serif" font-size="21.5" fill="#000">GWO</text>
<path d="M488.9,1906h61.5" stroke="#00ff00" stroke-width="3.2"/>
<path d="M516.1,1902.4L523.3,1909.6M516.1,1909.6L523.3,1902.4" stroke="#00ff00" stroke-width="2.6" fill="none"/>
<text x="554.7" y="1913.5" font-family="'Liberation Serif', 'Times New Roman', serif" font-size="21.5" fill="#000">SCA</text>
<path d="M488.9,1932.1h61.5" stroke="#ffff00" stroke-width="3.2"/>
<path d="M519.7,1924.6L524.5,1932.1L519.7,1939.6L514.9,1932.1Z" fill="#ffff00" stroke="#ffff00" stroke-width="1"/>
<text x="554.7" y="1939.6" font-family="'Liberation Serif', 'Times New Roman', serif" font-size="21.5" fill="#000">SSA</text>
<path d="M488.9,1958.2h61.5" stroke="#ff00ff" stroke-width="3.2"/>
<circle cx="519.7" cy="1958.2" r="4.6" fill="#ff00ff"/>
<text x="554.7" y="1965.7" font-family="'Liberation Serif', 'Times New Roman', serif" font-size="21.5" fill="#000">WCA</text>
<path d="M488.9,1984.3h61.5" stroke="#00ffff" stroke-width="3.2"/>
<path d="M519.7,1977.3L526.7,1989.3L512.7,1989.3Z" fill="#00ffff"/>
<text x="554.7" y="1991.8" font-family="'Liberation Serif', 'Times New Roman', serif" font-size="21.5" fill="#000">WOA</text>
<path d="M619.9,1879.9h61.5" stroke="#33e35a" stroke-width="3.2"/>
<circle cx="650.7" cy="1879.9" r="4.2" fill="#33e35a"/>
<text x="685.7" y="1887.4" font-family="'Liberation Serif', 'Times New Roman', serif" font-size="21.5" fill="#000">MPA</text>
<path d="M619.9,1906h61.5" stroke="#a946e3" stroke-width="3.2"/>
<path d="M650.7,1897.5L652.9,1903.7L659.5,1903.9L654.3,1908L656.2,1914.3L650.7,1910.6L645.2,1914.3L647.1,1908L641.9,1903.9L648.5,1903.7Z" fill="#a946e3"/>
<text x="685.7" y="1913.5" font-family="'Liberation Serif', 'Times New Roman', serif" font-size="21.5" fill="#000">LSA</text>
<path d="M619.9,1932.1h61.5" stroke="#1e9bce" stroke-width="3.2"/>
<path d="M650.7,1924.7L652.7,1928.5L657.1,1928.4L654.8,1932.1L657.1,1935.8L652.7,1935.7L650.7,1939.5L648.6,1935.7L644.3,1935.8L646.6,1932.1L644.3,1928.4L648.6,1928.5Z" fill="#1e9bce"/>
<text x="685.7" y="1939.6" font-family="'Liberation Serif', 'Times New Roman', serif" font-size="21.5" fill="#000">HGSO</text>
<path d="M619.9,1958.2h61.5" stroke="#0000ff" stroke-width="3.2"/>
<path d="M650.7,1950.8L652.7,1954.6L657.1,1954.5L654.8,1958.2L657.1,1961.9L652.7,1961.8L650.7,1965.6L648.6,1961.8L644.3,1961.9L646.6,1958.2L644.3,1954.5L648.6,1954.6Z" fill="#0000ff"/>
<text x="685.7" y="1965.7" font-family="'Liberation Serif', 'Times New Roman', serif" font-size="21.5" fill="#000">TSA</text>
<path d="M619.9,1984.3h61.5" stroke="#ff0000" stroke-width="3.2"/>
<path d="M650.7,1976.9L652.7,1980.7L657.1,1980.6L654.8,1984.3L657.1,1988L652.7,1987.9L650.7,1991.7L648.6,1987.9L644.3,1988L646.6,1984.3L644.3,1980.6L648.6,1980.7Z" fill="#ff0000"/>
<text x="685.7" y="1991.8" font-family="'Liberation Serif', 'Times New Roman', serif" font-size="21.5" fill="#000">TLTSA</text>
<path d="M1048.4,2015.6v-7M1048.4,1491.2v7" stroke="#262626" stroke-width="1.1"/>
<path d="M1115,2015.6v-7M1115,1491.2v7" stroke="#262626" stroke-width="1.1"/>
<path d="M1181.5,2015.6v-7M1181.5,1491.2v7" stroke="#262626" stroke-width="1.1"/>
<path d="M1248.1,2015.6v-7M1248.1,1491.2v7" stroke="#262626" stroke-width="1.1"/>
<path d="M1314.6,2015.6v-7M1314.6,1491.2v7" stroke="#262626" stroke-width="1.1"/>
<path d="M1381.2,2015.6v-7M1381.2,1491.2v7" stroke="#262626" stroke-width="1.1"/>
<path d="M1447.7,2015.6v-7M1447.7,1491.2v7" stroke="#262626" stroke-width="1.1"/>
<path d="M1514.2,2015.6v-7M1514.2,1491.2v7" stroke="#262626" stroke-width="1.1"/>
<path d="M1580.8,2015.6v-7M1580.8,1491.2v7" stroke="#262626" stroke-width="1.1"/>
<path d="M1647.3,2015.6v-7M1647.3,1491.2v7" stroke="#262626" stroke-width="1.1"/>
<path d="M1015,1991.8h7M1680,1991.8h-7" stroke="#262626" stroke-width="1.1"/>
<text x="1005.3" y="1999.2" font-family="'Liberation Sans', Arial, Helvetica, sans-serif" font-size="19.6" text-anchor="end" fill="#262626">0</text>
<path d="M1015,1900.8h7M1680,1900.8h-7" stroke="#262626" stroke-width="1.1"/>
<text x="1005.3" y="1908.2" font-family="'Liberation Sans', Arial, Helvetica, sans-serif" font-size="19.6" text-anchor="end" fill="#262626">200</text>
<path d="M1015,1809.8h7M1680,1809.8h-7" stroke="#262626" stroke-width="1.1"/>
<text x="1005.3" y="1817.2" font-family="'Liberation Sans', Arial, Helvetica, sans-serif" font-size="19.6" text-anchor="end" fill="#262626">400</text>
<path d="M1015,1718.8h7M1680,1718.8h-7" stroke="#262626" stroke-width="1.1"/>
<text x="1005.3" y="1726.2" font-family="'Liberation Sans', Arial, Helvetica, sans-serif" font-size="19.6" text-anchor="end" fill="#262626">600</text>
<path d="M1015,1627.8h7M1680,1627.8h-7" stroke="#262626" stroke-width="1.1"/>
<text x="1005.3" y="1635.2" font-family="'Liberation Sans', Arial, Helvetica, sans-serif" font-size="19.6" text-anchor="end" fill="#262626">800</text>
<path d="M1015,1536.8h7M1680,1536.8h-7" stroke="#262626" stroke-width="1.1"/>
<text x="1005.3" y="1544.2" font-family="'Liberation Sans', Arial, Helvetica, sans-serif" font-size="19.6" text-anchor="end" fill="#262626">1000</text>
<text x="1048.4" y="2044" font-family="'Liberation Sans', Arial, Helvetica, sans-serif" font-size="19.5" text-anchor="middle" fill="#262626">GWO</text>
<text x="1115" y="2044" font-family="'Liberation Sans', Arial, Helvetica, sans-serif" font-size="19.5" text-anchor="middle" fill="#262626">SCA</text>
<text x="1181.5" y="2044" font-family="'Liberation Sans', Arial, Helvetica, sans-serif" font-size="19.5" text-anchor="middle" fill="#262626">SSA</text>
<text x="1248.1" y="2044" font-family="'Liberation Sans', Arial, Helvetica, sans-serif" font-size="19.5" text-anchor="middle" fill="#262626">WCA</text>
<text x="1314.6" y="2044" font-family="'Liberation Sans', Arial, Helvetica, sans-serif" font-size="19.5" text-anchor="middle" fill="#262626">WOA</text>
<text x="1381.2" y="2044" font-family="'Liberation Sans', Arial, Helvetica, sans-serif" font-size="19.5" text-anchor="middle" fill="#262626">MPA</text>
<text x="1447.7" y="2044" font-family="'Liberation Sans', Arial, Helvetica, sans-serif" font-size="19.5" text-anchor="middle" fill="#262626">LSA</text>
<text x="1514.2" y="2044" font-family="'Liberation Sans', Arial, Helvetica, sans-serif" font-size="19.5" text-anchor="middle" fill="#262626">HGSO</text>
<text x="1580.8" y="2044" font-family="'Liberation Sans', Arial, Helvetica, sans-serif" font-size="19.5" text-anchor="middle" fill="#262626">TSA</text>
<text x="1647.3" y="2044" font-family="'Liberation Sans', Arial, Helvetica, sans-serif" font-size="19.5" text-anchor="middle" fill="#262626">TLTSA</text>
<text transform="translate(951,1754.5) rotate(-90)" font-family="'Liberation Sans', Arial, Helvetica, sans-serif" font-size="22.5" text-anchor="middle" fill="#262626">Best fitness obtained so far</text>
<path d="M1032,1991.8h32.9" stroke="#0000ff" stroke-width="1.3"/>
<path d="M1032.5,1991.8h31.7" stroke="#ff0000" stroke-width="1.5"/>
<path d="M1115,1912.1V1888.8" stroke="#333" stroke-width="1.5" stroke-dasharray="6.5,4.5"/>
<path d="M1106.7,1888.5h16.6" stroke="#000" stroke-width="1.2"/>
<path d="M1115,1949.9V1968.5" stroke="#333" stroke-width="1.5" stroke-dasharray="6.5,4.5"/>
<path d="M1106.7,1968.5h16.6" stroke="#000" stroke-width="1.2"/>
<rect x="1098.5" y="1912.1" width="32.9" height="37.8" fill="none" stroke="#0000ff" stroke-width="1.3"/>
<path d="M1099.1,1937.5h31.7" stroke="#ff0000" stroke-width="1.3"/>
<path d="M1181.5,1853V1794.6" stroke="#333" stroke-width="1.5" stroke-dasharray="6.5,4.5"/>
<path d="M1173.2,1794.5h16.6" stroke="#000" stroke-width="1.2"/>
<path d="M1181.5,1896V1922" stroke="#333" stroke-width="1.5" stroke-dasharray="6.5,4.5"/>
<path d="M1173.2,1922.5h16.6" stroke="#000" stroke-width="1.2"/>
<rect x="1165" y="1853" width="32.9" height="43" fill="none" stroke="#0000ff" stroke-width="1.3"/>
<path d="M1165.6,1875.4h31.7" stroke="#ff0000" stroke-width="1.3"/>
<path d="M1248.1,1891.4V1856.7" stroke="#333" stroke-width="1.5" stroke-dasharray="6.5,4.5"/>
<path d="M1239.8,1856.5h16.6" stroke="#000" stroke-width="1.2"/>
<path d="M1248.1,1937V1978.9" stroke="#333" stroke-width="1.5" stroke-dasharray="6.5,4.5"/>
<path d="M1239.8,1978.5h16.6" stroke="#000" stroke-width="1.2"/>
<rect x="1231.6" y="1891.4" width="32.9" height="45.6" fill="none" stroke="#0000ff" stroke-width="1.3"/>
<path d="M1232.2,1914.7h31.7" stroke="#ff0000" stroke-width="1.3"/>
<path d="M1314.6,1566.8V1515" stroke="#333" stroke-width="1.5" stroke-dasharray="6.5,4.5"/>
<path d="M1306.3,1515.5h16.6" stroke="#000" stroke-width="1.2"/>
<path d="M1314.6,1640.3V1721" stroke="#333" stroke-width="1.5" stroke-dasharray="6.5,4.5"/>
<path d="M1306.3,1721.5h16.6" stroke="#000" stroke-width="1.2"/>
<rect x="1298.2" y="1566.8" width="32.9" height="73.5" fill="none" stroke="#0000ff" stroke-width="1.3"/>
<path d="M1298.8,1604.6h31.7" stroke="#ff0000" stroke-width="1.3"/>
<path d="M1364.7,1991.8h32.9" stroke="#0000ff" stroke-width="1.3"/>
<path d="M1365.3,1991.8h31.7" stroke="#ff0000" stroke-width="1.5"/>
<path d="M1447.7,1937.5V1921.4" stroke="#333" stroke-width="1.5" stroke-dasharray="6.5,4.5"/>
<path d="M1439.4,1921.5h16.6" stroke="#000" stroke-width="1.2"/>
<path d="M1447.7,1949.9V1962.8" stroke="#333" stroke-width="1.5" stroke-dasharray="6.5,4.5"/>
<path d="M1439.4,1962.5h16.6" stroke="#000" stroke-width="1.2"/>
<rect x="1431.2" y="1937.5" width="32.9" height="12.4" fill="none" stroke="#0000ff" stroke-width="1.3"/>
<path d="M1431.8,1942.1h31.7" stroke="#ff0000" stroke-width="1.3"/>
<path d="M1497.8,1991.8h32.9" stroke="#0000ff" stroke-width="1.3"/>
<path d="M1498.4,1991.8h31.7" stroke="#ff0000" stroke-width="1.5"/>
<path d="M1564.4,1991.8h32.9" stroke="#0000ff" stroke-width="1.3"/>
<path d="M1565,1991.8h31.7" stroke="#ff0000" stroke-width="1.5"/>
<path d="M1630.9,1991.8h32.9" stroke="#0000ff" stroke-width="1.3"/>
<path d="M1631.5,1991.8h31.7" stroke="#ff0000" stroke-width="1.5"/>
<path d="M1042.4,1991.8h12M1048.4,1985.8v12" stroke="#ff0000" stroke-width="1.3"/>
<path d="M1375.2,1991.8h12M1381.2,1985.8v12" stroke="#ff0000" stroke-width="1.3"/>
<path d="M1508.2,1991.8h12M1514.2,1985.8v12" stroke="#ff0000" stroke-width="1.3"/>
<path d="M1574.8,1991.8h12M1580.8,1985.8v12" stroke="#ff0000" stroke-width="1.3"/>
<rect x="1015.3" y="1491.2" width="665" height="524.4" fill="none" stroke="#505050" stroke-width="1.4"/>
<text x="881" y="2129.5" font-family="'Liberation Serif', 'Times New Roman', serif" font-size="43.5" font-weight="bold" text-anchor="middle" fill="#000" textLength="64.5" lengthAdjust="spacingAndGlyphs">F14</text>
<path d="M111.5,2186V2711H778.5" fill="none" stroke="#262626" stroke-width="3"/>
<path d="M111.5,2711v-7" stroke="#262626" stroke-width="2.6"/>
<text x="111.5" y="2742.5" font-family="'Liberation Serif', 'Times New Roman', serif" font-size="24" text-anchor="middle" fill="#000">0</text>
<path d="M244.6,2711v-7" stroke="#262626" stroke-width="2.6"/>
<text x="244.6" y="2742.5" font-family="'Liberation Serif', 'Times New Roman', serif" font-size="24" text-anchor="middle" fill="#000">100</text>
<path d="M377.7,2711v-7" stroke="#262626" stroke-width="2.6"/>
<text x="377.7" y="2742.5" font-family="'Liberation Serif', 'Times New Roman', serif" font-size="24" text-anchor="middle" fill="#000">200</text>
<path d="M510.8,2711v-7" stroke="#262626" stroke-width="2.6"/>
<text x="510.8" y="2742.5" font-family="'Liberation Serif', 'Times New Roman', serif" font-size="24" text-anchor="middle" fill="#000">300</text>
<path d="M643.9,2711v-7" stroke="#262626" stroke-width="2.6"/>
<text x="643.9" y="2742.5" font-family="'Liberation Serif', 'Times New Roman', serif" font-size="24" text-anchor="middle" fill="#000">400</text>
<path d="M777,2711v-7" stroke="#262626" stroke-width="2.6"/>
<text x="777" y="2742.5" font-family="'Liberation Serif', 'Times New Roman', serif" font-size="24" text-anchor="middle" fill="#000">500</text>
<path d="M111.5,2185.1h7" stroke="#262626" stroke-width="2.6"/>
<text x="101" y="2197.1" font-family="'Liberation Serif', 'Times New Roman', serif" font-size="24" text-anchor="end" fill="#000">10<tspan dy="-11.5" font-size="18.5">0</tspan></text>
<path d="M111.5,2347.4h7" stroke="#262626" stroke-width="2.6"/>
<text x="101" y="2359.4" font-family="'Liberation Serif', 'Times New Roman', serif" font-size="24" text-anchor="end" fill="#000">10<tspan dy="-11.5" font-size="18.5">-100</tspan></text>
<path d="M111.5,2509.8h7" stroke="#262626" stroke-width="2.6"/>
<text x="101" y="2521.8" font-family="'Liberation Serif', 'Times New Roman', serif" font-size="24" text-anchor="end" fill="#000">10<tspan dy="-11.5" font-size="18.5">-200</tspan></text>
<path d="M111.5,2672.1h7" stroke="#262626" stroke-width="2.6"/>
<text x="101" y="2684.1" font-family="'Liberation Serif', 'Times New Roman', serif" font-size="24" text-anchor="end" fill="#000">10<tspan dy="-11.5" font-size="18.5">-300</tspan></text>
<path d="M111.5,2201.3h5" stroke="#262626" stroke-width="2.4"/>
<path d="M111.5,2217.6h5" stroke="#262626" stroke-width="2.4"/>
<path d="M111.5,2233.8h5" stroke="#262626" stroke-width="2.4"/>
<path d="M111.5,2250h5" stroke="#262626" stroke-width="2.4"/>
<path d="M111.5,2266.3h5" stroke="#262626" stroke-width="2.4"/>
<path d="M111.5,2282.5h5" stroke="#262626" stroke-width="2.4"/>
<path d="M111.5,2298.7h5" stroke="#262626" stroke-width="2.4"/>
<path d="M111.5,2315h5" stroke="#262626" stroke-width="2.4"/>
<path d="M111.5,2331.2h5" stroke="#262626" stroke-width="2.4"/>
<path d="M111.5,2363.7h5" stroke="#262626" stroke-width="2.4"/>
<path d="M111.5,2379.9h5" stroke="#262626" stroke-width="2.4"/>
<path d="M111.5,2396.2h5" stroke="#262626" stroke-width="2.4"/>
<path d="M111.5,2412.4h5" stroke="#262626" stroke-width="2.4"/>
<path d="M111.5,2428.6h5" stroke="#262626" stroke-width="2.4"/>
<path d="M111.5,2444.9h5" stroke="#262626" stroke-width="2.4"/>
<path d="M111.5,2461.1h5" stroke="#262626" stroke-width="2.4"/>
<path d="M111.5,2477.3h5" stroke="#262626" stroke-width="2.4"/>
<path d="M111.5,2493.6h5" stroke="#262626" stroke-width="2.4"/>
<path d="M111.5,2526h5" stroke="#262626" stroke-width="2.4"/>
<path d="M111.5,2542.3h5" stroke="#262626" stroke-width="2.4"/>
<path d="M111.5,2558.5h5" stroke="#262626" stroke-width="2.4"/>
<path d="M111.5,2574.7h5" stroke="#262626" stroke-width="2.4"/>
<path d="M111.5,2591h5" stroke="#262626" stroke-width="2.4"/>
<path d="M111.5,2607.2h5" stroke="#262626" stroke-width="2.4"/>
<path d="M111.5,2623.4h5" stroke="#262626" stroke-width="2.4"/>
<path d="M111.5,2639.7h5" stroke="#262626" stroke-width="2.4"/>
<path d="M111.5,2655.9h5" stroke="#262626" stroke-width="2.4"/>
<path d="M111.5,2688.4h5" stroke="#262626" stroke-width="2.4"/>
<path d="M111.5,2704.6h5" stroke="#262626" stroke-width="2.4"/>
<polyline points="112.8,2185.6 115.5,2187.5 118.2,2189.4 120.8,2191.3 123.5,2193.3 126.1,2195.2 128.8,2197.2 131.5,2199.2 134.1,2201.2 136.8,2203.2 139.5,2205.2 142.1,2207.2 144.8,2209.3 147.4,2211.4 150.1,2213.4 150.8,2214 152.8,2215.6 155.4,2217.7 158.1,2219.8 160.7,2222 163.4,2224.2 166.1,2226.4 168.7,2228.7 171.4,2230.9 174.1,2233.1 176.7,2235.4 179.4,2237.6 182,2239.9 184.7,2242.1 187.4,2244.4 190,2246.6 191.7,2248 192.7,2248.8 195.4,2251 198,2253.2 200.7,2255.4 203.3,2257.6 206,2259.8 208.7,2261.9 211.3,2264.1 214,2266.3 216.6,2268.5 219.3,2270.7 222,2273 224.6,2275.2 227.3,2277.5 230,2279.8 232.5,2282 232.6,2282.1 235.3,2284.5 237.9,2286.8 240.6,2289.3 243.3,2291.7 245.9,2294.1 248.6,2296.6 251.3,2299.1 253.9,2301.6 256.6,2304.1 259.2,2306.6 260,2307.3 261.9,2309.1 264.6,2311.6 267.2,2314.1 269.9,2316.7 272.6,2319.3 273.3,2320 275.2,2321.9 277.9,2324.5 280.5,2327.2 283.2,2329.9 285.9,2332.6 286.7,2333.4 288.5,2335.2 291.2,2337.9 293.8,2340.6 296.5,2343.2 299.2,2345.9 300,2346.7 301.8,2348.5 304.5,2351.2 307.2,2353.9 309.8,2356.5 312.5,2359.1 313.4,2360 315.1,2361.6 317.8,2364 320.5,2366.3 323.1,2368.6 325.8,2371.1 326.7,2372 328.5,2373.8 331.1,2376.7 333.8,2379.7 336.4,2382.7 339.1,2385.7 340,2386.7 341.8,2388.7 344.4,2391.7 347.1,2394.7 349.7,2397.6 352.4,2400.4 353.4,2401.4 355.1,2403 357.7,2405.4 360.4,2407.8 363.1,2410.1 365.7,2412.5 366.7,2413.4 368.4,2415 371,2417.5 373.7,2420 376.4,2422.7 379,2425.5 380.1,2426.7 381.7,2428.6 384.4,2432 387,2435.6 389.7,2439.2 392.3,2442.8 393.4,2444.1 395,2446.1 397.7,2449.4 400.3,2452.6 403,2455.8 405.7,2458.8 406.8,2460.1 408.3,2461.7 411,2464.4 413.6,2467 416.3,2469.6 419,2472.3 420.1,2473.5 421.6,2475.2 424.3,2478.1 426.9,2481.2 429.6,2484.4 432.3,2487.8 433.5,2489.5 434.9,2491.7 437.6,2496.2 440.1,2500.1 440.3,2500.3 442.9,2503.9 445.6,2507 446.8,2508.1 448.2,2509.1 450.9,2510.5 453.6,2511.7 456.2,2512.8 458.9,2514.1 460,2514.8 461.6,2515.9 464.2,2518.3 466.9,2520.4 467.1,2520.5 469.5,2521.9 472.2,2523.2 474.9,2524.3 477.5,2525.5 480,2526.5 480.2,2526.6 482.8,2527.7 485.5,2528.8 488.2,2529.9 490.8,2530.9 493.5,2532 496.2,2533 498.8,2534.1 501.2,2535 501.5,2535.1 504.1,2536.2 506.8,2537.3 509.5,2538.4 512.1,2539.5 514.8,2540.6 517.5,2541.7 520.1,2542.7 522.8,2543.7 525,2544.5 525.4,2544.7 528.1,2545.6 530.8,2546.5 533.4,2547.4 536.1,2548.3 538.8,2549.1 541.4,2550 544.1,2550.8 546.7,2551.5 549.4,2552.3 552.1,2553 552.2,2553 554.7,2553.6 557.4,2554.3 560,2555 562.7,2555.6 565.4,2556.3 568,2556.9 570.7,2557.5 573.4,2558.2 576,2558.8 578.7,2559.3 581.3,2559.9 584,2560.4 586.7,2561 589.3,2561.5 592,2561.9 594.7,2562.4 597.3,2562.8 600,2563.2 602.6,2563.6 603.2,2563.7 605.3,2564 608,2564.3 610.6,2564.7 613.3,2565 615.9,2565.3 618.6,2565.6 621.3,2565.9 623.9,2566.1 626.6,2566.4 629.3,2566.7 631.9,2566.9 634.6,2567.2 637.2,2567.4 639.9,2567.6 642.6,2567.8 645.2,2568.1 647.9,2568.3 650.6,2568.5 653.2,2568.7 654.3,2568.8 655.9,2568.9 658.5,2569.1 661.2,2569.4 663.9,2569.6 666.5,2569.8 669.2,2570 671.9,2570.2 674.5,2570.4 677.2,2570.7 679.8,2570.9 682.5,2571.1 685.2,2571.3 687.8,2571.5 690.5,2571.7 693.1,2571.8 695.8,2572 698.5,2572.2 701.1,2572.3 703.8,2572.5 706.5,2572.6 709.1,2572.8 711.8,2572.9 714.4,2573 717.1,2573.1 719.8,2573.1 722.3,2573.2 722.4,2573.2 725.1,2573.3 727.8,2573.3 730.4,2573.4 733.1,2573.4 735.7,2573.5 738.4,2573.5 741.1,2573.6 743.7,2573.6 746.4,2573.6 749,2573.7 751.7,2573.7 754.4,2573.8 757,2573.8 759.7,2573.8 762.4,2573.8 765,2573.9 767.7,2573.9 770.3,2573.9 773,2573.9 775.7,2573.9 776.8,2573.9" fill="none" stroke="#000000" stroke-width="3.0" stroke-linejoin="round"/>

















<polyline points="112.8,2185.6 115.5,2186.3 118.2,2187 120.8,2187.7 123.5,2188.4 126.1,2189 128.8,2189.7 131.5,2190.3 134.1,2190.9 136.8,2191.5 139.5,2192 142.1,2192.5 144.8,2193 147.4,2193.5 150.1,2193.9 152.8,2194.3 155.4,2194.7 158.1,2195 160.7,2195.3 163.4,2195.6 166.1,2195.8 168.7,2196.1 171.4,2196.3 174.1,2196.6 176.7,2196.8 179.4,2197.1 182,2197.3 184.7,2197.6 187.4,2197.9 190,2198.2 192.7,2198.6 195.4,2199 198,2199.5 200.7,2200 203.3,2200.5 206,2201 208.7,2201.6 211.3,2202.2 214,2202.8 216.6,2203.5 219.3,2204.1 222,2204.8 224.6,2205.4 227.3,2206.1 230,2206.7 232.6,2207.3 235.3,2207.9 237.9,2208.5 240.6,2209.1 243.3,2209.8 245.9,2210.4 248.6,2211 251.3,2211.7 253.9,2212.3 256.6,2213 259.2,2213.6 261.9,2214.2 264.6,2214.9 267.2,2215.5 269.9,2216.2 272.6,2216.8 275.2,2217.4 277.9,2218 280.5,2218.7 283.2,2219.3 285.9,2219.9 288.5,2220.5 291.2,2221.1 293.8,2221.7 296.5,2222.3 299.2,2222.9 301.8,2223.6 304.5,2224.2 307.2,2224.9 309.8,2225.7 312.5,2226.4 315.1,2227.2 317.8,2228 320.5,2228.9 323.1,2229.8 325.8,2230.7 328.5,2231.6 331.1,2232.6 333.8,2233.6 336.4,2234.6 339.1,2235.6 341.8,2236.6 344.4,2237.6 347.1,2238.6 349.7,2239.5 352.4,2240.5 355.1,2241.4 357.7,2242.4 360.4,2243.3 363.1,2244.3 365.7,2245.2 368.4,2246.1 371,2247 373.7,2248 376.4,2248.9 379,2249.9 381.7,2250.9 384.4,2251.9 387,2252.9 389.7,2253.9 392.3,2255 395,2256.1 397.7,2257.2 400.3,2258.4 403,2259.6 405.7,2260.9 408.3,2262.1 411,2263.4 413.6,2264.7 416.3,2265.9 419,2267.2 421.6,2268.4 424.3,2269.7 426.9,2270.9 429.6,2272.1 432.3,2273.2 434.9,2274.3 437.6,2275.5 440.3,2276.6 442.9,2277.8 445.6,2279 448.2,2280.1 450.9,2281.2 453.6,2282.3 456.2,2283.4 458.9,2284.5 461.6,2285.4 464.2,2286.4 466.9,2287.3 469.5,2288.1 472.2,2288.8 474.9,2289.5 477.5,2290.1 480.2,2290.7 482.8,2291.3 485.5,2291.9 488.2,2292.4 490.8,2292.9 493.5,2293.4 496.2,2293.9 498.8,2294.3 501.5,2294.8 504.1,2295.2 506.8,2295.7 509.5,2296.1 512.1,2296.6 514.8,2297.1 517.5,2297.5 520.1,2298 522.8,2298.4 525.4,2298.8 528.1,2299.3 530.8,2299.7 533.4,2300.1 536.1,2300.5 538.8,2300.9 541.4,2301.3 544.1,2301.7 546.7,2302 549.4,2302.4 552.1,2302.7 554.7,2303 557.4,2303.3 560,2303.7 562.7,2304 565.4,2304.3 568,2304.6 570.7,2304.9 573.4,2305.2 576,2305.4 578.7,2305.7 581.3,2305.9 584,2306.2 586.7,2306.4 589.3,2306.6 592,2306.8 594.7,2307 597.3,2307.2 600,2307.3 602.6,2307.5 605.3,2307.6 608,2307.8 610.6,2307.9 613.3,2308.1 615.9,2308.2 618.6,2308.3 621.3,2308.5 623.9,2308.6 626.6,2308.7 629.3,2308.8 631.9,2308.9 634.6,2309 637.2,2309.1 639.9,2309.2 642.6,2309.3 645.2,2309.4 647.9,2309.5 650.6,2309.6 653.2,2309.7 655.9,2309.7 658.5,2309.8 661.2,2309.9 663.9,2309.9 666.5,2310 669.2,2310 671.9,2310 674.5,2310 677.2,2310 679.8,2310 682.5,2310 685.2,2310.1 687.8,2310.1 690.5,2310.1 693.1,2310.1 695.8,2310.1 698.5,2310.1 701.1,2310.1 703.8,2310.1 706.5,2310.1 709.1,2310.1 711.8,2310.1 714.4,2310.1 717.1,2310.1 719.8,2310.1 722.4,2310.2 725.1,2310.2 727.8,2310.2 730.4,2310.2 733.1,2310.2 735.7,2310.2 738.4,2310.2 741.1,2310.2 743.7,2310.2 746.4,2310.2 749,2310.2 751.7,2310.2 754.4,2310.2 757,2310.2 759.7,2310.2 762.4,2310.2 765,2310.2 767.7,2310.2 770.3,2310.2 773,2310.2 775.7,2310.2 777,2310.2" fill="none" stroke="#00ff00" stroke-width="3.0" stroke-linejoin="round"/>
<path d="M109.2,2182L116.4,2189.2M109.2,2189.2L116.4,2182" stroke="#00ff00" stroke-width="2.6" fill="none"/>
<path d="M149.2,2190.7L156.4,2197.9M149.2,2197.9L156.4,2190.7" stroke="#00ff00" stroke-width="2.6" fill="none"/>
<path d="M189.1,2195L196.3,2202.2M189.1,2202.2L196.3,2195" stroke="#00ff00" stroke-width="2.6" fill="none"/>
<path d="M229,2203.7L236.2,2210.9M229,2210.9L236.2,2203.7" stroke="#00ff00" stroke-width="2.6" fill="none"/>
<path d="M269,2213.2L276.2,2220.4M269,2220.4L276.2,2213.2" stroke="#00ff00" stroke-width="2.6" fill="none"/>
<path d="M308.9,2222.8L316.1,2230M308.9,2230L316.1,2222.8" stroke="#00ff00" stroke-width="2.6" fill="none"/>
<path d="M348.8,2236.9L356,2244.1M348.8,2244.1L356,2236.9" stroke="#00ff00" stroke-width="2.6" fill="none"/>
<path d="M388.7,2251.4L395.9,2258.6M388.7,2258.6L395.9,2251.4" stroke="#00ff00" stroke-width="2.6" fill="none"/>
<path d="M428.7,2269.6L435.9,2276.8M428.7,2276.8L435.9,2269.6" stroke="#00ff00" stroke-width="2.6" fill="none"/>
<path d="M468.6,2285.2L475.8,2292.4M468.6,2292.4L475.8,2285.2" stroke="#00ff00" stroke-width="2.6" fill="none"/>
<path d="M508.5,2293L515.7,2300.2M508.5,2300.2L515.7,2293" stroke="#00ff00" stroke-width="2.6" fill="none"/>
<path d="M548.5,2299.1L555.7,2306.3M548.5,2306.3L555.7,2299.1" stroke="#00ff00" stroke-width="2.6" fill="none"/>
<path d="M588.4,2303.2L595.6,2310.4M588.4,2310.4L595.6,2303.2" stroke="#00ff00" stroke-width="2.6" fill="none"/>
<path d="M628.3,2305.3L635.5,2312.5M628.3,2312.5L635.5,2305.3" stroke="#00ff00" stroke-width="2.6" fill="none"/>
<path d="M668.3,2306.4L675.5,2313.6M668.3,2313.6L675.5,2306.4" stroke="#00ff00" stroke-width="2.6" fill="none"/>
<path d="M708.2,2306.5L715.4,2313.7M708.2,2313.7L715.4,2306.5" stroke="#00ff00" stroke-width="2.6" fill="none"/>
<path d="M748.1,2306.6L755.3,2313.8M748.1,2313.8L755.3,2306.6" stroke="#00ff00" stroke-width="2.6" fill="none"/>
<polyline points="112.8,2185.6 115.5,2185.8 118.2,2186 120.8,2186.3 123.5,2186.5 126.1,2186.7 128.8,2186.8 131.5,2187 134.1,2187.2 136.8,2187.4 139.5,2187.5 142.1,2187.6 144.8,2187.8 147.4,2187.9 150.1,2187.9 152.8,2188 155.4,2188.1 158.1,2188.1 160.7,2188.1 163.4,2188.2 166.1,2188.2 168.7,2188.2 171.4,2188.3 174.1,2188.3 176.7,2188.3 179.4,2188.4 182,2188.4 184.7,2188.4 187.4,2188.4 190,2188.5 192.7,2188.5 195.4,2188.5 198,2188.6 200.7,2188.6 203.3,2188.6 206,2188.7 208.7,2188.7 211.3,2188.7 214,2188.7 216.6,2188.8 219.3,2188.8 222,2188.8 224.6,2188.8 227.3,2188.9 230,2188.9 232.6,2188.9 235.3,2188.9 237.9,2189 240.6,2189 243.3,2189 245.9,2189 248.6,2189 251.3,2189.1 253.9,2189.1 256.6,2189.1 259.2,2189.2 261.9,2189.2 264.6,2189.2 267.2,2189.2 269.9,2189.3 272.6,2189.3 275.2,2189.3 277.9,2189.4 280.5,2189.4 283.2,2189.5 285.9,2189.5 288.5,2189.5 291.2,2189.6 293.8,2189.6 296.5,2189.7 299.2,2189.7 301.8,2189.8 304.5,2189.8 307.2,2189.9 309.8,2189.9 312.5,2190 315.1,2190.1 317.8,2190.2 320.5,2190.3 323.1,2190.5 325.8,2190.7 328.5,2190.8 331.1,2191 333.8,2191.2 336.4,2191.4 339.1,2191.7 341.8,2191.9 344.4,2192 347.1,2192.2 349.7,2192.4 352.4,2192.5 355.1,2192.6 357.7,2192.7 360.4,2192.9 363.1,2193 365.7,2193.1 368.4,2193.2 371,2193.3 373.7,2193.4 376.4,2193.5 379,2193.6 381.7,2193.7 384.4,2193.8 387,2193.9 389.7,2194 392.3,2194 395,2194.1 397.7,2194.2 400.3,2194.3 403,2194.4 405.7,2194.5 408.3,2194.5 411,2194.6 413.6,2194.7 416.3,2194.8 419,2194.8 421.6,2194.9 424.3,2195 426.9,2195.1 429.6,2195.1 432.3,2195.2 434.9,2195.3 437.6,2195.3 440.3,2195.4 442.9,2195.5 445.6,2195.5 448.2,2195.6 450.9,2195.6 453.6,2195.7 456.2,2195.7 458.9,2195.8 461.6,2195.8 464.2,2195.9 466.9,2195.9 469.5,2196 472.2,2196.1 474.9,2196.1 477.5,2196.2 480.2,2196.2 482.8,2196.3 485.5,2196.3 488.2,2196.4 490.8,2196.4 493.5,2196.5 496.2,2196.5 498.8,2196.6 501.5,2196.6 504.1,2196.7 506.8,2196.8 509.5,2196.8 512.1,2196.9 514.8,2197 517.5,2197 520.1,2197.1 522.8,2197.2 525.4,2197.3 528.1,2197.4 530.8,2197.5 533.4,2197.5 536.1,2197.6 538.8,2197.7 541.4,2197.8 544.1,2197.9 546.7,2198 549.4,2198.1 552.1,2198.2 554.7,2198.3 557.4,2198.4 560,2198.5 562.7,2198.6 565.4,2198.7 568,2198.8 570.7,2198.9 573.4,2199 576,2199.1 578.7,2199.2 581.3,2199.3 584,2199.3 586.7,2199.4 589.3,2199.5 592,2199.6 594.7,2199.7 597.3,2199.8 600,2199.8 602.6,2199.9 605.3,2200 608,2200 610.6,2200.1 613.3,2200.2 615.9,2200.2 618.6,2200.3 621.3,2200.4 623.9,2200.5 626.6,2200.5 629.3,2200.6 631.9,2200.7 634.6,2200.8 637.2,2200.9 639.9,2201 642.6,2201.1 645.2,2201.1 647.9,2201.2 650.6,2201.3 653.2,2201.4 655.9,2201.5 658.5,2201.6 661.2,2201.7 663.9,2201.9 666.5,2202 669.2,2202.1 671.9,2202.2 674.5,2202.3 677.2,2202.5 679.8,2202.6 682.5,2202.7 685.2,2202.9 687.8,2203.1 690.5,2203.2 693.1,2203.4 695.8,2203.5 698.5,2203.7 701.1,2203.9 703.8,2204 706.5,2204.2 709.1,2204.3 711.8,2204.5 714.4,2204.7 717.1,2204.8 719.8,2204.9 722.4,2205.1 725.1,2205.2 727.8,2205.4 730.4,2205.5 733.1,2205.7 735.7,2205.8 738.4,2205.9 741.1,2206.1 743.7,2206.3 746.4,2206.4 749,2206.6 751.7,2206.8 754.4,2207 757,2207.2 759.7,2207.4 762.4,2207.7 765,2207.9 767.7,2208.2 770.3,2208.4 773,2208.7 775.7,2209 777,2209.1" fill="none" stroke="#ffff00" stroke-width="3.0" stroke-linejoin="round"/>
<path d="M112.8,2178.1L117.6,2185.6L112.8,2193.1L108,2185.6Z" fill="#ffff00" stroke="#ffff00" stroke-width="1"/>
<path d="M152.8,2180.5L157.6,2188L152.8,2195.5L148,2188Z" fill="#ffff00" stroke="#ffff00" stroke-width="1"/>
<path d="M192.7,2181L197.5,2188.5L192.7,2196L187.9,2188.5Z" fill="#ffff00" stroke="#ffff00" stroke-width="1"/>
<path d="M232.6,2181.4L237.4,2188.9L232.6,2196.4L227.8,2188.9Z" fill="#ffff00" stroke="#ffff00" stroke-width="1"/>
<path d="M272.6,2181.8L277.4,2189.3L272.6,2196.8L267.8,2189.3Z" fill="#ffff00" stroke="#ffff00" stroke-width="1"/>
<path d="M312.5,2182.5L317.3,2190L312.5,2197.5L307.7,2190Z" fill="#ffff00" stroke="#ffff00" stroke-width="1"/>
<path d="M352.4,2185L357.2,2192.5L352.4,2200L347.6,2192.5Z" fill="#ffff00" stroke="#ffff00" stroke-width="1"/>
<path d="M392.3,2186.5L397.1,2194L392.3,2201.5L387.5,2194Z" fill="#ffff00" stroke="#ffff00" stroke-width="1"/>
<path d="M432.3,2187.7L437.1,2195.2L432.3,2202.7L427.5,2195.2Z" fill="#ffff00" stroke="#ffff00" stroke-width="1"/>
<path d="M472.2,2188.6L477,2196.1L472.2,2203.6L467.4,2196.1Z" fill="#ffff00" stroke="#ffff00" stroke-width="1"/>
<path d="M512.1,2189.4L516.9,2196.9L512.1,2204.4L507.3,2196.9Z" fill="#ffff00" stroke="#ffff00" stroke-width="1"/>
<path d="M552.1,2190.7L556.9,2198.2L552.1,2205.7L547.3,2198.2Z" fill="#ffff00" stroke="#ffff00" stroke-width="1"/>
<path d="M592,2192.1L596.8,2199.6L592,2207.1L587.2,2199.6Z" fill="#ffff00" stroke="#ffff00" stroke-width="1"/>
<path d="M631.9,2193.2L636.7,2200.7L631.9,2208.2L627.1,2200.7Z" fill="#ffff00" stroke="#ffff00" stroke-width="1"/>
<path d="M671.9,2194.7L676.7,2202.2L671.9,2209.7L667.1,2202.2Z" fill="#ffff00" stroke="#ffff00" stroke-width="1"/>
<path d="M711.8,2197L716.6,2204.5L711.8,2212L707,2204.5Z" fill="#ffff00" stroke="#ffff00" stroke-width="1"/>
<path d="M751.7,2199.3L756.5,2206.8L751.7,2214.3L746.9,2206.8Z" fill="#ffff00" stroke="#ffff00" stroke-width="1"/>
<polyline points="112.8,2185.6 115.5,2190.1 118.2,2194.4 120.8,2198.5 123.5,2202.5 123.6,2202.7 126.1,2206.4 128.8,2210.1 131.5,2213.7 134.1,2217.1 136.8,2220.3 137.2,2220.8 139.5,2223.2 142.1,2225.7 144.8,2228.3 146.3,2229.9 147.4,2231.2 150.1,2234.6 152,2236.8 152.8,2237.6 155.4,2240.1 155.4,2240.1 158.1,2241.4 160.7,2242.4 163,2243 163.4,2243.1 166.1,2243.6 168.7,2244.1 171.4,2244.4 173.5,2244.6 174.1,2244.6 176.7,2244.7 179.4,2244.8 182,2244.9 184.7,2245 187.4,2245 190,2245.1 192.1,2245.1 192.7,2245.1 195.4,2245.2 198,2245.2 200.7,2245.3 203.3,2245.4 206,2245.4 208.7,2245.5 211.3,2245.5 214,2245.6 216.6,2245.7 219.3,2245.7 222,2245.8 224.6,2245.8 227.3,2245.9 230,2245.9 232.6,2246 235.3,2246 237.9,2246.1 240.6,2246.1 243.3,2246.2 245.9,2246.2 248.6,2246.3 251.3,2246.3 253.9,2246.3 256.6,2246.4 259.2,2246.4 261.9,2246.4 264.6,2246.5 267.2,2246.5 269.9,2246.5 271.5,2246.5 272.6,2246.5 275.2,2246.5 277.9,2246.5 280.5,2246.5 283.2,2246.5 285.9,2246.6 288.5,2246.6 291.2,2246.6 293.8,2246.6 296.5,2246.6 299.2,2246.6 301.8,2246.6 304.5,2246.6 307.2,2246.6 309.8,2246.6 312.5,2246.6 315.1,2246.6 317.8,2246.7 320.5,2246.7 323.1,2246.7 325.8,2246.7 328.5,2246.7 331.1,2246.7 333.8,2246.7 336.4,2246.7 339.1,2246.7 341.8,2246.7 344.4,2246.7 347.1,2246.7 349.7,2246.7 352.4,2246.7 355.1,2246.7 357.7,2246.7 360.4,2246.7 363.1,2246.7 365.7,2246.7 368.4,2246.7 371,2246.7 373.7,2246.8 376.4,2246.8 379,2246.8 381.7,2246.8 384.4,2246.8 387,2246.8 389.7,2246.8 392.3,2246.8 395,2246.8 397.7,2246.8 400.3,2246.8 403,2246.8 405.7,2246.8 408.3,2246.8 411,2246.8 413.6,2246.8 416.3,2246.8 419,2246.8 421.6,2246.8 424.3,2246.8 426.9,2246.8 429.6,2246.8 432.3,2246.9 434.9,2246.9 437.6,2246.9 440.3,2246.9 442.9,2246.9 445.6,2246.9 448.2,2246.9 450,2246.9 450.9,2246.9 453.6,2246.9 456.2,2246.9 458.9,2246.9 461.6,2246.9 464.2,2246.9 466.9,2247 469.5,2247 472.2,2247 474.9,2247 477.5,2247 480.2,2247 482.8,2247 485.5,2247 488.2,2247 490.8,2247 493.5,2247.1 496.2,2247.1 498.8,2247.1 501.5,2247.1 504.1,2247.1 506.8,2247.1 509.5,2247.1 512.1,2247.1 514.8,2247.1 517.5,2247.2 520.1,2247.2 522.8,2247.2 525.4,2247.2 528.1,2247.2 530.8,2247.2 533.4,2247.2 536.1,2247.2 538.8,2247.3 541.4,2247.3 544.1,2247.3 546.7,2247.3 549.4,2247.3 552.1,2247.3 554.7,2247.3 557.4,2247.3 560,2247.4 562.7,2247.4 565.4,2247.4 568,2247.4 570.7,2247.4 573.4,2247.4 576,2247.4 578.7,2247.4 581.3,2247.5 584,2247.5 586.7,2247.5 589.3,2247.5 592,2247.5 592,2247.5 594.7,2247.5 597.3,2247.5 600,2247.5 602.6,2247.5 605.3,2247.6 608,2247.6 610.6,2247.6 613.3,2247.6 615.9,2247.6 618.6,2247.6 621.3,2247.6 623.9,2247.6 626.6,2247.6 629.3,2247.7 631.9,2247.7 634.6,2247.7 637.2,2247.7 639.9,2247.7 642.6,2247.7 645.2,2247.7 647.9,2247.7 650.6,2247.8 653.2,2247.8 655.9,2247.8 658.5,2247.8 661.2,2247.8 663.9,2247.8 666.5,2247.8 669.2,2247.8 671.9,2247.8 674.5,2247.9 677.2,2247.9 679.8,2247.9 682.5,2247.9 685.2,2247.9 687.8,2247.9 690.5,2247.9 693.1,2247.9 695.8,2247.9 698.5,2248 701.1,2248 703.8,2248 706.5,2248 709.1,2248 711.8,2248 714.4,2248 717.1,2248 719.8,2248.1 722.4,2248.1 725.1,2248.1 727.8,2248.1 730.4,2248.1 733.1,2248.1 735.7,2248.1 738.4,2248.1 741.1,2248.1 743.7,2248.2 746.4,2248.2 749,2248.2 751.7,2248.2 754.4,2248.2 757,2248.2 759.7,2248.2 762.4,2248.2 765,2248.2 767.7,2248.3 770.3,2248.3 773,2248.3 775.7,2248.3 776.8,2248.3" fill="none" stroke="#ff00ff" stroke-width="3.0" stroke-linejoin="round"/>
<circle cx="112.8" cy="2185.6" r="4.6" fill="#ff00ff"/>
<circle cx="152.8" cy="2237.6" r="4.6" fill="#ff00ff"/>
<circle cx="192.7" cy="2245.1" r="4.6" fill="#ff00ff"/>
<circle cx="232.6" cy="2246" r="4.6" fill="#ff00ff"/>
<circle cx="272.6" cy="2246.5" r="4.6" fill="#ff00ff"/>
<circle cx="312.5" cy="2246.6" r="4.6" fill="#ff00ff"/>
<circle cx="352.4" cy="2246.7" r="4.6" fill="#ff00ff"/>
<circle cx="392.3" cy="2246.8" r="4.6" fill="#ff00ff"/>
<circle cx="432.3" cy="2246.9" r="4.6" fill="#ff00ff"/>
<circle cx="472.2" cy="2247" r="4.6" fill="#ff00ff"/>
<circle cx="512.1" cy="2247.1" r="4.6" fill="#ff00ff"/>
<circle cx="552.1" cy="2247.3" r="4.6" fill="#ff00ff"/>
<circle cx="592" cy="2247.5" r="4.6" fill="#ff00ff"/>
<circle cx="631.9" cy="2247.7" r="4.6" fill="#ff00ff"/>
<circle cx="671.9" cy="2247.8" r="4.6" fill="#ff00ff"/>
<circle cx="711.8" cy="2248" r="4.6" fill="#ff00ff"/>
<circle cx="751.7" cy="2248.2" r="4.6" fill="#ff00ff"/>
<polyline points="112.8,2185.6 115.5,2185.7 118.2,2185.9 120.8,2186 123.5,2186.1 126.1,2186.3 128.8,2186.4 131.5,2186.5 134.1,2186.7 136.8,2186.8 139.5,2186.9 142.1,2187 144.8,2187.2 147.4,2187.3 150.1,2187.4 152.8,2187.5 155.4,2187.6 158.1,2187.7 160.7,2187.8 163.4,2187.9 166.1,2187.9 168.7,2188 171.4,2188.1 174.1,2188.2 176.7,2188.3 179.4,2188.4 182,2188.5 184.7,2188.6 187.4,2188.7 190,2188.8 192.7,2189 195.4,2189.2 198,2189.5 200.7,2189.8 203.3,2190.3 204.7,2190.5 206,2190.8 208.7,2191.6 211.3,2192.6 214,2193.7 216.6,2194.9 219.3,2196 222,2197.1 224.6,2198.4 227.3,2199.6 230,2200.7 232.6,2201.5 235.3,2202.2 237.9,2202.8 240.6,2203.3 243.3,2203.8 245.9,2204.3 248.6,2204.7 251.3,2205.1 253.9,2205.5 256.6,2205.9 259.2,2206.2 261.9,2206.6 264.6,2207 267.2,2207.4 269.9,2207.8 272.6,2208.3 275.2,2208.8 277.9,2209.3 280.5,2209.7 283.2,2210.2 285.9,2210.7 288.5,2211.2 291.2,2211.7 293.8,2212.2 296.5,2212.7 299.2,2213.2 301.8,2213.7 304.5,2214.2 307.2,2214.8 309.8,2215.3 312.5,2215.9 315.1,2216.5 317.8,2217.1 320.5,2217.7 323.1,2218.3 325.8,2218.9 328.5,2219.5 331.1,2220.1 333.8,2220.8 336.4,2221.4 339.1,2222.1 341.8,2222.8 344.4,2223.5 347.1,2224.3 349.7,2225 352.4,2225.8 355.1,2226.6 357.7,2227.5 360.4,2228.4 363.1,2229.3 365.7,2230.3 368.4,2231.3 371,2232.3 373.7,2233.3 376.4,2234.4 379,2235.4 381.7,2236.5 384.4,2237.5 387,2238.6 389.7,2239.6 392.3,2240.6 395,2241.6 397.7,2242.6 400.3,2243.7 403,2244.7 405.7,2245.8 408.3,2246.9 411,2247.9 413.6,2249 416.3,2250 419,2251 421.6,2252.1 424.3,2253.1 426.9,2254 429.6,2255 432.3,2255.9 434.9,2256.8 437.6,2257.6 440.3,2258.5 442.9,2259.2 445.6,2260 448.2,2260.8 450.9,2261.6 453.6,2262.3 456.2,2263.1 458.9,2263.8 461.6,2264.6 464.2,2265.4 466.9,2266.3 469.5,2267.1 472.2,2268 474.9,2268.9 477.5,2269.9 480.2,2270.8 482.8,2271.8 485.5,2272.8 488.2,2273.8 490.8,2274.9 493.5,2275.9 496.2,2277 498.8,2278.1 501.5,2279.2 504.1,2280.3 506.8,2281.4 509.5,2282.5 512.1,2283.6 514.8,2284.8 517.5,2286 520.1,2287.2 522.8,2288.5 525.4,2289.8 528.1,2291.2 530.8,2292.5 533.4,2293.8 536.1,2295.1 538.8,2296.4 541.4,2297.6 544.1,2298.8 546.7,2299.9 549.4,2300.9 552.1,2301.8 554.7,2302.7 557.4,2303.5 560,2304.2 562.7,2305 565.4,2305.7 568,2306.4 570.7,2307.1 573.4,2307.7 576,2308.4 578.7,2309 581.3,2309.6 584,2310.2 586.7,2310.8 589.3,2311.5 592,2312.1 594.7,2312.7 597.3,2313.4 600,2314 602.6,2314.7 605.3,2315.3 608,2315.9 610.6,2316.6 613.3,2317.2 615.9,2317.8 618.6,2318.4 621.3,2319 623.9,2319.5 626.6,2320.1 629.3,2320.6 631.9,2321.1 634.6,2321.6 637.2,2322 639.9,2322.5 642.6,2322.9 645.2,2323.3 647.9,2323.7 650.6,2324.2 653.2,2324.5 655.9,2324.9 658.5,2325.3 661.2,2325.7 663.9,2326.1 666.5,2326.5 669.2,2326.9 671.9,2327.3 674.5,2327.7 677.2,2328.1 679.8,2328.6 682.5,2329 685.2,2329.5 687.8,2329.9 690.5,2330.4 693.1,2330.8 695.8,2331.3 698.5,2331.7 701.1,2332.1 703.8,2332.4 706.5,2332.8 709.1,2333.1 711.8,2333.4 714.4,2333.7 717.1,2333.9 719.8,2334.1 722.4,2334.4 725.1,2334.6 727.8,2334.8 730.4,2335 733.1,2335.1 735.7,2335.3 738.4,2335.5 741.1,2335.7 743.7,2335.9 746.4,2336.1 749,2336.3 751.7,2336.5 754.4,2336.7 757,2337 759.7,2337.2 762.4,2337.4 765,2337.7 767.7,2337.9 770.3,2338.2 773,2338.4 775.7,2338.7 777,2338.8" fill="none" stroke="#00ffff" stroke-width="3.0" stroke-linejoin="round"/>
<path d="M112.8,2178.6L119.8,2190.6L105.8,2190.6Z" fill="#00ffff"/>
<path d="M152.8,2180.5L159.8,2192.5L145.8,2192.5Z" fill="#00ffff"/>
<path d="M192.7,2182L199.7,2194L185.7,2194Z" fill="#00ffff"/>
<path d="M232.6,2194.5L239.6,2206.5L225.6,2206.5Z" fill="#00ffff"/>
<path d="M272.6,2201.3L279.6,2213.3L265.6,2213.3Z" fill="#00ffff"/>
<path d="M312.5,2208.9L319.5,2220.9L305.5,2220.9Z" fill="#00ffff"/>
<path d="M352.4,2218.8L359.4,2230.8L345.4,2230.8Z" fill="#00ffff"/>
<path d="M392.3,2233.6L399.3,2245.6L385.3,2245.6Z" fill="#00ffff"/>
<path d="M432.3,2248.9L439.3,2260.9L425.3,2260.9Z" fill="#00ffff"/>
<path d="M472.2,2261L479.2,2273L465.2,2273Z" fill="#00ffff"/>
<path d="M512.1,2276.6L519.1,2288.6L505.1,2288.6Z" fill="#00ffff"/>
<path d="M552.1,2294.8L559.1,2306.8L545.1,2306.8Z" fill="#00ffff"/>
<path d="M592,2305.1L599,2317.1L585,2317.1Z" fill="#00ffff"/>
<path d="M631.9,2314.1L638.9,2326.1L624.9,2326.1Z" fill="#00ffff"/>
<path d="M671.9,2320.3L678.9,2332.3L664.9,2332.3Z" fill="#00ffff"/>
<path d="M711.8,2326.4L718.8,2338.4L704.8,2338.4Z" fill="#00ffff"/>
<path d="M751.7,2329.5L758.7,2341.5L744.7,2341.5Z" fill="#00ffff"/>
<polyline points="112.8,2185.6 115.5,2186.6 118.2,2187.6 120.8,2188.6 123.5,2189.6 126.1,2190.6 128.8,2191.6 131.5,2192.6 134.1,2193.6 136.8,2194.6 139.5,2195.6 142.1,2196.6 144.8,2197.5 147.4,2198.5 150.1,2199.4 152.8,2200.4 155.4,2201.4 158.1,2202.3 160.7,2203.2 163.4,2204.2 166.1,2205.1 168.7,2206 171.4,2207 174.1,2207.9 176.7,2208.8 179.4,2209.7 182,2210.6 184.7,2211.5 187.4,2212.4 190,2213.3 192.7,2214.2 195.4,2215.1 198,2216 200.7,2216.8 203.3,2217.7 206,2218.5 208.7,2219.4 211.3,2220.2 214,2221.1 216.6,2221.9 219.3,2222.8 222,2223.6 224.6,2224.4 227.3,2225.2 230,2226.1 232.6,2226.9 235.3,2227.7 237.9,2228.5 240.6,2229.4 243.3,2230.2 245.9,2231 248.6,2231.8 251.3,2232.6 253.9,2233.4 256.6,2234.2 259.2,2235 261.9,2235.8 264.6,2236.6 267.2,2237.4 269.9,2238.2 272.6,2239 275.2,2239.8 277.9,2240.6 280.5,2241.3 283.2,2242.1 285.9,2242.8 288.5,2243.6 291.2,2244.3 293.8,2245.1 296.5,2245.8 299.2,2246.6 301.8,2247.4 304.5,2248.2 307.2,2249 309.8,2249.8 312.5,2250.7 315.1,2251.6 317.8,2252.4 320.5,2253.3 323.1,2254.2 325.8,2255.1 328.5,2256.1 331.1,2257 333.8,2258 336.4,2259 339.1,2260 341.8,2261 344.4,2262 347.1,2263.1 349.7,2264.2 352.4,2265.4 355.1,2266.6 357.7,2268 360.4,2269.5 363.1,2271.1 365.7,2272.8 368.4,2274.5 371,2276.2 373.7,2277.8 376.4,2279.5 379,2281.1 381.7,2282.6 384.4,2283.9 387,2285.2 389.7,2286.2 392.3,2287.1 395,2287.8 397.7,2288.5 400.3,2289.1 403,2289.7 405.7,2290.2 408.3,2290.7 411,2291.1 413.6,2291.6 416.3,2292 419,2292.5 421.6,2292.9 424.3,2293.4 426.9,2293.8 429.6,2294.4 432.3,2294.9 434.9,2295.5 437.6,2296.1 440.3,2296.8 442.9,2297.5 445.6,2298.2 448.2,2298.9 450.9,2299.6 453.6,2300.3 456.2,2301 458.9,2301.7 461.6,2302.3 464.2,2302.9 466.9,2303.5 469.5,2304 472.2,2304.4 474.9,2304.8 477.5,2305.2 480.2,2305.5 482.8,2305.9 485.5,2306.2 488.2,2306.5 490.8,2306.8 493.5,2307.1 496.2,2307.4 498.8,2307.6 501.5,2307.9 504.1,2308.1 506.8,2308.4 509.5,2308.6 512.1,2308.8 514.8,2309 517.5,2309.2 520.1,2309.4 522.8,2309.6 525.4,2309.8 528.1,2310 530.8,2310.2 533.4,2310.4 536.1,2310.5 538.8,2310.7 541.4,2310.8 544.1,2311 546.7,2311.1 549.4,2311.3 552.1,2311.4 554.7,2311.5 557.4,2311.7 560,2311.8 562.7,2311.9 565.4,2312 568,2312.1 570.7,2312.2 573.4,2312.3 576,2312.4 578.7,2312.5 581.3,2312.6 584,2312.7 586.7,2312.8 589.3,2312.8 592,2312.9 594.7,2313 597.3,2313 600,2313.1 602.6,2313.1 605.3,2313.2 608,2313.2 610.6,2313.3 613.3,2313.3 615.9,2313.4 618.6,2313.4 621.3,2313.4 623.9,2313.5 626.6,2313.5 629.3,2313.5 631.9,2313.5 634.6,2313.5 637.2,2313.5 639.9,2313.5 642.6,2313.5 645.2,2313.5 647.9,2313.5 650.6,2313.5 653.2,2313.5 655.9,2313.5 658.5,2313.5 661.2,2313.5 663.9,2313.5 666.5,2313.5 669.2,2313.5 671.9,2313.5 674.5,2313.5 677.2,2313.5 679.8,2313.5 682.5,2313.5 685.2,2313.5 687.8,2313.5 690.5,2313.5 693.1,2313.5 695.8,2313.5 698.5,2313.5 701.1,2313.5 703.8,2313.5 706.5,2313.5 709.1,2313.5 711.8,2313.5 714.4,2313.5 717.1,2313.5 719.8,2313.5 722.4,2313.5 725.1,2313.5 727.8,2313.5 730.4,2313.5 733.1,2313.5 735.7,2313.5 738.4,2313.5 741.1,2313.5 743.7,2313.5 746.4,2313.5 749,2313.5 751.7,2313.5 754.4,2313.5 757,2313.5 759.7,2313.5 762.4,2313.5 765,2313.5 767.7,2313.5 770.3,2313.5 773,2313.5 775.7,2313.5 777,2313.5" fill="none" stroke="#33e35a" stroke-width="3.0" stroke-linejoin="round"/>
<circle cx="112.8" cy="2185.6" r="4.2" fill="#33e35a"/>
<circle cx="152.8" cy="2200.4" r="4.2" fill="#33e35a"/>
<circle cx="192.7" cy="2214.2" r="4.2" fill="#33e35a"/>
<circle cx="232.6" cy="2226.9" r="4.2" fill="#33e35a"/>
<circle cx="272.6" cy="2239" r="4.2" fill="#33e35a"/>
<circle cx="312.5" cy="2250.7" r="4.2" fill="#33e35a"/>
<circle cx="352.4" cy="2265.4" r="4.2" fill="#33e35a"/>
<circle cx="392.3" cy="2287.1" r="4.2" fill="#33e35a"/>
<circle cx="432.3" cy="2294.9" r="4.2" fill="#33e35a"/>
<circle cx="472.2" cy="2304.4" r="4.2" fill="#33e35a"/>
<circle cx="512.1" cy="2308.8" r="4.2" fill="#33e35a"/>
<circle cx="552.1" cy="2311.4" r="4.2" fill="#33e35a"/>
<circle cx="592" cy="2312.9" r="4.2" fill="#33e35a"/>
<circle cx="631.9" cy="2313.5" r="4.2" fill="#33e35a"/>
<circle cx="671.9" cy="2313.5" r="4.2" fill="#33e35a"/>
<circle cx="711.8" cy="2313.5" r="4.2" fill="#33e35a"/>
<circle cx="751.7" cy="2313.5" r="4.2" fill="#33e35a"/>
<polyline points="112.8,2185.6 115.5,2187.3 118.2,2189.1 120.8,2190.8 123.5,2192.5 126.1,2194.2 128.8,2195.9 131.5,2197.6 134.1,2199.3 136.8,2200.9 139.5,2202.6 142.1,2204.3 144.8,2205.9 147.4,2207.5 150.1,2209.2 152.8,2210.8 155.4,2212.4 158.1,2214 160.7,2215.6 163.4,2217.1 166.1,2218.7 168.7,2220.2 171.4,2221.7 174.1,2223.3 176.7,2224.8 179.4,2226.3 182,2227.9 184.7,2229.4 187.4,2231 190,2232.6 192.7,2234.2 195.4,2235.8 198,2237.5 200.7,2239.1 203.3,2240.8 206,2242.5 208.7,2244.2 211.3,2245.9 214,2247.6 216.6,2249.3 219.3,2251 222,2252.7 224.6,2254.4 227.3,2256 230,2257.7 232.6,2259.3 235.3,2260.9 237.9,2262.5 240.6,2264 243.3,2265.6 245.9,2267.1 248.6,2268.6 251.3,2270.2 253.9,2271.7 256.6,2273.2 259.2,2274.7 261.9,2276.3 264.6,2277.9 267.2,2279.4 269.9,2281.1 272.6,2282.7 275.2,2284.4 277.9,2286.1 280.5,2287.8 283.2,2289.6 285.9,2291.4 288.5,2293.2 291.2,2295 293.8,2296.8 296.5,2298.6 299.2,2300.5 301.8,2302.3 304.5,2304 307.2,2305.8 309.8,2307.5 312.5,2309.2 315.1,2310.9 317.8,2312.5 320.5,2314.1 323.1,2315.6 325.8,2317.2 328.5,2318.7 331.1,2320.3 333.8,2321.8 336.4,2323.3 339.1,2324.9 341.8,2326.5 344.4,2328.1 347.1,2329.7 349.7,2331.3 352.4,2333 355.1,2334.7 357.7,2336.5 360.4,2338.4 363.1,2340.2 365.7,2342.1 368.4,2344.1 371,2346 373.7,2347.9 376.4,2349.8 379,2351.7 381.7,2353.6 384.4,2355.4 387,2357.2 389.7,2358.9 392.3,2360.6 395,2362.2 397.7,2363.7 400.3,2365.2 403,2366.7 405.7,2368.1 408.3,2369.5 411,2370.9 413.6,2372.3 416.3,2373.7 419,2375 421.6,2376.4 424.3,2377.9 426.9,2379.3 429.6,2380.8 432.3,2382.3 434.9,2383.9 437.6,2385.4 440.3,2387.1 442.9,2388.7 445.6,2390.3 448.2,2392 450.9,2393.7 453.6,2395.3 456.2,2397 458.9,2398.7 461.6,2400.4 464.2,2402.1 466.9,2403.8 469.5,2405.5 472.2,2407.2 474.9,2408.9 477.5,2410.6 480.2,2412.3 482.8,2414.1 485.5,2415.8 488.2,2417.5 490.8,2419.3 493.5,2421 496.2,2422.7 498.8,2424.4 501.5,2426.1 504.1,2427.8 506.8,2429.5 509.5,2431.1 512.1,2432.7 514.8,2434.3 517.5,2435.8 520.1,2437.3 522.8,2438.8 525.4,2440.2 528.1,2441.6 530.8,2443.1 533.4,2444.5 536.1,2445.9 538.8,2447.4 541.4,2448.8 544.1,2450.3 546.7,2451.7 549.4,2453.3 552.1,2454.8 554.7,2456.4 557.4,2458 560,2459.6 562.7,2461.2 565.4,2462.8 568,2464.5 570.7,2466.1 573.4,2467.8 576,2469.5 578.7,2471.2 581.3,2472.9 584,2474.6 586.7,2476.3 589.3,2478 592,2479.7 594.7,2481.4 597.3,2483.2 600,2484.9 602.6,2486.7 605.3,2488.5 608,2490.3 610.6,2492.1 613.3,2493.9 615.9,2495.7 618.6,2497.4 621.3,2499.2 623.9,2500.9 626.6,2502.6 629.3,2504.3 631.9,2505.9 634.6,2507.5 637.2,2509 639.9,2510.5 642.6,2512 645.2,2513.4 647.9,2514.9 650.6,2516.3 653.2,2517.7 655.9,2519.1 658.5,2520.5 661.2,2522 663.9,2523.4 666.5,2524.9 669.2,2526.4 671.9,2528 674.5,2529.6 677.2,2531.2 679.8,2532.8 682.5,2534.5 685.2,2536.2 687.8,2537.9 690.5,2539.6 693.1,2541.3 695.8,2543 698.5,2544.7 701.1,2546.5 703.8,2548.2 706.5,2550 709.1,2551.7 711.8,2553.5 714.4,2555.3 717.1,2557.1 719.8,2558.9 722.4,2560.8 725.1,2562.7 727.8,2564.6 730.4,2566.5 733.1,2568.4 735.7,2570.2 738.4,2572.1 741.1,2573.9 743.7,2575.7 746.4,2577.4 749,2579.1 751.7,2580.7 754.4,2582.3 757,2583.8 759.7,2585.3 762.4,2586.8 765,2588.2 767.7,2589.6 770.3,2591 773,2592.3 775.7,2593.7 777,2594.3" fill="none" stroke="#a946e3" stroke-width="3.0" stroke-linejoin="round"/>
<path d="M112.8,2177.1L115.1,2183.3L121.7,2183.5L116.4,2187.6L118.3,2193.9L112.8,2190.2L107.4,2193.9L109.2,2187.6L104,2183.5L110.6,2183.3Z" fill="#a946e3"/>
<path d="M152.8,2202.3L155,2208.5L161.6,2208.7L156.4,2212.8L158.2,2219.1L152.8,2215.4L147.3,2219.1L149.1,2212.8L143.9,2208.7L150.5,2208.5Z" fill="#a946e3"/>
<path d="M192.7,2225.7L194.9,2231.9L201.5,2232.1L196.3,2236.2L198.2,2242.5L192.7,2238.8L187.2,2242.5L189.1,2236.2L183.8,2232.1L190.5,2231.9Z" fill="#a946e3"/>
<path d="M232.6,2250.8L234.9,2257L241.5,2257.2L236.2,2261.3L238.1,2267.6L232.6,2263.9L227.2,2267.6L229,2261.3L223.8,2257.2L230.4,2257Z" fill="#a946e3"/>
<path d="M272.6,2274.2L274.8,2280.4L281.4,2280.6L276.2,2284.7L278,2291L272.6,2287.3L267.1,2291L268.9,2284.7L263.7,2280.6L270.3,2280.4Z" fill="#a946e3"/>
<path d="M312.5,2300.7L314.7,2306.9L321.3,2307.1L316.1,2311.2L317.9,2317.5L312.5,2313.8L307,2317.5L308.9,2311.2L303.6,2307.1L310.2,2306.9Z" fill="#a946e3"/>
<path d="M352.4,2324.5L354.6,2330.7L361.3,2330.9L356,2335L357.9,2341.3L352.4,2337.6L346.9,2341.3L348.8,2335L343.6,2330.9L350.2,2330.7Z" fill="#a946e3"/>
<path d="M392.3,2352.1L394.6,2358.3L401.2,2358.5L396,2362.6L397.8,2368.9L392.3,2365.2L386.9,2368.9L388.7,2362.6L383.5,2358.5L390.1,2358.3Z" fill="#a946e3"/>
<path d="M432.3,2373.8L434.5,2380L441.1,2380.2L435.9,2384.3L437.7,2390.6L432.3,2386.9L426.8,2390.6L428.7,2384.3L423.4,2380.2L430,2380Z" fill="#a946e3"/>
<path d="M472.2,2398.7L474.4,2404.9L481,2405.1L475.8,2409.2L477.7,2415.5L472.2,2411.8L466.7,2415.5L468.6,2409.2L463.4,2405.1L470,2404.9Z" fill="#a946e3"/>
<path d="M512.1,2424.2L514.4,2430.4L521,2430.6L515.7,2434.7L517.6,2441L512.1,2437.3L506.7,2441L508.5,2434.7L503.3,2430.6L509.9,2430.4Z" fill="#a946e3"/>
<path d="M552.1,2446.3L554.3,2452.5L560.9,2452.7L555.7,2456.8L557.5,2463.1L552.1,2459.4L546.6,2463.1L548.4,2456.8L543.2,2452.7L549.8,2452.5Z" fill="#a946e3"/>
<path d="M592,2471.2L594.2,2477.4L600.8,2477.6L595.6,2481.7L597.5,2488L592,2484.3L586.5,2488L588.4,2481.7L583.1,2477.6L589.8,2477.4Z" fill="#a946e3"/>
<path d="M631.9,2497.4L634.2,2503.6L640.8,2503.8L635.5,2507.9L637.4,2514.2L631.9,2510.5L626.5,2514.2L628.3,2507.9L623.1,2503.8L629.7,2503.6Z" fill="#a946e3"/>
<path d="M671.9,2519.5L674.1,2525.7L680.7,2525.9L675.5,2530L677.3,2536.3L671.9,2532.6L666.4,2536.3L668.2,2530L663,2525.9L669.6,2525.7Z" fill="#a946e3"/>
<path d="M711.8,2545L714,2551.2L720.6,2551.4L715.4,2555.5L717.2,2561.8L711.8,2558.1L706.3,2561.8L708.2,2555.5L702.9,2551.4L709.5,2551.2Z" fill="#a946e3"/>
<path d="M751.7,2572.2L753.9,2578.4L760.6,2578.6L755.3,2582.7L757.2,2589L751.7,2585.3L746.2,2589L748.1,2582.7L742.9,2578.6L749.5,2578.4Z" fill="#a946e3"/>
<polyline points="112.8,2185.6 115.5,2187.3 118.2,2189 120.8,2190.7 123.5,2192.4 126.1,2194 128.8,2195.6 131.5,2197.2 134.1,2198.8 136.8,2200.3 139.5,2201.8 142.1,2203.3 144.8,2204.8 147.4,2206.2 150.1,2207.6 152.8,2209 155.4,2210.3 158.1,2211.6 160.7,2212.9 163.4,2214.1 166.1,2215.3 168.7,2216.5 171.4,2217.7 174.1,2218.9 176.7,2220 179.4,2221.2 182,2222.3 184.7,2223.5 187.4,2224.7 190,2225.9 192.7,2227.2 195.4,2228.5 198,2229.8 200.7,2231.1 203.3,2232.4 206,2233.7 208.7,2235.1 211.3,2236.4 214,2237.8 216.6,2239.1 219.3,2240.5 222,2241.8 224.6,2243.2 227.3,2244.5 230,2245.9 232.6,2247.2 235.3,2248.5 237.9,2249.9 240.6,2251.2 243.3,2252.6 245.9,2253.9 248.6,2255.2 251.3,2256.6 253.9,2257.9 256.6,2259.3 259.2,2260.6 261.9,2261.9 264.6,2263.2 267.2,2264.5 269.9,2265.8 272.6,2267.1 275.2,2268.4 277.9,2269.6 280.5,2270.9 283.2,2272.1 285.9,2273.3 288.5,2274.6 291.2,2275.8 293.8,2277 296.5,2278.2 299.2,2279.4 301.8,2280.6 304.5,2281.8 307.2,2283 309.8,2284.2 312.5,2285.4 315.1,2286.6 317.8,2287.8 320.5,2289 323.1,2290.1 325.8,2291.3 328.5,2292.5 331.1,2293.7 333.8,2294.8 336.4,2296 339.1,2297.2 341.8,2298.3 344.4,2299.5 347.1,2300.7 349.7,2301.8 352.4,2303 355.1,2304.2 357.7,2305.3 360.4,2306.4 363.1,2307.5 365.7,2308.6 368.4,2309.7 371,2310.8 373.7,2311.9 376.4,2313 379,2314.1 381.7,2315.3 384.4,2316.5 387,2317.8 389.7,2319.1 392.3,2320.4 395,2321.9 397.7,2323.7 400.3,2325.5 403,2327.3 405.7,2329 408.3,2330.2 409.3,2330.6 411,2331.1 413.6,2331.8 416.3,2332.4 419,2333 421.6,2333.5 424.3,2333.9 426.9,2334.5 429.6,2335.1 432.1,2335.7 432.3,2335.7 434.9,2336.6 437.6,2337.5 440.3,2338.5 442.9,2339.5 445.6,2340.6 448.2,2341.7 450.1,2342.5 450.9,2342.8 453.6,2344 456.2,2345.2 458.9,2346.4 461.6,2347.7 464.2,2348.9 466.9,2350.2 469.5,2351.5 472.2,2352.7 472.2,2352.7 474.9,2353.9 477.5,2355.1 480.2,2356.4 482.8,2357.6 485.5,2358.8 488.2,2360 490.8,2361.1 491,2361.2 493.5,2362.3 496.2,2363.4 498.8,2364.4 501.5,2365.5 504.1,2366.6 506.8,2367.6 509.5,2368.7 512.1,2369.8 512.1,2369.8 514.8,2370.9 517.5,2372 520.1,2373.2 522.8,2374.3 525.4,2375.4 528.1,2376.6 530.8,2377.8 531.8,2378.3 533.4,2379.1 536.1,2380.4 538.8,2381.7 541.4,2383.1 544.1,2384.5 546.7,2385.8 549.4,2387.2 552.1,2388.4 552.2,2388.5 554.7,2389.7 557.4,2390.9 560,2392.1 562.7,2393.3 565.4,2394.4 568,2395.5 570.7,2396.6 573.4,2397.7 576,2398.7 576,2398.7 578.7,2399.6 581.3,2400.5 584,2401.3 586.7,2402.2 589.3,2403.1 591.3,2403.8 592,2404.1 594.7,2405.2 597.3,2406.3 600,2407.5 602.6,2408.8 605.3,2410.1 608,2411.4 610.6,2412.7 613.3,2413.9 613.4,2414 615.9,2415.2 618.6,2416.5 621.3,2417.7 623.9,2419 626.6,2420.2 629.3,2421.5 631.5,2422.5 631.9,2422.7 634.6,2423.9 637.2,2425.1 639.9,2426.3 642.6,2427.4 645.2,2428.6 647.9,2429.8 650.6,2430.9 653.2,2432.1 655.9,2433.2 658.5,2434.3 661.2,2435.4 663.9,2436.5 666.5,2437.6 669.2,2438.7 671.3,2439.5 671.9,2439.7 674.5,2440.7 677.2,2441.7 679.8,2442.6 682.5,2443.6 685.2,2444.5 687.8,2445.4 690.5,2446.3 693.1,2447.2 695.8,2448.1 698.5,2449 701.1,2449.9 703.8,2450.9 706.5,2451.9 709.1,2452.9 711.4,2453.8 711.8,2454 714.4,2455.1 717.1,2456.3 719.8,2457.6 722.4,2458.9 725.1,2460.3 727.8,2461.7 730.4,2463.1 733.1,2464.5 735.7,2465.9 738.4,2467.2 741.1,2468.5 743.7,2469.7 746.4,2470.9 749,2472 751.2,2472.8 751.7,2473 754.4,2473.9 757,2474.8 759.7,2475.7 762.4,2476.5 765,2477.3 767.7,2478 770.3,2478.7 773,2479.4 775.7,2480 776.8,2480.3" fill="none" stroke="#1e9bce" stroke-width="3.0" stroke-linejoin="round"/>
<path d="M112.8,2178.2L114.9,2182L119.2,2181.9L116.9,2185.6L119.2,2189.3L114.9,2189.2L112.8,2193L110.8,2189.2L106.4,2189.3L108.7,2185.6L106.4,2181.9L110.8,2182Z" fill="#1e9bce"/>
<path d="M152.8,2201.6L154.8,2205.4L159.2,2205.3L156.9,2209L159.2,2212.7L154.8,2212.6L152.8,2216.4L150.7,2212.6L146.4,2212.7L148.7,2209L146.4,2205.3L150.7,2205.4Z" fill="#1e9bce"/>
<path d="M192.7,2219.8L194.7,2223.6L199.1,2223.5L196.8,2227.2L199.1,2230.9L194.7,2230.8L192.7,2234.6L190.6,2230.8L186.3,2230.9L188.6,2227.2L186.3,2223.5L190.6,2223.6Z" fill="#1e9bce"/>
<path d="M232.6,2239.8L234.7,2243.6L239,2243.5L236.7,2247.2L239,2250.9L234.7,2250.8L232.6,2254.6L230.6,2250.8L226.2,2250.9L228.5,2247.2L226.2,2243.5L230.6,2243.6Z" fill="#1e9bce"/>
<path d="M272.6,2259.7L274.6,2263.5L279,2263.4L276.7,2267.1L279,2270.8L274.6,2270.7L272.6,2274.5L270.5,2270.7L266.1,2270.8L268.5,2267.1L266.1,2263.4L270.5,2263.5Z" fill="#1e9bce"/>
<path d="M312.5,2278L314.5,2281.8L318.9,2281.7L316.6,2285.4L318.9,2289.1L314.5,2289L312.5,2292.8L310.4,2289L306.1,2289.1L308.4,2285.4L306.1,2281.7L310.4,2281.8Z" fill="#1e9bce"/>
<path d="M352.4,2295.6L354.5,2299.4L358.8,2299.3L356.5,2303L358.8,2306.7L354.5,2306.6L352.4,2310.4L350.4,2306.6L346,2306.7L348.3,2303L346,2299.3L350.4,2299.4Z" fill="#1e9bce"/>
<path d="M392.3,2313L394.4,2316.8L398.7,2316.7L396.4,2320.4L398.7,2324.1L394.4,2324L392.3,2327.8L390.3,2324L385.9,2324.1L388.2,2320.4L385.9,2316.7L390.3,2316.8Z" fill="#1e9bce"/>
<path d="M432.3,2328.3L434.3,2332.2L438.7,2332L436.4,2335.7L438.7,2339.4L434.3,2339.3L432.3,2343.1L430.2,2339.3L425.9,2339.4L428.2,2335.7L425.9,2332L430.2,2332.2Z" fill="#1e9bce"/>
<path d="M472.2,2345.3L474.3,2349.1L478.6,2349L476.3,2352.7L478.6,2356.4L474.3,2356.3L472.2,2360.1L470.2,2356.3L465.8,2356.4L468.1,2352.7L465.8,2349L470.2,2349.1Z" fill="#1e9bce"/>
<path d="M512.1,2362.4L514.2,2366.3L518.5,2366.1L516.2,2369.8L518.5,2373.5L514.2,2373.4L512.1,2377.2L510.1,2373.4L505.7,2373.5L508,2369.8L505.7,2366.1L510.1,2366.3Z" fill="#1e9bce"/>
<path d="M552.1,2381L554.1,2384.9L558.5,2384.7L556.2,2388.4L558.5,2392.1L554.1,2392L552.1,2395.8L550,2392L545.7,2392.1L548,2388.4L545.7,2384.7L550,2384.9Z" fill="#1e9bce"/>
<path d="M592,2396.7L594,2400.5L598.4,2400.4L596.1,2404.1L598.4,2407.8L594,2407.6L592,2411.5L589.9,2407.6L585.6,2407.8L587.9,2404.1L585.6,2400.4L589.9,2400.5Z" fill="#1e9bce"/>
<path d="M631.9,2415.3L634,2419.1L638.3,2419L636,2422.7L638.3,2426.4L634,2426.2L631.9,2430.1L629.9,2426.2L625.5,2426.4L627.8,2422.7L625.5,2419L629.9,2419.1Z" fill="#1e9bce"/>
<path d="M671.9,2432.3L673.9,2436.2L678.3,2436L676,2439.7L678.3,2443.4L673.9,2443.3L671.9,2447.1L669.8,2443.3L665.4,2443.4L667.8,2439.7L665.4,2436L669.8,2436.2Z" fill="#1e9bce"/>
<path d="M711.8,2446.6L713.8,2450.4L718.2,2450.3L715.9,2454L718.2,2457.7L713.8,2457.5L711.8,2461.4L709.7,2457.5L705.4,2457.7L707.7,2454L705.4,2450.3L709.7,2450.4Z" fill="#1e9bce"/>
<path d="M751.7,2465.6L753.8,2469.4L758.1,2469.3L755.8,2473L758.1,2476.7L753.8,2476.5L751.7,2480.4L749.7,2476.5L745.3,2476.7L747.6,2473L745.3,2469.3L749.7,2469.4Z" fill="#1e9bce"/>
<polyline points="112.8,2185.6 115.5,2185.7 118.2,2185.9 120.8,2186 123.5,2186.2 126.1,2186.3 128.8,2186.5 131.5,2186.6 134.1,2186.7 136.8,2186.9 139.5,2187 142.1,2187.1 144.8,2187.2 147.4,2187.2 150.1,2187.3 152.8,2187.3 155.4,2187.3 158.1,2187.3 160.7,2187.3 163.4,2187.3 166.1,2187.3 168.7,2187.3 171.4,2187.3 174.1,2187.3 176.7,2187.3 179.4,2187.3 182,2187.3 184.7,2187.3 187.4,2187.3 190,2187.3 192.7,2187.3 195.4,2187.3 198,2187.3 200.7,2187.3 203.3,2187.3 206,2187.3 208.7,2187.3 211.3,2187.3 214,2187.3 216.6,2187.4 219.3,2187.4 222,2187.4 224.6,2187.4 227.3,2187.4 230,2187.4 232.6,2187.4 235.3,2187.4 237.9,2187.4 240.6,2187.4 243.3,2187.4 245.9,2187.4 248.6,2187.4 251.3,2187.4 253.9,2187.4 256.6,2187.4 259.2,2187.4 261.9,2187.4 264.6,2187.4 267.2,2187.4 269.9,2187.4 272.6,2187.4 275.2,2187.4 277.9,2187.4 280.5,2187.4 283.2,2187.4 285.9,2187.4 288.5,2187.4 291.2,2187.4 293.8,2187.4 296.5,2187.4 299.2,2187.4 301.8,2187.4 304.5,2187.4 307.2,2187.4 309.8,2187.4 312.5,2187.4 315.1,2187.4 317.8,2187.4 320.5,2187.4 323.1,2187.4 325.8,2187.4 328.5,2187.4 331.1,2187.4 333.8,2187.4 336.4,2187.4 339.1,2187.4 341.8,2187.4 344.4,2187.4 347.1,2187.4 349.7,2187.4 352.4,2187.4 355.1,2187.4 357.7,2187.4 360.4,2187.4 363.1,2187.4 365.7,2187.4 368.4,2187.4 371,2187.4 373.7,2187.4 376.4,2187.4 379,2187.4 381.7,2187.4 384.4,2187.4 387,2187.4 389.7,2187.4 392.3,2187.4 395,2187.4 397.7,2187.4 400.3,2187.5 403,2187.5 405.7,2187.5 408.3,2187.5 411,2187.5 413.6,2187.5 416.3,2187.5 419,2187.5 421.6,2187.5 424.3,2187.5 426.9,2187.5 429.6,2187.5 432.3,2187.5 434.9,2187.5 437.6,2187.5 440.3,2187.5 442.9,2187.5 445.6,2187.5 448.2,2187.5 450.9,2187.5 453.6,2187.5 456.2,2187.5 458.9,2187.5 461.6,2187.5 464.2,2187.5 466.9,2187.5 469.5,2187.5 472.2,2187.5 474.9,2187.5 477.5,2187.5 480.2,2187.5 482.8,2187.5 485.5,2187.5 488.2,2187.5 490.8,2187.5 493.5,2187.5 496.2,2187.5 498.8,2187.5 501.5,2187.5 504.1,2187.5 506.8,2187.5 509.5,2187.5 512.1,2187.5 514.8,2187.5 517.5,2187.5 520.1,2187.5 522.8,2187.5 525.4,2187.5 528.1,2187.5 530.8,2187.5 533.4,2187.5 536.1,2187.5 538.8,2187.5 541.4,2187.5 544.1,2187.5 546.7,2187.5 549.4,2187.5 552.1,2187.5 554.7,2187.5 557.4,2187.5 560,2187.5 562.7,2187.5 565.4,2187.5 568,2187.5 570.7,2187.5 573.4,2187.5 576,2187.5 578.7,2187.5 581.3,2187.5 584,2187.5 586.7,2187.5 589.3,2187.5 592,2187.5 594.7,2187.5 597.3,2187.5 600,2187.5 602.6,2187.5 605.3,2187.5 608,2187.5 610.6,2187.5 613.3,2187.5 615.9,2187.5 618.6,2187.5 621.3,2187.5 623.9,2187.5 626.6,2187.5 629.3,2187.5 631.9,2187.5 634.6,2187.5 637.2,2187.5 639.9,2187.5 642.6,2187.5 645.2,2187.5 647.9,2187.5 650.6,2187.5 653.2,2187.5 655.9,2187.5 658.5,2187.5 661.2,2187.5 663.9,2187.5 666.5,2187.5 669.2,2187.5 671.9,2187.5 674.5,2187.5 677.2,2187.5 679.8,2187.5 682.5,2187.5 685.2,2187.5 687.8,2187.5 690.5,2187.5 693.1,2187.5 695.8,2187.5 698.5,2187.5 701.1,2187.5 703.8,2187.5 706.5,2187.5 709.1,2187.5 711.8,2187.5 714.4,2187.5 717.1,2187.5 719.8,2187.5 722.4,2187.5 725.1,2187.5 727.8,2187.5 730.4,2187.5 733.1,2187.5 735.7,2187.5 738.4,2187.5 741.1,2187.5 743.7,2187.5 746.4,2187.5 749,2187.5 751.7,2187.5 754.4,2187.5 757,2187.5 759.7,2187.5 762.4,2187.5 765,2187.5 767.7,2187.5 770.3,2187.5 773,2187.5 775.7,2187.5 777,2187.5" fill="none" stroke="#0000ff" stroke-width="3.0" stroke-linejoin="round"/>
<path d="M112.8,2178.2L114.9,2182L119.2,2181.9L116.9,2185.6L119.2,2189.3L114.9,2189.2L112.8,2193L110.8,2189.2L106.4,2189.3L108.7,2185.6L106.4,2181.9L110.8,2182Z" fill="#0000ff"/>
<path d="M152.8,2179.9L154.8,2183.7L159.2,2183.6L156.9,2187.3L159.2,2191L154.8,2190.9L152.8,2194.7L150.7,2190.9L146.4,2191L148.7,2187.3L146.4,2183.6L150.7,2183.7Z" fill="#0000ff"/>
<path d="M192.7,2179.9L194.7,2183.8L199.1,2183.6L196.8,2187.3L199.1,2191L194.7,2190.9L192.7,2194.7L190.6,2190.9L186.3,2191L188.6,2187.3L186.3,2183.6L190.6,2183.8Z" fill="#0000ff"/>
<path d="M232.6,2180L234.7,2183.8L239,2183.7L236.7,2187.4L239,2191.1L234.7,2190.9L232.6,2194.8L230.6,2190.9L226.2,2191.1L228.5,2187.4L226.2,2183.7L230.6,2183.8Z" fill="#0000ff"/>
<path d="M272.6,2180L274.6,2183.8L279,2183.7L276.7,2187.4L279,2191.1L274.6,2190.9L272.6,2194.8L270.5,2190.9L266.1,2191.1L268.5,2187.4L266.1,2183.7L270.5,2183.8Z" fill="#0000ff"/>
<path d="M312.5,2180L314.5,2183.9L318.9,2183.7L316.6,2187.4L318.9,2191.1L314.5,2191L312.5,2194.8L310.4,2191L306.1,2191.1L308.4,2187.4L306.1,2183.7L310.4,2183.9Z" fill="#0000ff"/>
<path d="M352.4,2180L354.5,2183.9L358.8,2183.7L356.5,2187.4L358.8,2191.1L354.5,2191L352.4,2194.8L350.4,2191L346,2191.1L348.3,2187.4L346,2183.7L350.4,2183.9Z" fill="#0000ff"/>
<path d="M392.3,2180L394.4,2183.9L398.7,2183.7L396.4,2187.4L398.7,2191.1L394.4,2191L392.3,2194.8L390.3,2191L385.9,2191.1L388.2,2187.4L385.9,2183.7L390.3,2183.9Z" fill="#0000ff"/>
<path d="M432.3,2180.1L434.3,2183.9L438.7,2183.8L436.4,2187.5L438.7,2191.2L434.3,2191L432.3,2194.9L430.2,2191L425.9,2191.2L428.2,2187.5L425.9,2183.8L430.2,2183.9Z" fill="#0000ff"/>
<path d="M472.2,2180.1L474.3,2183.9L478.6,2183.8L476.3,2187.5L478.6,2191.2L474.3,2191L472.2,2194.9L470.2,2191L465.8,2191.2L468.1,2187.5L465.8,2183.8L470.2,2183.9Z" fill="#0000ff"/>
<path d="M512.1,2180.1L514.2,2183.9L518.5,2183.8L516.2,2187.5L518.5,2191.2L514.2,2191L512.1,2194.9L510.1,2191L505.7,2191.2L508,2187.5L505.7,2183.8L510.1,2183.9Z" fill="#0000ff"/>
<path d="M552.1,2180.1L554.1,2183.9L558.5,2183.8L556.2,2187.5L558.5,2191.2L554.1,2191L552.1,2194.9L550,2191L545.7,2191.2L548,2187.5L545.7,2183.8L550,2183.9Z" fill="#0000ff"/>
<path d="M592,2180.1L594,2183.9L598.4,2183.8L596.1,2187.5L598.4,2191.2L594,2191L592,2194.9L589.9,2191L585.6,2191.2L587.9,2187.5L585.6,2183.8L589.9,2183.9Z" fill="#0000ff"/>
<path d="M631.9,2180.1L634,2183.9L638.3,2183.8L636,2187.5L638.3,2191.2L634,2191L631.9,2194.9L629.9,2191L625.5,2191.2L627.8,2187.5L625.5,2183.8L629.9,2183.9Z" fill="#0000ff"/>
<path d="M671.9,2180.1L673.9,2183.9L678.3,2183.8L676,2187.5L678.3,2191.2L673.9,2191L671.9,2194.9L669.8,2191L665.4,2191.2L667.8,2187.5L665.4,2183.8L669.8,2183.9Z" fill="#0000ff"/>
<path d="M711.8,2180.1L713.8,2183.9L718.2,2183.8L715.9,2187.5L718.2,2191.2L713.8,2191.1L711.8,2194.9L709.7,2191.1L705.4,2191.2L707.7,2187.5L705.4,2183.8L709.7,2183.9Z" fill="#0000ff"/>
<path d="M751.7,2180.1L753.8,2183.9L758.1,2183.8L755.8,2187.5L758.1,2191.2L753.8,2191.1L751.7,2194.9L749.7,2191.1L745.3,2191.2L747.6,2187.5L745.3,2183.8L749.7,2183.9Z" fill="#0000ff"/>
<polyline points="112.8,2185.6 113.9,2209.9 115.5,2214.8 118.2,2218.3 120.8,2222 120.8,2222 123.5,2230.6 126.1,2241.5 128.8,2251.3 129.5,2253.3 131.5,2258 134.1,2263.2 136.8,2268.1 139.5,2273.2 139.9,2274.1 142.1,2278.8 144.8,2284.5 147.4,2290.5 150.1,2296.9 152,2301.8 152.8,2303.9 155.4,2312.4 157.9,2320 158.1,2320.5 160.7,2327.4 163.4,2333.9 164.4,2336.2 166.1,2340.1 168.7,2346.1 171.4,2351.9 171.7,2352.5 174.1,2357.1 176.7,2362.4 177.3,2363.8 179.4,2370.4 182,2380.2 183.8,2384.9 184.7,2386.5 187.4,2389.9 190,2392.9 191.9,2395.5 192.7,2396.8 195.4,2401.9 198,2407.9 200.7,2414.6 201.7,2417.4 203.3,2423 206,2433.7 208.2,2440.1 208.7,2440.9 211.3,2444.4 214,2447 216.3,2449.9 216.6,2450.4 219.3,2454.6 222,2460.5 222.8,2462.9 224.6,2473.9 226,2482.3 227.3,2487.2 230,2494.8 231.7,2500.2 232.6,2503.8 235.3,2514.9 235.8,2516.4 237.9,2520.8 240.6,2524.9 242.3,2527.8 243.3,2529.7 245.9,2535.4 248.6,2541.9 248.8,2542.4 251.3,2550.2 253.6,2557 253.9,2557.6 256.6,2562.3 259.2,2565.8 260.1,2566.8 261.9,2568.3 264.6,2570.3 265.8,2571.6 267.2,2574.5 269.9,2583.1 272.3,2591.1 272.6,2591.8 275.2,2598.7 277.9,2605.4 278,2605.7 280.5,2612.9 282.9,2618.7 283.2,2619.2 285.9,2622.4 287.7,2625.2 288.5,2627.9 291,2638.2 291.2,2638.6 293.8,2641.9 295.8,2644.7 296.5,2646.6 299.2,2658.6 300.7,2664.2 301.8,2666.7 304.5,2670.9 307.2,2674.2 309.8,2677.8 312.1,2682 312.5,2682.9 315.1,2692.6 317,2698.2 317.8,2699.7 320.5,2704.5 323.1,2708.1 325.8,2709.6 325.9,2709.6" fill="none" stroke="#ff0000" stroke-width="3.0" stroke-linejoin="round"/>
<path d="M112.8,2178.2L114.9,2182L119.2,2181.9L116.9,2185.6L119.2,2189.3L114.9,2189.2L112.8,2193L110.8,2189.2L106.4,2189.3L108.7,2185.6L106.4,2181.9L110.8,2182Z" fill="#ff0000"/>
<path d="M152.8,2296.5L154.8,2300.4L159.2,2300.2L156.9,2303.9L159.2,2307.6L154.8,2307.5L152.8,2311.3L150.7,2307.5L146.4,2307.6L148.7,2303.9L146.4,2300.2L150.7,2300.4Z" fill="#ff0000"/>
<path d="M192.7,2389.4L194.7,2393.3L199.1,2393.1L196.8,2396.8L199.1,2400.5L194.7,2400.4L192.7,2404.2L190.6,2400.4L186.3,2400.5L188.6,2396.8L186.3,2393.1L190.6,2393.3Z" fill="#ff0000"/>
<path d="M232.6,2496.4L234.7,2500.3L239,2500.1L236.7,2503.8L239,2507.5L234.7,2507.4L232.6,2511.2L230.6,2507.4L226.2,2507.5L228.5,2503.8L226.2,2500.1L230.6,2500.3Z" fill="#ff0000"/>
<path d="M272.6,2584.4L274.6,2588.2L279,2588.1L276.7,2591.8L279,2595.5L274.6,2595.3L272.6,2599.2L270.5,2595.3L266.1,2595.5L268.5,2591.8L266.1,2588.1L270.5,2588.2Z" fill="#ff0000"/>
<path d="M312.5,2675.5L314.5,2679.4L318.9,2679.2L316.6,2682.9L318.9,2686.6L314.5,2686.5L312.5,2690.3L310.4,2686.5L306.1,2686.6L308.4,2682.9L306.1,2679.2L310.4,2679.4Z" fill="#ff0000"/>
<text x="444" y="2178.3" font-family="'Liberation Serif', 'Times New Roman', serif" font-size="27" text-anchor="middle" fill="#000">Objective Space</text>
<text x="443.5" y="2774.8" font-family="'Liberation Serif', 'Times New Roman', serif" font-size="26.8" text-anchor="middle" fill="#000">Iteration</text>
<text transform="translate(31,2447.5) rotate(-90)" font-family="'Liberation Serif', 'Times New Roman', serif" font-size="27" text-anchor="middle" fill="#000">Best finess obtianed so far</text>
<rect x="366.9" y="2556.9" width="277.8" height="134.8" fill="#fff" stroke="#262626" stroke-width="3"/>
<path d="M372.9,2572h61.5" stroke="#000000" stroke-width="3.2"/>

<text x="438.7" y="2579.5" font-family="'Liberation Serif', 'Times New Roman', serif" font-size="21.5" fill="#000">GWO</text>
<path d="M372.9,2598.1h61.5" stroke="#00ff00" stroke-width="3.2"/>
<path d="M400.1,2594.5L407.3,2601.7M400.1,2601.7L407.3,2594.5" stroke="#00ff00" stroke-width="2.6" fill="none"/>
<text x="438.7" y="2605.6" font-family="'Liberation Serif', 'Times New Roman', serif" font-size="21.5" fill="#000">SCA</text>
<path d="M372.9,2624.2h61.5" stroke="#ffff00" stroke-width="3.2"/>
<path d="M403.7,2616.7L408.5,2624.2L403.7,2631.7L398.9,2624.2Z" fill="#ffff00" stroke="#ffff00" stroke-width="1"/>
<text x="438.7" y="2631.7" font-family="'Liberation Serif', 'Times New Roman', serif" font-size="21.5" fill="#000">SSA</text>
<path d="M372.9,2650.3h61.5" stroke="#ff00ff" stroke-width="3.2"/>
<circle cx="403.7" cy="2650.3" r="4.6" fill="#ff00ff"/>
<text x="438.7" y="2657.8" font-family="'Liberation Serif', 'Times New Roman', serif" font-size="21.5" fill="#000">WCA</text>
<path d="M372.9,2676.4h61.5" stroke="#00ffff" stroke-width="3.2"/>
<path d="M403.7,2669.4L410.7,2681.4L396.7,2681.4Z" fill="#00ffff"/>
<text x="438.7" y="2683.9" font-family="'Liberation Serif', 'Times New Roman', serif" font-size="21.5" fill="#000">WOA</text>
<path d="M503.9,2572h61.5" stroke="#33e35a" stroke-width="3.2"/>
<circle cx="534.7" cy="2572" r="4.2" fill="#33e35a"/>
<text x="569.7" y="2579.5" font-family="'Liberation Serif', 'Times New Roman', serif" font-size="21.5" fill="#000">MPA</text>
<path d="M503.9,2598.1h61.5" stroke="#a946e3" stroke-width="3.2"/>
<path d="M534.7,2589.6L536.9,2595.8L543.5,2596L538.3,2600.1L540.2,2606.4L534.7,2602.7L529.2,2606.4L531.1,2600.1L525.9,2596L532.5,2595.8Z" fill="#a946e3"/>
<text x="569.7" y="2605.6" font-family="'Liberation Serif', 'Times New Roman', serif" font-size="21.5" fill="#000">LSA</text>
<path d="M503.9,2624.2h61.5" stroke="#1e9bce" stroke-width="3.2"/>
<path d="M534.7,2616.8L536.7,2620.6L541.1,2620.5L538.8,2624.2L541.1,2627.9L536.7,2627.8L534.7,2631.6L532.6,2627.8L528.3,2627.9L530.6,2624.2L528.3,2620.5L532.6,2620.6Z" fill="#1e9bce"/>
<text x="569.7" y="2631.7" font-family="'Liberation Serif', 'Times New Roman', serif" font-size="21.5" fill="#000">HGSO</text>
<path d="M503.9,2650.3h61.5" stroke="#0000ff" stroke-width="3.2"/>
<path d="M534.7,2642.9L536.7,2646.7L541.1,2646.6L538.8,2650.3L541.1,2654L536.7,2653.9L534.7,2657.7L532.6,2653.9L528.3,2654L530.6,2650.3L528.3,2646.6L532.6,2646.7Z" fill="#0000ff"/>
<text x="569.7" y="2657.8" font-family="'Liberation Serif', 'Times New Roman', serif" font-size="21.5" fill="#000">TSA</text>
<path d="M503.9,2676.4h61.5" stroke="#ff0000" stroke-width="3.2"/>
<path d="M534.7,2669L536.7,2672.8L541.1,2672.7L538.8,2676.4L541.1,2680.1L536.7,2680L534.7,2683.8L532.6,2680L528.3,2680.1L530.6,2676.4L528.3,2672.7L532.6,2672.8Z" fill="#ff0000"/>
<text x="569.7" y="2683.9" font-family="'Liberation Serif', 'Times New Roman', serif" font-size="21.5" fill="#000">TLTSA</text>
<path d="M1048.4,2709.6v-7M1048.4,2185.7v7" stroke="#262626" stroke-width="1.1"/>
<path d="M1115,2709.6v-7M1115,2185.7v7" stroke="#262626" stroke-width="1.1"/>
<path d="M1181.5,2709.6v-7M1181.5,2185.7v7" stroke="#262626" stroke-width="1.1"/>
<path d="M1248.1,2709.6v-7M1248.1,2185.7v7" stroke="#262626" stroke-width="1.1"/>
<path d="M1314.6,2709.6v-7M1314.6,2185.7v7" stroke="#262626" stroke-width="1.1"/>
<path d="M1381.2,2709.6v-7M1381.2,2185.7v7" stroke="#262626" stroke-width="1.1"/>
<path d="M1447.7,2709.6v-7M1447.7,2185.7v7" stroke="#262626" stroke-width="1.1"/>
<path d="M1514.2,2709.6v-7M1514.2,2185.7v7" stroke="#262626" stroke-width="1.1"/>
<path d="M1580.8,2709.6v-7M1580.8,2185.7v7" stroke="#262626" stroke-width="1.1"/>
<path d="M1647.3,2709.6v-7M1647.3,2185.7v7" stroke="#262626" stroke-width="1.1"/>
<path d="M1015,2685.8h7M1680,2685.8h-7" stroke="#262626" stroke-width="1.1"/>
<text x="1005.3" y="2693.2" font-family="'Liberation Sans', Arial, Helvetica, sans-serif" font-size="19.6" text-anchor="end" fill="#262626">0</text>
<path d="M1015,2606.2h7M1680,2606.2h-7" stroke="#262626" stroke-width="1.1"/>
<text x="1005.3" y="2613.6" font-family="'Liberation Sans', Arial, Helvetica, sans-serif" font-size="19.6" text-anchor="end" fill="#262626">0.05</text>
<path d="M1015,2526.5h7M1680,2526.5h-7" stroke="#262626" stroke-width="1.1"/>
<text x="1005.3" y="2533.9" font-family="'Liberation Sans', Arial, Helvetica, sans-serif" font-size="19.6" text-anchor="end" fill="#262626">0.1</text>
<path d="M1015,2446.9h7M1680,2446.9h-7" stroke="#262626" stroke-width="1.1"/>
<text x="1005.3" y="2454.3" font-family="'Liberation Sans', Arial, Helvetica, sans-serif" font-size="19.6" text-anchor="end" fill="#262626">0.15</text>
<path d="M1015,2367.3h7M1680,2367.3h-7" stroke="#262626" stroke-width="1.1"/>
<text x="1005.3" y="2374.7" font-family="'Liberation Sans', Arial, Helvetica, sans-serif" font-size="19.6" text-anchor="end" fill="#262626">0.2</text>
<path d="M1015,2287.6h7M1680,2287.6h-7" stroke="#262626" stroke-width="1.1"/>
<text x="1005.3" y="2295" font-family="'Liberation Sans', Arial, Helvetica, sans-serif" font-size="19.6" text-anchor="end" fill="#262626">0.25</text>
<path d="M1015,2208h7M1680,2208h-7" stroke="#262626" stroke-width="1.1"/>
<text x="1005.3" y="2215.4" font-family="'Liberation Sans', Arial, Helvetica, sans-serif" font-size="19.6" text-anchor="end" fill="#262626">0.3</text>
<text x="1048.4" y="2738" font-family="'Liberation Sans', Arial, Helvetica, sans-serif" font-size="19.5" text-anchor="middle" fill="#262626">GWO</text>
<text x="1115" y="2738" font-family="'Liberation Sans', Arial, Helvetica, sans-serif" font-size="19.5" text-anchor="middle" fill="#262626">SCA</text>
<text x="1181.5" y="2738" font-family="'Liberation Sans', Arial, Helvetica, sans-serif" font-size="19.5" text-anchor="middle" fill="#262626">SSA</text>
<text x="1248.1" y="2738" font-family="'Liberation Sans', Arial, Helvetica, sans-serif" font-size="19.5" text-anchor="middle" fill="#262626">WCA</text>
<text x="1314.6" y="2738" font-family="'Liberation Sans', Arial, Helvetica, sans-serif" font-size="19.5" text-anchor="middle" fill="#262626">WOA</text>
<text x="1381.2" y="2738" font-family="'Liberation Sans', Arial, Helvetica, sans-serif" font-size="19.5" text-anchor="middle" fill="#262626">MPA</text>
<text x="1447.7" y="2738" font-family="'Liberation Sans', Arial, Helvetica, sans-serif" font-size="19.5" text-anchor="middle" fill="#262626">LSA</text>
<text x="1514.2" y="2738" font-family="'Liberation Sans', Arial, Helvetica, sans-serif" font-size="19.5" text-anchor="middle" fill="#262626">HGSO</text>
<text x="1580.8" y="2738" font-family="'Liberation Sans', Arial, Helvetica, sans-serif" font-size="19.5" text-anchor="middle" fill="#262626">TSA</text>
<text x="1647.3" y="2738" font-family="'Liberation Sans', Arial, Helvetica, sans-serif" font-size="19.5" text-anchor="middle" fill="#262626">TLTSA</text>
<text transform="translate(957.3,2449) rotate(-90)" font-family="'Liberation Sans', Arial, Helvetica, sans-serif" font-size="22.5" text-anchor="middle" fill="#262626">Best fitness obtained so far</text>
<path d="M1032,2685.8h32.9" stroke="#0000ff" stroke-width="1.3"/>
<path d="M1032.5,2685.8h31.7" stroke="#ff0000" stroke-width="1.5"/>
<path d="M1098.5,2685.8h32.9" stroke="#0000ff" stroke-width="1.3"/>
<path d="M1099.1,2685.8h31.7" stroke="#ff0000" stroke-width="1.5"/>
<path d="M1165,2685.8h32.9" stroke="#0000ff" stroke-width="1.3"/>
<path d="M1165.6,2685.8h31.7" stroke="#ff0000" stroke-width="1.5"/>
<path d="M1231.6,2685.8h32.9" stroke="#0000ff" stroke-width="1.3"/>
<path d="M1232.2,2685.8h31.7" stroke="#ff0000" stroke-width="1.5"/>
<path d="M1298.2,2685.8h32.9" stroke="#0000ff" stroke-width="1.3"/>
<path d="M1298.8,2685.8h31.7" stroke="#ff0000" stroke-width="1.5"/>
<path d="M1364.7,2685.8h32.9" stroke="#0000ff" stroke-width="1.3"/>
<path d="M1365.3,2685.8h31.7" stroke="#ff0000" stroke-width="1.5"/>
<path d="M1431.2,2685.8h32.9" stroke="#0000ff" stroke-width="1.3"/>
<path d="M1431.8,2685.8h31.7" stroke="#ff0000" stroke-width="1.5"/>
<path d="M1497.8,2685.8h32.9" stroke="#0000ff" stroke-width="1.3"/>
<path d="M1498.4,2685.8h31.7" stroke="#ff0000" stroke-width="1.5"/>
<path d="M1564.4,2685.8h32.9" stroke="#0000ff" stroke-width="1.3"/>
<path d="M1565,2685.8h31.7" stroke="#ff0000" stroke-width="1.5"/>
<path d="M1630.9,2685.8h32.9" stroke="#0000ff" stroke-width="1.3"/>
<path d="M1631.5,2685.8h31.7" stroke="#ff0000" stroke-width="1.5"/>
<path d="M1574.8,2209.5h12M1580.8,2203.5v12" stroke="#ff0000" stroke-width="1.3"/>
<path d="M1042.4,2685.8h12M1048.4,2679.8v12" stroke="#ff0000" stroke-width="1.3"/>
<path d="M1109,2685.8h12M1115,2679.8v12" stroke="#ff0000" stroke-width="1.3"/>
<path d="M1175.5,2685.8h12M1181.5,2679.8v12" stroke="#ff0000" stroke-width="1.3"/>
<path d="M1242.1,2685.8h12M1248.1,2679.8v12" stroke="#ff0000" stroke-width="1.3"/>
<path d="M1308.6,2685.8h12M1314.6,2679.8v12" stroke="#ff0000" stroke-width="1.3"/>
<path d="M1375.2,2685.8h12M1381.2,2679.8v12" stroke="#ff0000" stroke-width="1.3"/>
<path d="M1441.7,2685.8h12M1447.7,2679.8v12" stroke="#ff0000" stroke-width="1.3"/>
<path d="M1508.2,2685.8h12M1514.2,2679.8v12" stroke="#ff0000" stroke-width="1.3"/>
<path d="M1574.8,2685.8h12M1580.8,2679.8v12" stroke="#ff0000" stroke-width="1.3"/>
<rect x="1015.3" y="2185.7" width="665" height="523.9" fill="none" stroke="#505050" stroke-width="1.4"/>
<rect x="0" y="1388.8" width="2.8" height="3.6" fill="#707070"/><rect x="0" y="1386.5" width="1.2" height="2.3" fill="#c8f0d8"/>
</svg>
</body></html>
